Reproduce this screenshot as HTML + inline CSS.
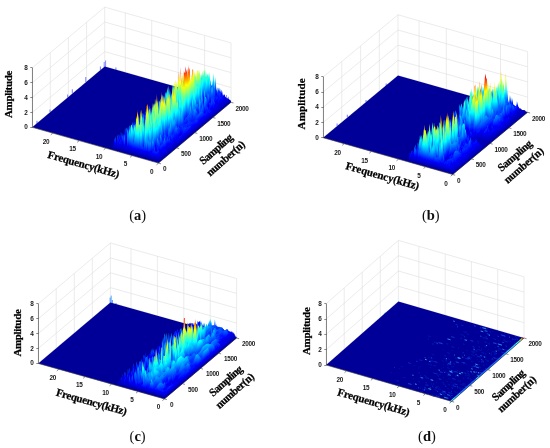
<!DOCTYPE html>
<html><head><meta charset="utf-8"><title>Figure</title>
<style>
html,body{margin:0;padding:0;background:#fff}
svg{display:block}
.tk{font-family:"Liberation Sans",sans-serif;font-size:6.4px;font-weight:bold;fill:#1a1a1a;letter-spacing:-0.3px}
.ti{font-family:"Liberation Serif",serif;font-weight:bold;font-size:11px;fill:#000;stroke:#000;stroke-width:0.25px}
.cap{font-family:"Liberation Serif",serif;font-size:14.5px;fill:#111}
</style></head><body>
<svg width="550" height="448" viewBox="0 0 550 448">
<defs><filter id="bl" x="-5%" y="-5%" width="110%" height="110%"><feGaussianBlur stdDeviation="0.45"/></filter><filter id="bt" x="-5%" y="-5%" width="110%" height="110%"><feGaussianBlur stdDeviation="0.25"/></filter><linearGradient id="ga" gradientUnits="userSpaceOnUse" x1="0" y1="0" x2="-29.25" y2="-34.87"><stop offset="0%" stop-color="#030398"/><stop offset="6%" stop-color="#0000c8"/><stop offset="12.5%" stop-color="#0000ff"/><stop offset="25%" stop-color="#0080ff"/><stop offset="37.5%" stop-color="#00ffff"/><stop offset="50%" stop-color="#80ff80"/><stop offset="62.5%" stop-color="#ffff00"/><stop offset="75%" stop-color="#ff8000"/><stop offset="87.5%" stop-color="#ff0000"/><stop offset="100%" stop-color="#800000"/></linearGradient>
<linearGradient id="gb" gradientUnits="userSpaceOnUse" x1="0" y1="0" x2="-26.85" y2="-32.33"><stop offset="0%" stop-color="#030398"/><stop offset="6%" stop-color="#0000c8"/><stop offset="12.5%" stop-color="#0000ff"/><stop offset="25%" stop-color="#0080ff"/><stop offset="37.5%" stop-color="#00ffff"/><stop offset="50%" stop-color="#80ff80"/><stop offset="62.5%" stop-color="#ffff00"/><stop offset="75%" stop-color="#ff8000"/><stop offset="87.5%" stop-color="#ff0000"/><stop offset="100%" stop-color="#800000"/></linearGradient>
<linearGradient id="gc" gradientUnits="userSpaceOnUse" x1="0" y1="0" x2="-22.73" y2="-26.94"><stop offset="0%" stop-color="#030398"/><stop offset="6%" stop-color="#0000c8"/><stop offset="12.5%" stop-color="#0000ff"/><stop offset="25%" stop-color="#0080ff"/><stop offset="37.5%" stop-color="#00ffff"/><stop offset="50%" stop-color="#80ff80"/><stop offset="62.5%" stop-color="#ffff00"/><stop offset="75%" stop-color="#ff8000"/><stop offset="87.5%" stop-color="#ff0000"/><stop offset="100%" stop-color="#800000"/></linearGradient>
<linearGradient id="gd" gradientUnits="userSpaceOnUse" x1="0" y1="0" x2="-30.34" y2="-34.60"><stop offset="0%" stop-color="#030398"/><stop offset="6%" stop-color="#0000c8"/><stop offset="12.5%" stop-color="#0000ff"/><stop offset="25%" stop-color="#0080ff"/><stop offset="37.5%" stop-color="#00ffff"/><stop offset="50%" stop-color="#80ff80"/><stop offset="62.5%" stop-color="#ffff00"/><stop offset="75%" stop-color="#ff8000"/><stop offset="87.5%" stop-color="#ff0000"/><stop offset="100%" stop-color="#800000"/></linearGradient></defs>
<rect width="550" height="448" fill="#fff"/>
<!-- plot a -->
<g filter="url(#bl)">
<path d="M32.2 127.3L32.2 67.9M50.3 112.1L50.3 52.7M68.4 96.9L68.4 37.5M86.6 81.7L86.6 22.3M104.7 66.5L104.7 7.1M32.2 127.3L104.7 66.5L231 102.3M32.2 112.5L104.7 51.6L231 87.5M32.2 97.6L104.7 36.8L231 72.6M32.2 82.8L104.7 22L231 57.8M32.2 67.9L104.7 7.1L231 42.9M125.3 72.3L125.3 12.9M151.7 79.8L151.7 20.4M178.2 87.3L178.2 27.9M204.6 94.8L204.6 35.4M231 102.3L231 42.9" fill="none" stroke="#dedede" stroke-width="0.6"/>
<path d="M37 125.8v-5" stroke="#6f7dff" stroke-width="1"/><path d="M67.7 97.5v-3" stroke="#6f7dff" stroke-width="1"/><path d="M72.3 93.3v-4" stroke="#6f7dff" stroke-width="1"/><path d="M85.8 82v-5" stroke="#6f7dff" stroke-width="1"/><path d="M100.4 70v-3.5" stroke="#6f7dff" stroke-width="1"/><path d="M104.2 67v-5" stroke="#7f8cff" stroke-width="1"/><path d="M105.6 67v-6.5" stroke="#7f8cff" stroke-width="1"/><path d="M115.9 70v-2.5" stroke="#6f7dff" stroke-width="1"/><path d="M226.5 101v-6" stroke="#8a94ff" stroke-width="1"/><path d="M228.5 101.8v-5" stroke="#8a94ff" stroke-width="1"/><path d="M50 112v-2.5" stroke="#6f7dff" stroke-width="1"/>
<polygon points="158.5,163.1 32.2,127.3 104.7,66.5 231,102.3" fill="#030398"/>
<g fill="url(#ga)"><path transform="translate(111.4 149.7)" d="M0 0l0-0.8l0.8-0.7l0.7-0.7l0.8-0.7l0.8-0.7l0.7-0.7l0.8-0.6l0.7-0.7l0.8-0.7l0.8-0.6l0.7-2.2l0.8 0.1l0.8 0.3l0.7-0.5l0.8-0.7l0.7-0.6l0.8-0.6l0.8-0.6l0.7-0.6l0.8-2.1l0.8-0.1l0.7-0.9l0.8-0.2l0.8-0.7l0.7-0.5l0.8-0.5l0.7-0.5l0.8-0.5l0.8-2.1l0.7-0.1l0.8-1.1l0.8-0.1l0.7 0.6l0.8-0.8l0.7-3.1l0.8 0.2l0.8 0.6l0.7-0.6l0.8-3.1l0.8 0.3l0.7-2.2l0.8 0.4l0.8 1.5l0.7-0.6l0.8-0.6l0.7-0.6l0.8-0.7l0.8-0.8l0.7-0.8l0.8-0.8l0.8-0.7l0.7-0.6l0.8-0.6l0.7-0.6l0.8-0.6l0.8-0.6l0.7-0.5l0.8-0.5l0.8-0.6l0.7-0.6l0.8-0.6l0.8-0.7l0.7-0.6l0.8-0.7l0.7-4.4l0.8 0.5l0.8 2l0.7-0.7l0.8-0.6l0.8-0.6l0.7-0.7l0.8-0.7l0.7-0.6l0.8-0.7l0.8-0.5l0.7-0.6l0.8-0.5l0.8-0.6l0.7-0.7l0.8-0.7l0.8-0.6l0.7-0.7l0.8-0.6l0.7-0.6l0.8-0.6l0.8-0.7l0.7-0.6l0.8-0.6l0.8-0.7l0.7-0.8l0.8-2.7l0.7 0.1l0.8 0.8l0.8-0.4l0.7-0.5l0.8-0.4l0 0.2z"/>
<path transform="translate(112.3 150)" d="M0 0l0-2.8l0.8-0.7l0.7-0.6l0.8-7.2l0.8 1.5l0.7 1.3l0.8 1.9l0.7-0.5l0.8-8.7l0.8 2.3l0.7 4.5l0.8-0.8l0.8-3.1l0.7 0.8l0.8 0.1l0.7-0.4l0.8-0.3l0.8-0.3l0.7-0.5l0.8-0.7l0.8-1l0.7-1.1l0.8-0.9l0.8-0.7l0.7-0.6l0.8-0.7l0.7-6.9l0.8 1.8l0.8 3.2l0.7-0.2l0.8-6.5l0.8 0.5l0.7 1.3l0.8-3l0.7 1.4l0.8 1.7l0.8 0.3l0.7-0.7l0.8-2.6l0.8 0.4l0.7-8.7l0.8 2.2l0.8-1.5l0.7 1.7l0.8-4.7l0.7-1.7l0.8 2.4l0.8 5.9l0.7-10.5l0.8-0.1l0.8 2.5l0.7 4.1l0.8-0.2l0.7-0.2l0.8-8.5l0.8 2l0.7 1.8l0.8-1.4l0.8-5.5l0.7 2.4l0.8-2.6l0.8 2.2l0.7 3.9l0.8-0.9l0.7-0.5l0.8-0.3l0.8-0.2l0.7-0.3l0.8-0.5l0.8-4.6l0.7 1.3l0.8 0.2l0.7-1l0.8-0.5l0.8-2.1l0.7 0.7l0.8-0.4l0.8 0l0.7 0.5l0.8-0.5l0.8-0.5l0.7-7.5l0.8 1.4l0.7 4.2l0.8-0.7l0.8-0.7l0.7-0.7l0.8-0.6l0.8-3.3l0.7 0.5l0.8 0.6l0.7-0.7l0.8-0.6l0.8-0.4l0.7-0.4l0.8 0.1l0 0.6z"/>
<path transform="translate(113.3 150.3)" d="M0 0l0-3.7l0.8-7.7l0.7 1.3l0.8 1.5l0.8 2.6l0.7-0.6l0.8-0.5l0.7-0.4l0.8-3.2l0.8 0.9l0.7-8.6l0.8 2.8l0.8 4.9l0.7-0.7l0.8-5.7l0.7 1.4l0.8 1.1l0.8 1.5l0.7-3.5l0.8 0.6l0.8 0.8l0.7-9.3l0.8 1.5l0.8 1.6l0.7 3.1l0.8-8.8l0.7 2.1l0.8-2.9l0.8 0l0.7 2l0.8 3.3l0.8 0.4l0.7-0.6l0.8-0.8l0.7-0.8l0.8-0.8l0.8-0.7l0.7-0.6l0.8-0.5l0.8-0.6l0.7-4.9l0.8 1.1l0.8 1.5l0.7-3.8l0.8 0.7l0.7 1.3l0.8-0.8l0.8-1.1l0.7-1.3l0.8-1.3l0.8-0.8l0.7-3l0.8 1.1l0.7-6.1l0.8 2l0.8 4.3l0.7-0.5l0.8-8.3l0.8 2.2l0.7 4.7l0.8-0.8l0.8-3.8l0.7 0.9l0.8-1.8l0.7-4.9l0.8 1.5l0.8 4.1l0.7-5.1l0.8-7.6l0.8 1.8l0.7 3l0.8-0.7l0.7 2.1l0.8 1l0.8-0.2l0.7-0.2l0.8-3.7l0.8 0.8l0.7 1.8l0.8-8.2l0.8 1.8l0.7 5.2l0.8-0.5l0.7-9.2l0.8 1.9l0.8 5.1l0.7-0.4l0.8-0.8l0.8-0.8l0.7-0.8l0.8-0.8l0.7-0.7l0.8-0.5l0.8-0.3l0.7-3.7l0.8 2.6l0 1.7z"/>
<path transform="translate(114.3 150.6)" d="M0 0l0-4.8l0.8-9.3l0.7 2.5l0.8 5.3l0.8-9.6l0.7 2.4l0.8 5.7l0.7-0.3l0.8-0.3l0.8-0.5l0.7-9l0.8 2.6l0.8 5.1l0.7-0.4l0.8-11.5l0.7 2.7l0.8 7l0.8-6.2l0.7-5.2l0.8 2.5l0.8-0.3l0.7 1.6l0.8 2.4l0.8-0.6l0.7-0.4l0.8-0.4l0.7-0.4l0.8-0.6l0.8-8.2l0.7 1.2l0.8 1.7l0.8 1.8l0.7-1.4l0.8-4.9l0.7 1.6l0.8 1.5l0.8 0.4l0.7-3.8l0.8-1.7l0.8 1.3l0.7 2.6l0.8-0.6l0.8-1.2l0.7-1.5l0.8-1.4l0.7-1.2l0.8-8l0.8 2.3l0.7 4l0.8-0.6l0.8-0.7l0.7-0.4l0.8-8l0.7 2.1l0.8 4.9l0.8-11.8l0.7 3l0.8 6.8l0.8-0.7l0.7-0.5l0.8-0.5l0.8-0.5l0.7-0.4l0.8-0.6l0.7-0.6l0.8-0.6l0.8-0.7l0.7-0.6l0.8-0.7l0.8-0.6l0.7-0.5l0.8-0.6l0.7-7.6l0.8 2.4l0.8 2.8l0.7-3.9l0.8 0.5l0.8-3.1l0.7 1.3l0.8 1.8l0.8-0.1l0.7-0.3l0.8-0.5l0.7-7.7l0.8 1.7l0.8 1l0.7 0.7l0.8 1.6l0.8-8.3l0.7 1.9l0.8 3.3l0.7-6.5l0.8 1.8l0.8 3.8l0.7-0.4l0.8-2l0 3.3z"/>
<path transform="translate(115.2 150.8)" d="M0 0l0-13.1l0.8 2.5l0.7 5l0.8-0.6l0.8-0.6l0.7-5.1l0.8-4.1l0.7 2.4l0.8 4.8l0.8-0.5l0.7-0.5l0.8-6.1l0.8 1.6l0.7 3.8l0.8-12.6l0.7 0.6l0.8 2.7l0.8 3.8l0.7-4l0.8-5.1l0.8 2.7l0.7 5.4l0.8-1l0.8-0.6l0.7-0.4l0.8-7.4l0.7 1.8l0.8 4.5l0.8-0.8l0.7-1l0.8-1l0.8-1l0.7-7.1l0.8 2.3l0.7-1.1l0.8 1.4l0.8-2.5l0.7-6.7l0.8 2.6l0.8-0.9l0.7-3.7l0.8 2.9l0.8 0.4l0.7 1.6l0.8 1.9l0.7-9.2l0.8 2.6l0.8 4.5l0.7-0.4l0.8-0.5l0.8-0.7l0.7-5.1l0.8 1.8l0.7-0.4l0.8-6.2l0.8 2.1l0.7 4.8l0.8-0.8l0.8-8.7l0.7 2.5l0.8 4.4l0.8-0.3l0.7-9.4l0.8 2.1l0.7 5.9l0.8-0.8l0.8-0.9l0.7-0.8l0.8-12.4l0.8 3.6l0.7 7.2l0.8-0.4l0.7-0.5l0.8-8.5l0.8 2.4l0.7 2.8l0.8-1.2l0.8-0.7l0.7-0.3l0.8-6.5l0.8 1.7l0.7 4.1l0.8-0.4l0.7-0.4l0.8-3.7l0.8-6.1l0.7 2.9l0.8 4.9l0.8-1.2l0.7-1.1l0.8-1l0.7-0.6l0.8-0.2l0.8-1.3l0.7 0.8l0.8 1l0 0.6z"/>
<path transform="translate(116.2 151.1)" d="M0 0l0-2.5l0.8-5.8l0.7 1.2l0.8 1.8l0.8-1l0.7-0.9l0.8-0.9l0.7-8.5l0.8 2.4l0.8-0.9l0.7 1.7l0.8 2.1l0.8-1.9l0.7 0.7l0.8-5.4l0.7 1.6l0.8-1.4l0.8 1.4l0.7-10.1l0.8 3.3l0.8 6.6l0.7-12.7l0.8 3l0.8 8.4l0.7-2l0.8 0.4l0.7-14.3l0.8 3.5l0.8 5.7l0.7 3.2l0.8-8.7l0.8-3.8l0.7 3.4l0.8-3.3l0.7 2.7l0.8 2.2l0.8-5.6l0.7 2l0.8 4.4l0.8-0.9l0.7-0.9l0.8-0.6l0.8-10.9l0.7 2.7l0.8 2.1l0.7 0.2l0.8 1.3l0.8 0.9l0.7-0.8l0.8-1l0.8-0.8l0.7-0.4l0.8-0.2l0.7-0.1l0.8-0.3l0.8-0.8l0.7-10.9l0.8 2.1l0.8 6.1l0.7-0.6l0.8-0.5l0.8-0.4l0.7-0.5l0.8-0.5l0.7-13.7l0.8 3l0.8 7.3l0.7-14.8l0.8 4.3l0.8 6.3l0.7 1.1l0.8-0.5l0.7-0.5l0.8-0.5l0.8-0.4l0.7-0.2l0.8-0.4l0.8-0.4l0.7-0.5l0.8-0.5l0.8-0.5l0.7-8.3l0.8 2.3l0.7 4.5l0.8-0.4l0.8-9.7l0.7 3.2l0.8-0.7l0.8 1.7l0.7 1.6l0.8-0.8l0.7-0.6l0.8 0l0.8 0.2l0.7 0.2l0.8-1.1l0 1.7z"/>
<path transform="translate(117.1 151.4)" d="M0 0l0-1.6l0.8-12.2l0.7 2.8l0.8 6.1l0.8-1.2l0.7-1l0.8-1.2l0.7-7.1l0.8 1.8l0.8 1.7l0.7-0.4l0.8 0.3l0.8-5.1l0.7-0.1l0.8 1.6l0.7 2.6l0.8-1.6l0.8-1.4l0.7-1l0.8-7.7l0.8 2.7l0.7 5.2l0.8 0l0.8-0.5l0.7-0.6l0.8-14.4l0.7-0.1l0.8 3.1l0.8-0.7l0.7 2.7l0.8 5.6l0.8-0.6l0.7-4l0.8 1l0.7 0.2l0.8-5.9l0.8 1.3l0.7 2l0.8-4.4l0.8 1l0.7-11l0.8 3.5l0.8 7.1l0.7-0.2l0.8-0.2l0.7-0.3l0.8-0.6l0.8-0.9l0.7-1l0.8-11.2l0.8 2.8l0.7 6l0.8-10.2l0.7 2.8l0.8 0.8l0.8-6.7l0.7 2.5l0.8 5.1l0.8-14.4l0.7 4.2l0.8-3.3l0.8 4l0.7 8.8l0.8-0.6l0.7-0.8l0.8-10.5l0.8 2.2l0.7 2.4l0.8 0.3l0.8-0.5l0.7-0.5l0.8-1.1l0.7 0.1l0.8-0.4l0.8 0.1l0.7-7.2l0.8-2.6l0.8 2.8l0.7-2.7l0.8 2.5l0.8 3.7l0.7 0.7l0.8-0.3l0.7-0.5l0.8-0.4l0.8-0.5l0.7-0.5l0.8-4.6l0.8-4.6l0.7 2.2l0.8 3.4l0.7-0.5l0.8 0l0.8 0.3l0.7 0.2l0.8-0.6l0 1.2z"/>
<path transform="translate(118.1 151.6)" d="M0 0l0-1.9l0.8-0.8l0.7-1.1l0.8-1.2l0.8-1.1l0.7-0.9l0.8-0.8l0.7-0.9l0.8-0.9l0.8-7.8l0.7 1.7l0.8 3.9l0.8-0.5l0.7-0.5l0.8-0.6l0.7-13l0.8 3.8l0.8-2.6l0.7 3.2l0.8 4.9l0.8-0.1l0.7-0.1l0.8-0.2l0.8-11.1l0.7 2.4l0.8 6.8l0.7-0.7l0.8-0.7l0.8-0.8l0.7-13.5l0.8 4.1l0.8-2.9l0.7 3.4l0.8 0l0.7 1.8l0.8 1.3l0.8-0.8l0.7-0.7l0.8-0.9l0.8-6.5l0.7 2l0.8 2.3l0.8-7.6l0.7 2.6l0.8 5.3l0.7-0.2l0.8-0.7l0.8-11l0.7 2.7l0.8-5.1l0.8 2.8l0.7-5.2l0.8-0.2l0.7 3l0.8 0.4l0.8 1.8l0.7 3.8l0.8-1.1l0.8-1.1l0.7-0.7l0.8-0.7l0.8-8.1l0.7-7l0.8 4.7l0.7-2.6l0.8 4l0.8 3.7l0.7-1.1l0.8-5.2l0.8 2.2l0.7 1.4l0.8-5l0.7 1.8l0.8 1.9l0.8 0.2l0.7 0.3l0.8 0.2l0.8-4.8l0.7 1.2l0.8 1.8l0.8-0.8l0.7-0.7l0.8-0.6l0.7-0.5l0.8-3.5l0.8 1.1l0.7-1l0.8 0.7l0.8-7.4l0.7 0.7l0.8 1.6l0.7 1.7l0.8 0l0.8 0.5l0.7 0.3l0.8-1.8l0 2.5z"/>
<path transform="translate(119.1 151.9)" d="M0 0l0-10.8l0.8 2.1l0.7 4.4l0.8-1.2l0.8-12l0.7 3.6l0.8 6.5l0.7-0.4l0.8-0.5l0.8-6.6l0.7 1.7l0.8 2.2l0.8-5.1l0.7 1.5l0.8 0.4l0.7-0.6l0.8-4.6l0.8 1.2l0.7 2l0.8-0.4l0.8-9.8l0.7-1.2l0.8 2.8l0.8 6.4l0.7-0.7l0.8-10.6l0.7 1.4l0.8 2.2l0.8-4.9l0.7 3l0.8 3.8l0.8-0.8l0.7-0.8l0.8-0.9l0.7-0.9l0.8-0.8l0.8-0.7l0.7-0.7l0.8-0.7l0.8-0.9l0.7-0.7l0.8-0.6l0.8 0l0.7 0.5l0.8 0.4l0.7 0l0.8-0.8l0.8-1.1l0.7-11.7l0.8 2.8l0.8 5.4l0.7-0.4l0.8 0l0.7-11.6l0.8-4.2l0.8 3.6l0.7 3.2l0.8-10.7l0.8 3.3l0.7 10.9l0.8-0.8l0.8-1.1l0.7-16.2l0.8 5.8l0.7 8l0.8-0.6l0.8-0.6l0.7-0.6l0.8-0.6l0.8-0.3l0.7-0.4l0.8-0.3l0.7-0.5l0.8-0.4l0.8 0.2l0.7-5.2l0.8 1.6l0.8 3.8l0.7-7.2l0.8 1.6l0.8 3l0.7-8.3l0.8 2l0.7-1l0.8 0.9l0.8 0.8l0.7 2.4l0.8-10.6l0.8 2.3l0.7 4.6l0.8-9.2l0.7 2.4l0.8-4.1l0.8 3.7l0.7 6.3l0.8 0.3l0 0.6z"/>
<path transform="translate(120 152.2)" d="M0 0l0-3.4l0.8-9.5l0.7 2.7l0.8 4.2l0.8-0.8l0.7-0.4l0.8-0.3l0.7-6.6l0.8 1.7l0.8 4.1l0.7-0.8l0.8-1.1l0.8-1.4l0.7-1.1l0.8-0.7l0.7-5.6l0.8 1.5l0.8 2.6l0.7-12.8l0.8 3.1l0.8 8l0.7-13.9l0.8 3.6l0.8 9.1l0.7-0.7l0.8-0.9l0.7-0.9l0.8-0.9l0.8-0.8l0.7-14.3l0.8 4.2l0.8 8.1l0.7-0.8l0.8-1l0.7-1l0.8-1l0.8-0.9l0.7-9.9l0.8 2.5l0.8 5.5l0.7-0.7l0.8-0.7l0.8-0.2l0.7 0.1l0.8 0.2l0.7-0.2l0.8-15.8l0.8 4.1l0.7-1.8l0.8 2.8l0.8 5.6l0.7-14.6l0.8 3.7l0.7 9.6l0.8-11.5l0.8 2.9l0.7 6l0.8-3.9l0.8-3.1l0.7 2.2l0.8-1l0.8-13.5l0.7 5.2l0.8 1.1l0.7-7.2l0.8 5.8l0.8 5.5l0.7 1.4l0.8-2.9l0.8 1.5l0.7 0.4l0.8-0.3l0.7-0.4l0.8-6.3l0.8 1.8l0.7 4l0.8-7.6l0.8 2l0.7 4.5l0.8-0.8l0.8-0.9l0.7-3.7l0.8 0.7l0.7 1.2l0.8-0.5l0.8-0.6l0.7-8.6l0.8 1.7l0.8 4.1l0.7-2.7l0.8 0.3l0.7-0.6l0.8 0l0.8 0.4l0.7 0.3l0.8 0.2l0 0.6z"/>
<path transform="translate(121 152.5)" d="M0 0l0-4.2l0.8-0.7l0.7-0.8l0.8-7.4l0.8-5.5l0.7 4l0.8 4l0.7 3.2l0.8-0.1l0.8-4.4l0.7-10.9l0.8 2.8l0.8 8.6l0.7-7.5l0.8 2l0.7 3l0.8-11.3l0.8 3.6l0.7-3.5l0.8-0.7l0.8 3l0.7 1.8l0.8 1.2l0.8 2.7l0.7-13.4l0.8 2l0.7 2.5l0.8 2.7l0.8-9.9l0.7 2.9l0.8-4.8l0.8 3l0.7 7l0.8-6.7l0.7-2.4l0.8-2.4l0.8 2.4l0.7 5.4l0.8-11.5l0.8 2.9l0.7 7.8l0.8-0.7l0.8-0.5l0.7-10.9l0.8 3.1l0.7-8.4l0.8 4.2l0.8 5.2l0.7 1.2l0.8 1.2l0.8-0.7l0.7-16.1l0.8 3.5l0.7 8.9l0.8-1l0.8-0.7l0.7-1l0.8-0.9l0.8-17.5l0.7 6.4l0.8 9.4l0.8-13.2l0.7 0.8l0.8 4.3l0.7 7.5l0.8-13.6l0.8 4.4l0.7 6.8l0.8-0.5l0.8-0.3l0.7-0.1l0.8-9.9l0.7 2.6l0.8-2.9l0.8 2.4l0.7 1.9l0.8 1.2l0.8 2.1l0.7-0.6l0.8-0.8l0.8-0.7l0.7-0.7l0.8-7.1l0.7 1.5l0.8 3.7l0.8-0.7l0.7-7.3l0.8 1.5l0.8 3.1l0.7-1.1l0.8-1l0.7-5.2l0.8-1.4l0.8 2.6l0.7 4l0.8 0.2l0 0.6z"/>
<path transform="translate(122 152.7)" d="M0 0l0-4l0.8-0.7l0.7-0.9l0.8-9.4l0.8 2.7l0.7 4.8l0.8-0.3l0.7-0.2l0.8-0.3l0.8-0.4l0.7-15l0.8 3.7l0.8-6.3l0.7 3.6l0.8 2.9l0.7 5.3l0.8-0.4l0.8-0.5l0.7-3.3l0.8 1.3l0.8 0.9l0.7-0.1l0.8-0.2l0.8-6.4l0.7 1.2l0.8 2.5l0.7-1.1l0.8-14.6l0.8 3.9l0.7 8.8l0.8-0.2l0.8-0.4l0.7-0.6l0.8-1l0.7-1.1l0.8-8.1l0.8-7.4l0.7 3.4l0.8 9.1l0.8-8.4l0.7 2.2l0.8-1.6l0.8-6.7l0.7 3.7l0.8 3.3l0.7 4.3l0.8-9.2l0.8 2.4l0.7-5.5l0.8 2.3l0.8 5.5l0.7-1l0.8-9.6l0.7 2.3l0.8 3.9l0.8-2.7l0.7 1.1l0.8-0.9l0.8-0.9l0.7-9.2l0.8 3.7l0.8 4.8l0.7 0l0.8-0.2l0.7-16.6l0.8 5.6l0.8 9.3l0.7-0.6l0.8-0.5l0.8-0.4l0.7-0.3l0.8-0.4l0.7-0.5l0.8-0.5l0.8-9.6l0.7 2.6l0.8 6l0.8-0.5l0.7-0.6l0.8-0.7l0.8-0.7l0.7-0.7l0.8-9.1l0.7 1.9l0.8 0.9l0.8 0.8l0.7 2l0.8-9.3l0.8 2.2l0.7-5l0.8 2.8l0.7 4.5l0.8 0l0.8 0.4l0.7 0.3l0.8 0.4l0 0.7z"/>
<path transform="translate(122.9 153)" d="M0 0l0-3.2l0.8-0.9l0.7-7.9l0.8 1.8l0.8 2.7l0.7-0.7l0.8-0.8l0.7-0.9l0.8-0.9l0.8-0.7l0.7-16.2l0.8 5.6l0.8 8.5l0.7-0.8l0.8-0.6l0.7-0.5l0.8-0.4l0.8-0.5l0.7-0.6l0.8-0.4l0.8 0.1l0.7 0.2l0.8 0l0.8-0.6l0.7-1.2l0.8-1.6l0.7-1.6l0.8-1.1l0.8-0.5l0.7-0.4l0.8-0.3l0.8-8.5l0.7 2.4l0.8 2.3l0.7 2.4l0.8-14l0.8 3.6l0.7-2.9l0.8-1.8l0.8 3.4l0.7-6l0.8 3.9l0.8 8.2l0.7-0.2l0.8-0.1l0.7-0.4l0.8-0.9l0.8-6.6l0.7 1.6l0.8-0.2l0.8-0.9l0.7-0.6l0.8-0.6l0.7-8.7l0.8 2.7l0.8-11.1l0.7 4.1l0.8-7.8l0.8 4.6l0.7 7.2l0.8-18.1l0.8 6.9l0.7 7.5l0.8 3.3l0.7 3.2l0.8-10.8l0.8 4.3l0.7 6.4l0.8-12l0.8 3.2l0.7 6.8l0.8-1l0.7-0.8l0.8-0.5l0.8-0.3l0.7-7.7l0.8 2.4l0.8 4.6l0.7-0.6l0.8-0.6l0.8-0.5l0.7-0.6l0.8-0.7l0.7-4.6l0.8 0.7l0.8 1.4l0.7-6.4l0.8-1.6l0.8 1.7l0.7 1.8l0.8-8.5l0.7 3.2l0.8 2.6l0.8 1.6l0.7 0.7l0.8 0.6l0 0.9z"/>
<path transform="translate(123.9 153.3)" d="M0 0l0-19.3l0.8 4.1l0.7 10l0.8-1.3l0.8-1.1l0.7-0.8l0.8-1l0.7-15.2l0.8 4.5l0.8 7.6l0.7-0.7l0.8-0.6l0.8-0.6l0.7-2.9l0.8 1.6l0.7-0.5l0.8-0.4l0.8-14.4l0.7 4.2l0.8 6.1l0.8 2.8l0.7 0.2l0.8 0.1l0.8-0.6l0.7-9.4l0.8 2.5l0.7 2.2l0.8-1l0.8-4.2l0.7 2l0.8 1l0.8-0.4l0.7-0.4l0.8-0.1l0.7 0.2l0.8 0.1l0.8-0.3l0.7-0.8l0.8-1l0.8-1.3l0.7-1.2l0.8-0.9l0.8-0.5l0.7-0.2l0.8-6.3l0.7 1.8l0.8 0.6l0.8 0.6l0.7-2l0.8-10.5l0.8 2.5l0.7 4.9l0.8-0.4l0.7-1.4l0.8 0.8l0.8-0.5l0.7-0.8l0.8-0.8l0.8-0.9l0.7-0.4l0.8-0.4l0.8-0.4l0.7-8.1l0.8 3.2l0.7-6.4l0.8-10.4l0.8 6.6l0.7 4.8l0.8-10.6l0.8 5.6l0.7 12.3l0.8-1.1l0.7-1l0.8-0.5l0.8-0.2l0.7-0.1l0.8-0.1l0.8-0.5l0.7-0.6l0.8-0.6l0.8-0.5l0.7-10.1l0.8 2.5l0.7 5.5l0.8-1l0.8-0.9l0.7-0.8l0.8-0.8l0.8-0.9l0.7-3.4l0.8 1.1l0.7-10.5l0.8 3.7l0.8 6.4l0.7 0.2l0.8 0.8l0 1.1z"/>
<path transform="translate(124.8 153.6)" d="M0 0l0-7.3l0.8 1.1l0.7 0l0.8-0.9l0.8-0.9l0.7-0.6l0.8-0.6l0.7-0.5l0.8-0.5l0.8-0.6l0.7-0.8l0.8-1l0.8-9.6l0.7 3l0.8 4l0.7-0.5l0.8-6.4l0.8 2l0.7 3.2l0.8-0.8l0.8-13.1l0.7 4l0.8 6.9l0.8-0.7l0.7-16l0.8 5.9l0.7 8.4l0.8-0.5l0.8-11.5l0.7 3.3l0.8 5.7l0.8-0.8l0.7-1.1l0.8 0.5l0.7 0.1l0.8 0l0.8-9.7l0.7 2.7l0.8-7.2l0.8-0.9l0.7 3.6l0.8 6.3l0.8-0.8l0.7-0.8l0.8-0.7l0.7-0.7l0.8-14.7l0.8 4.3l0.7 7.6l0.8-1l0.8-11.9l0.7 3.1l0.8 7.7l0.7-0.1l0.8-4.4l0.8-6.5l0.7-16l0.8 6l0.8 4.2l0.7 4.3l0.8 6.7l0.8-14.5l0.7 4.9l0.8 10.5l0.7-0.5l0.8-0.5l0.8-24.2l0.7 6.6l0.8 5.1l0.8-8.5l0.7 6.1l0.8-7.8l0.7 4.3l0.8 5l0.8 7.7l0.7 0l0.8 0l0.8-13.5l0.7 3.4l0.8-2.2l0.8 2.8l0.7 6.3l0.8-0.7l0.7-7l0.8 1.7l0.8 1.8l0.7-0.9l0.8-0.7l0.8-10.2l0.7 3l0.8-2.6l0.7 2.4l0.8 3.9l0.8-6.9l0.7 0.9l0.8 4.1l0 4.9z"/>
<path transform="translate(125.8 153.8)" d="M0 0l0-5.4l0.8-0.6l0.7-0.7l0.8-15.4l0.8 4.6l0.7 8.9l0.8-0.3l0.7-0.1l0.8-13l0.8 4l0.7 7.5l0.8-1.2l0.8-9.1l0.7 2.9l0.8 3l0.7-0.5l0.8-0.3l0.8-0.4l0.7-11.4l0.8 2.8l0.8 5.5l0.7-13.5l0.8 4.4l0.8 5.4l0.7-0.1l0.8 0.3l0.7 0.3l0.8-0.1l0.8-9.6l0.7 3l0.8 3.2l0.8-13.9l0.7 4.5l0.8 1.7l0.7 2.6l0.8 3.6l0.8-0.3l0.7-0.7l0.8-1l0.8-1l0.7-7l0.8 2.4l0.8 1.6l0.7-1.1l0.8-1.1l0.7-1l0.8-0.7l0.8-0.4l0.7-0.4l0.8-3l0.8-8.3l0.7-5.5l0.8 4.2l0.7-7.3l0.8-0.1l0.8 4.7l0.7 11.8l0.8-1.8l0.8-1.7l0.7-1.2l0.8 0.8l0.8-24.8l0.7 7.7l0.8-7.8l0.7 7.6l0.8 17.5l0.8-1.1l0.7-1l0.8-0.8l0.8-0.8l0.7-7.2l0.8-8.9l0.7 4.9l0.8-6.3l0.8 4.7l0.7 10.1l0.8-6.6l0.8 1.9l0.7-4.3l0.8-1.8l0.8 2.6l0.7-7l0.8 3.3l0.7 7.1l0.8-8.7l0.8 1.8l0.7 3.2l0.8-15.4l0.8 4.3l0.7 3.3l0.8-2.3l0.7 2.9l0.8 3.6l0.8 0.1l0.7 0.3l0.8-2.4l0 5z"/>
<path transform="translate(126.8 154.1)" d="M0 0l0-5.8l0.8-20.2l0.7 6.1l0.8 12.3l0.8-0.6l0.7-13.7l0.8-6.3l0.7 5.6l0.8 13.3l0.8-10.5l0.7 3.4l0.8 4.6l0.8-5.9l0.7 2.1l0.8-4.3l0.7-8.9l0.8 3.2l0.8 1.3l0.7 2l0.8 4.1l0.8-1.7l0.7-21.1l0.8 6.2l0.8 10.7l0.7 0l0.8 0.3l0.7-19.2l0.8 6l0.8-3.6l0.7 5.3l0.8 7.6l0.8-3.6l0.7 2.4l0.8-8.1l0.7-4.4l0.8 4.3l0.8 7.9l0.7-0.7l0.8-0.7l0.8-0.8l0.7-17.5l0.8 5.2l0.8 9.5l0.7-1.1l0.8-1l0.7-2.8l0.8-4.4l0.8 2.7l0.7 2l0.8-10.3l0.8 3.4l0.7 5.8l0.8-0.4l0.7-0.2l0.8-0.3l0.8-0.5l0.7-0.8l0.8-0.9l0.8-0.9l0.7-3.9l0.8 1.9l0.8 1.4l0.7-23.4l0.8 7.1l0.7 15l0.8-0.7l0.8-0.6l0.7-9.3l0.8 3l0.8 3.9l0.7-1.4l0.8-1.3l0.7-7.4l0.8 2.8l0.8-12.5l0.7 5.1l0.8 9.1l0.8 0.8l0.7-0.3l0.8-14.2l0.8 4.4l0.7 8.5l0.8-0.6l0.7-3.7l0.8-11.9l0.8 3.2l0.7 8.7l0.8-16.9l0.8 4.6l0.7-5.4l0.8 5.2l0.7 10.2l0.8-0.5l0.8-0.2l0.7 0.1l0.8-0.5l0 2.8z"/>
<path transform="translate(127.7 154.4)" d="M0 0l0-6.6l0.8-0.6l0.7-19.4l0.8 6.1l0.8 11.7l0.7-13.2l0.8 4.3l0.7 8.1l0.8-20.8l0.8 6.4l0.7 13.1l0.8-1.2l0.8-1.3l0.7-1.1l0.8-0.9l0.7-0.5l0.8-0.4l0.8-14.7l0.7 1.1l0.8 3.8l0.8-0.3l0.7 2.8l0.8-0.4l0.8-8.2l0.7 3.6l0.8 3.9l0.7-14.4l0.8 4.9l0.8 9.7l0.7 0l0.8 0.1l0.8-15.2l0.7 0.7l0.8 3.8l0.7 7.1l0.8-1.7l0.8-1.2l0.7-8.3l0.8 3.5l0.8 3.1l0.7-0.6l0.8-9.7l0.8 3.5l0.7-9.3l0.8 4.5l0.7 6.2l0.8-0.7l0.8-0.3l0.7-8l0.8 2.8l0.8 4.1l0.7-0.7l0.8-1l0.7-0.5l0.8-0.5l0.8-0.1l0.7-12.6l0.8 4.7l0.8 8l0.7-10.9l0.8 4.2l0.8 4.9l0.7-20.5l0.8 6l0.7 11.6l0.8-4.8l0.8 2.2l0.7-8.9l0.8 3.6l0.8 6.1l0.7-1.8l0.8-11.7l0.7 3.1l0.8 5l0.8-0.7l0.7-0.8l0.8-0.6l0.8-0.3l0.7 0l0.8-11.9l0.8 4.2l0.7 7.4l0.8-10.2l0.7 3.5l0.8 5l0.8-0.7l0.7-7.2l0.8 2.7l0.8-7.9l0.7 3.6l0.8 7.2l0.7-0.6l0.8-2.9l0.8 0.5l0.7-3.5l0.8 4.5l0 2.6z"/>
<path transform="translate(128.7 154.6)" d="M0 0l0-6.6l0.8-0.7l0.7-0.9l0.8-1l0.8-0.9l0.7-17.9l0.8 5.7l0.7 11.5l0.8-18.9l0.8 6.2l0.7 11.7l0.8-11.3l0.8 4l0.7 4.4l0.8-0.8l0.7-0.8l0.8-0.7l0.8-0.8l0.7-0.8l0.8-1.1l0.8-1.5l0.7-1.5l0.8-1.3l0.8-0.8l0.7-0.2l0.8 0.1l0.7 0.1l0.8-0.1l0.8-14.6l0.7 4.4l0.8 9.2l0.8-0.4l0.7-10.5l0.8 3.2l0.7 5l0.8-4.1l0.8-6.8l0.7 3.8l0.8 3.6l0.8-18l0.7 6l0.8 9.4l0.8-0.8l0.7-11.6l0.8 4.1l0.7 5.1l0.8-0.7l0.8-0.5l0.7-0.5l0.8-0.5l0.8-7.2l0.7 2.3l0.8 2.8l0.7-0.8l0.8-11.6l0.8 4.2l0.7 6.6l0.8-8.6l0.8 4l0.7 4.6l0.8-5.3l0.8 2.4l0.7-0.1l0.8-1l0.7-0.7l0.8-8.5l0.8-9.1l0.7 5.4l0.8 10.7l0.8-0.8l0.7-1l0.8-0.9l0.7-0.7l0.8-0.5l0.8-14.2l0.7 4.7l0.8 7.8l0.8-0.3l0.7-0.2l0.8-0.2l0.8-13.6l0.7 4.2l0.8 8.5l0.7-0.7l0.8-0.9l0.8-0.8l0.7-0.7l0.8-0.6l0.8-0.5l0.7-0.5l0.8-0.6l0.7-0.6l0.8-0.4l0.8 0l0.7-4.6l0.8 4.6l0 2.7z"/>
<path transform="translate(129.6 154.9)" d="M0 0l0-24.8l0.8 5.3l0.7-9.8l0.8-1l0.8 5.7l0.7 11.3l0.8 0l0.7 0.4l0.8-18.4l0.8 6.5l0.7 11.5l0.8-0.2l0.8-0.1l0.7-0.3l0.8-0.7l0.7-1.4l0.8-8.3l0.8 2.6l0.7 0.6l0.8-0.7l0.8-0.5l0.7-12.5l0.8 4.7l0.8-3l0.7 4l0.8 4.2l0.7-0.4l0.8-13.4l0.8 4.6l0.7 6.3l0.8-1.4l0.8-1.1l0.7-18.4l0.8-2l0.7-0.8l0.8 7l0.8 15.8l0.7-0.9l0.8-1.5l0.8-1.8l0.7-1.5l0.8-1l0.8-0.5l0.7-0.4l0.8-11.1l0.7 4.6l0.8-3.5l0.8 3.8l0.7 2.9l0.8-0.9l0.8-0.8l0.7-0.7l0.8-0.7l0.7-0.7l0.8-0.6l0.8-0.5l0.7 0l0.8 0.2l0.8-11.2l0.7-10.6l0.8 7.5l0.8-7.5l0.7 6.1l0.8-7l0.7 5l0.8 1.3l0.8-2.4l0.7 4.3l0.8 4.8l0.8 0.3l0.7 0.8l0.8-15.7l0.7 6.3l0.8 10.3l0.8-0.3l0.7-0.2l0.8-12.9l0.8 3.8l0.7-4.1l0.8-6.6l0.8 5.2l0.7-4.9l0.8 4.6l0.7 10.8l0.8-11.9l0.8 3l0.7 5.8l0.8-1l0.8-1.3l0.7-1.4l0.8-1.3l0.7-0.7l0.8 0.5l0.8 1.1l0.7-8.5l0.8 6.5l0 5z"/>
<path transform="translate(130.6 155.2)" d="M0 0l0-6.4l0.8-6.8l0.7-6.5l0.8-8.5l0.8 5.6l0.7-8.5l0.8 6.1l0.7 10.7l0.8 0.5l0.8-0.2l0.7-0.5l0.8-0.2l0.8-17.1l0.7 5.5l0.8 10.7l0.7-1.5l0.8-2l0.8-1.8l0.7-12l0.8 4.4l0.8 5.3l0.7-0.5l0.8-0.5l0.8-10.8l0.7 4.5l0.8 4.7l0.7-0.5l0.8-0.5l0.8-0.8l0.7-1.3l0.8-7.7l0.8 3.4l0.7-23.2l0.8 8l0.7 13.9l0.8 5.1l0.8 0.3l0.7-1l0.8-1.8l0.8-2.1l0.7-1.8l0.8-1l0.8-0.5l0.7-0.1l0.8-0.2l0.7-0.4l0.8-0.7l0.8-4.4l0.7-2.9l0.8 2.9l0.8 0.9l0.7-18.9l0.8 3.1l0.7 5.2l0.8 7.5l0.8-0.8l0.7-0.3l0.8 0l0.8-0.2l0.7-0.2l0.8-22.9l0.8 7.6l0.7 11l0.8-0.9l0.7-18.9l0.8 6.3l0.8 11.1l0.7-0.5l0.8-0.3l0.8 0.5l0.7 1.1l0.8-23.1l0.7 8.6l0.8 6.4l0.8 8l0.7-18.5l0.8 5.3l0.8 13.1l0.7-0.5l0.8-0.6l0.8-22.5l0.7 5.9l0.8 5.7l0.7-11.6l0.8 5.3l0.8-4.1l0.7 4.6l0.8-6l0.8 4.8l0.7 2.1l0.8 2.7l0.7 0.9l0.8 0.5l0.8 1.4l0.7-9.2l0.8 8.1l0 4.6z"/>
<path transform="translate(131.6 155.5)" d="M0 0l0-27l0.8 6.4l0.7 8.1l0.8-0.3l0.8-0.5l0.7-0.6l0.8 0.1l0.7 0.5l0.8-13.1l0.8-4.7l0.7 4.4l0.8 11.7l0.8-1.2l0.7-1l0.8-0.8l0.7-0.5l0.8-0.6l0.8-0.5l0.7-0.6l0.8-23.3l0.8 7l0.7 11.8l0.8-20.7l0.8 7.1l0.7 11l0.8-0.2l0.7-12.8l0.8-8.7l0.8 7.5l0.7-2.2l0.8-9.2l0.8 9.1l0.7-7.9l0.8 8.1l0.7 12.6l0.8 1.2l0.8-0.3l0.7-1l0.8-2.1l0.8-2.4l0.7-2.1l0.8-1.1l0.8-2.7l0.7-9l0.8 3.9l0.7-6.1l0.8 4.9l0.8 6.8l0.7 0l0.8-0.3l0.8-21.1l0.7 7l0.8 11.8l0.7-0.8l0.8-13.9l0.8-0.9l0.7 3.7l0.8-3.5l0.8 3l0.7 4l0.8-1l0.8-1.2l0.7-1.1l0.8-13.4l0.7 1.1l0.8-5.4l0.8 8.2l0.7 13.8l0.8 0.3l0.8-2.8l0.7-9.7l0.8 4.7l0.7 6.9l0.8-0.6l0.8-0.6l0.7-5.3l0.8 1.8l0.8 1.7l0.7-0.6l0.8-15l0.8-13.4l0.7 7.3l0.8 18.9l0.7-0.3l0.8-21.4l0.8 6.3l0.7 14l0.8-19.1l0.8-5l0.7 6.6l0.8 13.6l0.7-12.6l0.8-2.7l0.8 6.8l0.7 0.5l0.8 6.3l0 3.6z"/>
<path transform="translate(132.5 155.7)" d="M0 0l0-13.2l0.8-0.2l0.7 0.3l0.8 0.5l0.8 0.2l0.7-0.5l0.8-19.3l0.7 6.5l0.8 6.4l0.8 7.1l0.7-1.4l0.8-0.9l0.8-1.5l0.7-1.3l0.8-10.5l0.7 4.1l0.8-1.2l0.8 3l0.7 3.1l0.8-1.2l0.8-2.1l0.7-2.3l0.8-21.4l0.8-1.7l0.7 6.8l0.8 6l0.7 6.9l0.8-20.5l0.8-3.9l0.7 8l0.8 16.4l0.8 0.1l0.7-0.3l0.8-3.8l0.7 2l0.8 0.6l0.8-17.2l0.7 5.8l0.8 7.8l0.8-23.4l0.7 7.7l0.8 10.4l0.8-0.5l0.7-0.4l0.8-2.2l0.7-15.7l0.8 5.6l0.8 11.1l0.7 0.2l0.8-0.1l0.8-11.8l0.7 4.5l0.8 4.9l0.7-0.9l0.8-0.9l0.8-16.7l0.7 4.7l0.8 6.6l0.8-2.2l0.7-0.7l0.8-30.5l0.8 10.9l0.7 16.7l0.8-18.9l0.7 8.4l0.8-16.2l0.8 10.2l0.7-9.5l0.8 9.6l0.8 21.9l0.7-0.7l0.8-29.8l0.7 8.9l0.8 6.5l0.8 11.5l0.7-1l0.8-1l0.8-0.6l0.7-0.6l0.8-0.7l0.8-12.3l0.7-11.3l0.8 6.9l0.7 14.9l0.8 0.3l0.8-0.4l0.7 0.1l0.8-0.6l0.8-0.7l0.7-12.4l0.8-9.5l0.7 6.9l0.8 12.2l0.8-6.8l0.7-0.7l0.8 6.5l0 3.6z"/>
<path transform="translate(133.5 156)" d="M0 0l0-10l0.8-8l0.7-1.2l0.8 1.5l0.8-18l0.7 7.5l0.8 14.7l0.7 0l0.8 0l0.8-27.7l0.7-5.3l0.8 7.3l0.8 7.2l0.7 4.8l0.8 11.9l0.7-0.5l0.8-0.5l0.8-0.6l0.7-0.6l0.8-1.1l0.8-1.9l0.7-2.1l0.8-1.8l0.8-0.9l0.7-1.1l0.8-10.6l0.7-3.5l0.8-8.5l0.8-0.5l0.7 6l0.8 14.1l0.8-0.1l0.7-0.2l0.8 0.1l0.7 0.4l0.8-21.6l0.8 6l0.7 5.6l0.8 7.4l0.8-1.9l0.7-19.4l0.8 6.4l0.8 9.9l0.7-0.6l0.8-0.6l0.7-0.6l0.8-0.4l0.8-12.8l0.7 4.7l0.8 8.6l0.8-0.6l0.7-25.7l0.8 8l0.7 13.7l0.8-20.1l0.8-13.3l0.7 9.6l0.8-8.3l0.8 10l0.7 16.5l0.8-0.4l0.8-0.4l0.7-0.5l0.8-19.4l0.7 6l0.8 12l0.8-0.2l0.7-25.8l0.8 8.3l0.8 16.6l0.7 0.2l0.8 0.2l0.7-27.6l0.8 7.5l0.8 17.9l0.7-20.3l0.8 6.4l0.8-13.7l0.7 8.4l0.8 13.2l0.8-0.9l0.7-0.8l0.8-0.5l0.7-0.3l0.8-0.2l0.8-0.3l0.7-23l0.8 7.2l0.8 14.9l0.7-14.9l0.8 5.8l0.7 0.1l0.8 4.4l0.8-6.8l0.7 6.3l0.8 2l0 6.5z"/>
<path transform="translate(134.5 156.3)" d="M0 0l0-13.7l0.8-13.2l0.7-5.9l0.8-1.8l0.8 6.1l0.7 12.7l0.8 1.6l0.7-0.2l0.8-21.3l0.8 5.6l0.7 7.6l0.8 8l0.8 0.9l0.7 0.4l0.8-0.5l0.7-0.7l0.8-29.3l0.8 8.6l0.7-8.5l0.8 8.1l0.8 15.9l0.7-2l0.8-1.6l0.8-30.3l0.7 8.8l0.8 17.2l0.7-1.6l0.8-0.9l0.8-26.8l0.7 8.4l0.8-7.1l0.8 7.5l0.7 8l0.8 3.9l0.7 6.4l0.8-20l0.8 7.1l0.7 12.7l0.8-29.3l0.8 9.6l0.7 15l0.8-0.8l0.8-8l0.7-4.8l0.8 4.1l0.7-6l0.8 4.3l0.8 7.7l0.7 0.4l0.8-24.2l0.8 6.4l0.7-7.4l0.8-12l0.7 9l0.8-0.1l0.8-9l0.7 8.7l0.8 20l0.8-33.5l0.7 11.4l0.8-4l0.8 8.5l0.7 17.2l0.8-19.9l0.7 5.7l0.8 11.3l0.8-2.1l0.7-1.8l0.8-1.1l0.8 0.1l0.7 0.9l0.8-25.8l0.7-6.9l0.8 10.2l0.8 21.2l0.7-2.4l0.8-2.1l0.8-1.2l0.7-18.5l0.8 7.7l0.8-9.3l0.7 7.4l0.8 8.4l0.7-0.7l0.8-0.8l0.8-0.8l0.7-0.7l0.8 0l0.8-13.9l0.7 6.2l0.8 9.3l0.7-15.4l0.8 6.8l0.8 9.7l0.7-5l0.8 6l0 3.4z"/>
<path transform="translate(135.4 156.6)" d="M0 0l0-15.9l0.8-21.2l0.7-3.3l0.8-4.6l0.8 7.1l0.7 17.3l0.8-14.6l0.7 7.1l0.8 11.4l0.8-17.2l0.7 4.9l0.8 12.2l0.8 0.8l0.7 0.3l0.8-13.8l0.7 4.8l0.8 6.9l0.8-0.8l0.7-0.8l0.8-0.8l0.8-1l0.7-9.2l0.8 3.1l0.8 3.3l0.7-1l0.8-1.1l0.7-1l0.8-0.7l0.8-34.9l0.7 10.5l0.8 23l0.8-9.3l0.7 4l0.8 4.3l0.7-0.1l0.8-0.1l0.8-0.4l0.7-0.7l0.8-0.9l0.8-0.9l0.7-13l0.8 4.8l0.8 5.9l0.7-1l0.8-0.9l0.7-0.8l0.8-0.4l0.8 0.1l0.7-1.1l0.8 1.2l0.8-0.7l0.7-1l0.8-22.3l0.7 5.1l0.8 13.4l0.8-1l0.7-1.1l0.8-39.1l0.8 10.3l0.7 26.3l0.8 0.2l0.8 0.7l0.7 0.7l0.8 0.2l0.7-23.9l0.8-9l0.8 9l0.7-6.9l0.8 1.9l0.8 8.3l0.7 14.4l0.8 0.7l0.7 0.2l0.8-15.6l0.8 5.3l0.7 4.8l0.8-2.3l0.8-1.4l0.7-0.5l0.8-0.5l0.8-7.9l0.7 4.6l0.8-13.3l0.7 5.2l0.8-8.2l0.8 4.8l0.7 1.5l0.8 3.8l0.8 2.3l0.7 2.5l0.8-1.1l0.7-18.5l0.8 7.9l0.8 13.4l0.7 0.6l0.8 1.8l0 2.1z"/>
<path transform="translate(136.4 156.8)" d="M0 0l0-14.2l0.8-13.1l0.7-16.5l0.8 12.5l0.8-1l0.7 1.4l0.8 6.8l0.7 4.7l0.8-1l0.8-0.8l0.7-0.3l0.8-1l0.8-5.2l0.7 5.3l0.8 1.8l0.7-18.6l0.8 7l0.8 9.2l0.7-20.4l0.8 7.6l0.8 12l0.7 0.3l0.8 0.1l0.8-0.5l0.7-0.3l0.8-0.1l0.7-33.9l0.8 8.8l0.8 7.5l0.7 15.7l0.8-21l0.8 7l0.7-14.5l0.8 8.5l0.7 14.6l0.8-1.7l0.8-16.3l0.7-9.9l0.8 9.8l0.8 12.9l0.7 3.1l0.8-23.7l0.8 7.3l0.7 1.8l0.8 4.7l0.7 4.5l0.8-0.5l0.8-0.1l0.7-0.2l0.8-17.2l0.8 4.1l0.7 11.6l0.8-0.6l0.7-0.5l0.8-21.5l0.8 6.2l0.7 11.8l0.8-2.2l0.8-41.5l0.7 13.8l0.8 25.7l0.8 1.6l0.7 1.5l0.8 0.7l0.7-20.1l0.8 5.5l0.8 11.2l0.7-1.3l0.8-0.8l0.8-0.2l0.7-24.2l0.8 8.3l0.7 16.5l0.8-0.9l0.8-3.9l0.7-1.3l0.8-2.5l0.8-24.4l0.7 5.4l0.8 7.8l0.8 9.8l0.7 0l0.8-8.1l0.7-2.2l0.8-2.8l0.8 0.8l0.7-5.7l0.8-0.2l0.8 4.8l0.7 7.2l0.8 3.6l0.7-23.6l0.8 8.3l0.8-3.9l0.7 9.3l0.8 10.9l0 2.3z"/>
<path transform="translate(137.3 157.1)" d="M0 0l0-47.6l0.8 11.8l0.7 12.9l0.8 0.5l0.8 6l0.7-0.6l0.8-0.9l0.7-1l0.8-15.7l0.8 7.2l0.7 4.7l0.8-19.1l0.8-0.7l0.7 4.5l0.8 13.2l0.7-13.3l0.8 6.4l0.8 1.1l0.7 3l0.8-16l0.8 7.1l0.7-3l0.8 4.7l0.8-15.3l0.7 4.2l0.8 5.1l0.7 14.8l0.8-2.4l0.8-7.2l0.7 2.4l0.8 2.4l0.8-18.7l0.7 7.9l0.8-11.5l0.7 7.8l0.8 9.4l0.8-1.2l0.7-0.2l0.8-7.4l0.8-7.2l0.7 6.6l0.8 6.5l0.8 1.8l0.7-1.2l0.8-1l0.7-0.9l0.8-0.4l0.8-0.3l0.7-0.3l0.8-0.4l0.8-19.8l0.7 4.6l0.8 14l0.7-0.2l0.8-0.3l0.8-0.7l0.7-2.5l0.8-12.4l0.8 4.9l0.7-8.2l0.8-4l0.8 6.8l0.7 6.7l0.8 6.9l0.7-0.6l0.8-1.4l0.8-1.5l0.7-1.4l0.8-0.8l0.8 0l0.7 0.3l0.8 0.3l0.7-2.9l0.8-2.9l0.8-27l0.7-1.4l0.8 9.4l0.8 10.3l0.7 4.2l0.8-12.8l0.8-6.1l0.7 7.3l0.8 3.1l0.7-2l0.8-2.7l0.8-12.1l0.7 5.3l0.8-0.7l0.8-6.3l0.7 7.8l0.8 12.6l0.7 4.2l0.8-0.2l0.8-16.7l0.7 8l0.8 9.8l0 1.8z"/>
<path transform="translate(138.3 157.4)" d="M0 0l0-31l0.8 7.4l0.7 12.2l0.8 0.1l0.8-0.1l0.7-7.6l0.8-18.4l0.7 7.9l0.8 16l0.8-8.1l0.7-15.3l0.8-14.5l0.8-2.1l0.7 4.9l0.8 18.1l0.7 9.2l0.8-1.1l0.8-17.2l0.7 6.8l0.8-10.8l0.8-0.9l0.7 7.2l0.8 5.1l0.8-15.3l0.7 6.9l0.8 12.3l0.7-1.6l0.8-9.6l0.8-16.6l0.7 1.5l0.8 14.5l0.8 5.6l0.7-0.8l0.8-13.5l0.7 6.3l0.8 4.4l0.8-0.8l0.7-0.4l0.8 0.1l0.8-18.9l0.7 7.6l0.8 11.1l0.8 0l0.7 0.2l0.8-23.3l0.7 8.2l0.8 14.7l0.8-0.6l0.7-0.7l0.8-0.8l0.8-0.6l0.7-0.3l0.8-0.1l0.7-0.1l0.8-16.9l0.8 5.2l0.7 10.3l0.8-12.3l0.8-26.5l0.7 11.2l0.8 25.6l0.8-2.3l0.7-8l0.8-1.9l0.7-8.2l0.8 5.8l0.8 9.2l0.7-7.3l0.8 1.7l0.8-18.8l0.7 0.4l0.8 2.8l0.7 7l0.8 3.4l0.8-8.2l0.7-11.8l0.8 7.6l0.8-1l0.7 7.7l0.8 1.3l0.8 4.2l0.7-21.5l0.8 7.8l0.7-1.5l0.8-1.5l0.8-1.3l0.7-7.3l0.8 11.2l0.8 3l0.7 0.7l0.8 7l0.7 1.1l0.8 0.8l0.8 0.3l0.7-12.3l0.8 9.9l0 5.4z"/>
<path transform="translate(139.3 157.6)" d="M0 0l0-10.6l0.8-0.2l0.7-25.2l0.8 9.1l0.8 16.8l0.7-0.4l0.8-0.4l0.7-21l0.8 6.1l0.8-13l0.7 7.4l0.8-10.7l0.8 1.8l0.7 1.3l0.8 12.8l0.7-10.3l0.8 6.2l0.8 7.1l0.7 0.6l0.8-16.9l0.8 6.3l0.7 9.6l0.8-0.4l0.8-0.6l0.7-21.3l0.8 7.3l0.7 6.2l0.8-16l0.8-5.7l0.7-12l0.8 20.3l0.8 11.4l0.7-1l0.8-11.7l0.7 3.8l0.8 4.7l0.8 0.9l0.7-26.7l0.8 9l0.8-2.3l0.7 7.3l0.8 6.6l0.8-5.9l0.7-11.2l0.8 4.9l0.7 6.5l0.8 10.4l0.8-0.6l0.7-0.7l0.8-0.8l0.8-11.6l0.7 4.9l0.8 5.7l0.7-0.1l0.8-0.2l0.8-0.5l0.7-0.6l0.8-1.4l0.8-0.5l0.7 0.2l0.8-7l0.8-6.1l0.7-15.6l0.8 9.2l0.7-2.4l0.8-15.6l0.8 3.1l0.7 7.2l0.8 5.7l0.8 1.3l0.7-4l0.8 6.3l0.7 4.3l0.8-5.2l0.8-7.8l0.7-10.8l0.8-4.9l0.8 8.1l0.7 5l0.8 1.3l0.8 10.4l0.7 1.8l0.8-3.9l0.7-8.1l0.8-6.7l0.8-3.4l0.7 2.4l0.8-0.4l0.8 2.9l0.7 4l0.8 9.2l0.7-18.6l0.8 7.1l0.8 12.7l0.7 0.4l0.8 1.1l0 1.5z"/>
<path transform="translate(140.2 157.9)" d="M0 0l0-28.9l0.8-6.1l0.7 8.8l0.8 9l0.8 7.1l0.7-0.3l0.8-0.3l0.7-0.1l0.8-0.1l0.8-0.4l0.7-3.9l0.8-28.1l0.8 7.9l0.7 9.4l0.8 3.7l0.7 2.6l0.8-0.4l0.8-0.4l0.7-0.3l0.8-0.5l0.8-28.8l0.7 8.8l0.8 17.6l0.8-0.6l0.7-0.3l0.8-0.3l0.7-1.5l0.8-19.2l0.8-14.9l0.7-1.2l0.8 7.7l0.8 6.8l0.7 13.7l0.8-8.6l0.7-7.2l0.8-2.7l0.8 6.8l0.7 12.9l0.8-0.2l0.8-0.5l0.7-4.1l0.8-18.9l0.8-14.7l0.7 10.2l0.8 2.1l0.7 15l0.8 4.1l0.8-4.2l0.7 2.7l0.8 1.5l0.8-11.7l0.7-14.2l0.8 7.7l0.7-1.7l0.8-21.4l0.8 7.7l0.7 5.4l0.8 5.6l0.8-14.6l0.7 8.8l0.8 17.2l0.8-14.5l0.7-7.5l0.8-20.7l0.7 14.8l0.8 16.1l0.8-11.2l0.7-2.9l0.8-9.2l0.8 12.3l0.7-2.2l0.8 7.3l0.7 10.1l0.8-8.7l0.8-11.6l0.7-8l0.8-1.6l0.8 4.1l0.7 5.7l0.8 8.8l0.8 7l0.7 2.4l0.8-4.1l0.7-10.1l0.8 3.8l0.8-6.6l0.7-3.7l0.8 2.4l0.8-4.4l0.7-2l0.8 6.1l0.7 13.9l0.8 0.4l0.8 0.8l0.7 0.7l0.8 0.9l0 1.1z"/>
<path transform="translate(141.2 158.2)" d="M0 0l0-13l0.8 0.1l0.7 1l0.8 1.1l0.8-12.7l0.7 5l0.8-21.3l0.7 8.5l0.8-4.8l0.8-5l0.7 7.8l0.8-0.5l0.8 5.8l0.7 9.7l0.8-0.6l0.7-0.3l0.8-0.2l0.8-14.7l0.7 4.4l0.8-24.3l0.8 9.2l0.7 22.5l0.8-20.4l0.8-3l0.7 8.4l0.8 13.7l0.7-27.4l0.8 8.5l0.8 3.1l0.7 2.4l0.8 4.3l0.8 1.3l0.7-9.9l0.8-15.5l0.7-3.6l0.8 3.7l0.8 3.5l0.7 13.6l0.8 7.4l0.8 1.7l0.7-5.8l0.8-13.6l0.8-10.4l0.7-11l0.8 8.8l0.7 16.3l0.8 7l0.8 0.2l0.7 0.4l0.8 0.2l0.8-0.4l0.7-1.2l0.8-21.5l0.7 6.3l0.8 1.6l0.8-9.8l0.7-23.7l0.8 1.8l0.8-0.4l0.7 4.2l0.8 10.3l0.8 2.4l0.7-17.7l0.8 0.8l0.7 7.2l0.8 12.2l0.8-7.6l0.7-14.9l0.8 0l0.8 15.6l0.7 8.6l0.8 7.6l0.7-1.6l0.8-2.7l0.8-4.7l0.7-15.8l0.8-0.9l0.8-0.5l0.7 5.8l0.8 7.9l0.8-9.3l0.7 0.7l0.8 6.2l0.7 7.7l0.8-4.7l0.8-5.7l0.7 2.7l0.8-1.4l0.8-3.1l0.7-10l0.8 6.5l0.7 3.5l0.8 4.1l0.8-1.5l0.7 5l0.8-1l0 9z"/>
<path transform="translate(142.1 158.5)" d="M0 0l0-11.4l0.8-0.2l0.7 0.3l0.8 0.4l0.8-18.4l0.7-0.5l0.8 1.8l0.7-9.3l0.8 7.6l0.8 17.1l0.7-0.6l0.8-0.8l0.8-0.9l0.7-0.8l0.8-2.4l0.7-4.9l0.8 2.3l0.8-28.9l0.7 7.7l0.8 21.5l0.8-36.3l0.7 10.3l0.8 23.6l0.8-0.6l0.7-0.4l0.8-0.5l0.7-9.3l0.8 3.6l0.8 3.1l0.7-1.7l0.8-7.2l0.8-20.6l0.7 8.5l0.8-5.2l0.7-12.5l0.8 4.8l0.8 6.9l0.7 8.1l0.8 13.3l0.8-21.7l0.7 7l0.8 7.2l0.8-10.9l0.7-3.5l0.8 9.3l0.7 6l0.8 0.1l0.8 0.1l0.7 0.2l0.8 0l0.8-0.4l0.7-10l0.8-17.6l0.7-6.4l0.8 1l0.8 15.5l0.7-19.2l0.8-16.4l0.8 6.3l0.7-3.8l0.8 8.7l0.8 5l0.7-12l0.8 13.8l0.7 16.9l0.8-27.3l0.8 13.2l0.7-5.8l0.8-4.6l0.8 6.6l0.7 8l0.8 7.3l0.7-2.6l0.8 1.9l0.8-6.9l0.7-8.6l0.8 2l0.8 9.1l0.7-13.3l0.8 6.7l0.8 13l0.7 1.4l0.8-1l0.7-6.3l0.8-21.2l0.8 8.1l0.7 11.1l0.8-12.8l0.8 5.7l0.7 10l0.8-0.2l0.7-0.5l0.8-0.2l0.8 0.3l0.7 0.5l0.8 1.3l0 1.6z"/>
<path transform="translate(143.1 158.7)" d="M0 0l0-9.7l0.8-0.5l0.7-5.4l0.8 2.4l0.8-2.2l0.7 2.2l0.8 1.3l0.7-0.6l0.8-0.5l0.8-0.5l0.7-28.8l0.8 7.9l0.8 21.2l0.7-3.5l0.8-28.8l0.7 6.2l0.8 6.3l0.8 14l0.7-1.2l0.8-0.6l0.8-0.8l0.7-29.2l0.8 8.8l0.8 18.2l0.7-0.8l0.8-21l0.7-7.3l0.8-9.8l0.8 2l0.7 10.5l0.8 18.1l0.8-1.6l0.7-8.7l0.8-8.1l0.7-1.8l0.8-12.9l0.8 10.4l0.7 17.4l0.8 3.1l0.8-1.6l0.7-1.5l0.8-0.9l0.8-0.3l0.7-23.7l0.8 7.2l0.7 16.2l0.8-0.5l0.8 0l0.7 0.1l0.8-0.1l0.8-0.5l0.7-15.8l0.8-4.9l0.7-16l0.8-3.2l0.8 9.8l0.7 1.6l0.8-14l0.8 0.4l0.7 3.5l0.8-13l0.8 3.4l0.7 12.7l0.8-6.3l0.7 11.6l0.8-11l0.8 2.2l0.7 10l0.8 4.9l0.8-8.6l0.7-0.3l0.8 6.5l0.7 10.2l0.8-0.3l0.8-15.7l0.7 5.8l0.8 2.8l0.8 1.6l0.7 0.6l0.8 2.3l0.8 2.3l0.7-19.8l0.8 5.8l0.7-9.1l0.8-0.5l0.8 6.1l0.7 9.3l0.8-18l0.8 6.4l0.7 14.4l0.8-0.9l0.7-0.6l0.8-0.7l0.8-0.3l0.7 0.1l0.8 1.7l0 2.1z"/>
<path transform="translate(144.1 159)" d="M0 0l0-9.5l0.8-7.1l0.7-11.5l0.8 6.4l0.8 10.4l0.7-0.3l0.8-0.6l0.7-22.2l0.8 5.9l0.8 14.6l0.7-23.7l0.8 5.2l0.8 19.5l0.7-7.2l0.8-14.5l0.7 5.8l0.8 11.7l0.8-15.7l0.7 4.9l0.8 6.7l0.8-0.5l0.7-34.7l0.8 10.5l0.8 22.9l0.7-0.9l0.8-1.1l0.7-1.2l0.8-27.2l0.8-1.3l0.7 8.6l0.8 14.5l0.8-1.6l0.7-23.6l0.8 8.5l0.7 0l0.8 8.7l0.8-15.6l0.7 6.6l0.8-14.1l0.8-6.9l0.7 10l0.8-7.4l0.8 10.2l0.7 16.2l0.8 1.9l0.7-0.4l0.8-21.6l0.8 7.8l0.7-6.7l0.8 5.9l0.8-10.5l0.7 6.3l0.8-2.7l0.7-15.3l0.8 5.5l0.8 13.6l0.7 6l0.8-30.2l0.8 3.6l0.7 12.3l0.8-4.7l0.8 9.1l0.7 11.6l0.8-0.7l0.7-0.4l0.8-21.7l0.8 3.5l0.7 5.8l0.8-5.2l0.8-5.1l0.7 7.4l0.8 11.3l0.7-1l0.8-0.3l0.8 0.5l0.7 0l0.8-1l0.8 1.3l0.7-1.6l0.8-13.5l0.8 4.5l0.7 8l0.8-17.5l0.7 4.3l0.8 11.9l0.8-0.7l0.7-0.6l0.8-0.8l0.8-0.2l0.7-18l0.8 5.3l0.7-12.4l0.8 7.6l0.8 14.1l0.7-8.9l0.8 7.9l0 4.5z"/>
<path transform="translate(145 159.3)" d="M0 0l0-9.6l0.8-0.7l0.7-0.6l0.8-11.1l0.8 4.7l0.7 5l0.8-15.2l0.7-2.4l0.8 5l0.8 9.8l0.7 0.2l0.8-24.6l0.8-3.4l0.7 7.1l0.8 21.2l0.7-0.4l0.8-2.2l0.8-19.9l0.7-0.9l0.8-2.5l0.8 1.4l0.7 5.9l0.8 13.5l0.8-3.7l0.7 1.5l0.8-30l0.7 8.3l0.8 19l0.8-22.4l0.7 6.8l0.8 10.4l0.8-1.9l0.7-23.4l0.8 8.2l0.7-0.6l0.8 5.7l0.8-4.3l0.7 4.7l0.8 6.1l0.8 0l0.7-0.2l0.8-0.7l0.8-27.8l0.7 9.5l0.8 16.8l0.7-0.5l0.8-7.1l0.8-6.9l0.7-1.5l0.8 4.5l0.8 2.3l0.7 0.6l0.8-1.7l0.7-4.5l0.8 0.4l0.8 2.7l0.7 6.5l0.8-2.2l0.8-30.8l0.7 11.8l0.8 14.8l0.8 2.7l0.7 0.8l0.8-0.9l0.7-0.4l0.8-0.1l0.8-30l0.7 7.7l0.8 21.4l0.8-25.5l0.7 1.6l0.8 7.1l0.7 10.5l0.8-0.5l0.8 0.4l0.7 0.8l0.8 0.6l0.8-0.2l0.7-1.4l0.8-2l0.8-2.1l0.7-1.6l0.8-7.2l0.7 2.9l0.8-16.9l0.8 5.3l0.7 17l0.8-0.6l0.8-0.8l0.7-18.9l0.8 5.7l0.7 11.2l0.8-20.4l0.8 8.6l0.7 10.6l0.8 1.3l0 1.8z"/>
<path transform="translate(146 159.6)" d="M0 0l0-20.5l0.8 4.6l0.7 6.1l0.8-0.7l0.8-0.5l0.7-6.3l0.8-7.4l0.7 4.6l0.8 6.7l0.8-0.5l0.7-18l0.8 4.2l0.8-8.2l0.7 5.6l0.8-7.6l0.7 6l0.8 5.5l0.8 5.8l0.7 1l0.8-0.5l0.8-17.8l0.7 5.5l0.8 4.5l0.8 8.1l0.7-21.6l0.8 5l0.7 12.6l0.8-4.2l0.8 2.1l0.7-23.4l0.8 7.3l0.8-12.4l0.7 8.4l0.8 14.5l0.7-0.6l0.8-17.1l0.8 6l0.7 9.4l0.8-0.4l0.8-0.3l0.7-21.6l0.8-1.8l0.8 1.2l0.7 7.1l0.8 6.8l0.7 1.9l0.8 1.5l0.8-1.5l0.7-22l0.8 6.5l0.8-6.7l0.7 5.8l0.8 13.3l0.7 1l0.8-3.8l0.8-26.3l0.7 8.9l0.8 20.7l0.8-0.4l0.7-0.3l0.8-0.8l0.8-14l0.7-12.1l0.8 6.5l0.7 16.5l0.8 0l0.8 0.1l0.7 0l0.8-0.4l0.8-25.8l0.7 7.7l0.8 13.7l0.7-1.3l0.8-4.7l0.8 2.6l0.7 2.6l0.8-3.5l0.8 1.5l0.7 0.8l0.8-2l0.8-2.1l0.7-1.5l0.8-0.5l0.7 0.3l0.8 0.6l0.8 0.5l0.7-0.2l0.8-0.6l0.8-1l0.7-8l0.8-2.6l0.7 4l0.8 4.2l0.8-0.2l0.7 0.1l0.8 1.3l0 1.7z"/>
<path transform="translate(147 159.8)" d="M0 0l0-6.4l0.8-0.7l0.7-12.3l0.8 3.7l0.8 6.4l0.7-0.5l0.8-0.2l0.7-0.1l0.8-0.2l0.8-17.3l0.7 4.2l0.8-8.3l0.8 4.9l0.7 13l0.8-25.8l0.7 7.5l0.8 16.8l0.8-0.4l0.7-14.4l0.8-2.7l0.8 4.9l0.7 9.2l0.8-0.7l0.8-0.8l0.7-1.6l0.8-2l0.7-5.9l0.8 2.5l0.8-0.5l0.7 0.2l0.8 0.4l0.8 0.1l0.7-25l0.8 7l0.7 16.2l0.8-0.6l0.8-0.6l0.7-23.3l0.8 6.6l0.8-9.4l0.7 7.1l0.8 13l0.8-2.9l0.7-11l0.8 5.1l0.7 4.3l0.8-13.9l0.8 5.7l0.7 8.3l0.8 0.1l0.8-0.5l0.7-0.7l0.8-0.6l0.7-0.6l0.8-22.5l0.8 6.5l0.7 13l0.8-1.7l0.8-1.6l0.7-0.6l0.8-0.6l0.8-0.7l0.7-0.6l0.8-0.4l0.7-0.2l0.8 0.2l0.8 0.3l0.7 0.1l0.8-2.2l0.8 1.9l0.7 0l0.8-21.2l0.7 6.7l0.8 5.4l0.8 8.1l0.7-0.3l0.8-5.4l0.8-3.4l0.7 2.4l0.8 2.9l0.8-1.6l0.7-1.3l0.8-0.6l0.7-5.6l0.8-7.4l0.8 4.5l0.7 7.4l0.8-10.1l0.8 3.5l0.7 4.5l0.8-1.6l0.7-6.5l0.8 3.7l0.8 3.2l0.7-6.4l0.8 6.5l0 3.6z"/>
<path transform="translate(147.9 160.1)" d="M0 0l0-5.5l0.8-15.5l0.7 3.9l0.8 9.5l0.8-0.6l0.7-0.6l0.8-0.3l0.7-15.9l0.8 4.5l0.8 5.7l0.7 1.6l0.8 1.4l0.8-1.2l0.7-1l0.8-2.2l0.7 1.2l0.8 0l0.8-7.5l0.7 2.8l0.8 3.4l0.8-8.9l0.7 2.4l0.8-6.6l0.8 2.9l0.7 4.7l0.8-2l0.7-2l0.8-6.6l0.8 3.1l0.7-0.3l0.8-4.7l0.8-4l0.7 3.5l0.8-5.6l0.7 4.1l0.8 8l0.8-0.6l0.7-13l0.8 3.8l0.8 2l0.7 1.8l0.8-1l0.8-1.1l0.7-1.4l0.8-10.3l0.7-11.3l0.8 7.2l0.8 12.1l0.7 0.7l0.8 0.3l0.8-0.5l0.7-1l0.8-1l0.7-1.1l0.8-3.7l0.8 1.4l0.7-5.6l0.8 1.6l0.8-9.7l0.7 4.8l0.8 1.6l0.8-15.7l0.7 7l0.8 1.9l0.7 4.2l0.8 1.5l0.8 0.2l0.7 0.1l0.8-0.1l0.8 0.3l0.7 0.6l0.8-11.2l0.7 4l0.8 7.5l0.8-19.3l0.7 5.5l0.8 12.1l0.8-0.5l0.7-0.9l0.8-1.8l0.8-0.9l0.7-9.7l0.8 3.5l0.7-5.7l0.8-3.9l0.8 5l0.7 7.2l0.8-10.5l0.8 3.8l0.7 4.6l0.8-0.6l0.7-0.5l0.8-5l0.8 3.3l0.7 2.3l0.8 1.5l0 1.7z"/>
<path transform="translate(148.9 160.4)" d="M0 0l0-5.9l0.8-11.7l0.7-1.6l0.8 3.5l0.8 8.3l0.7-0.6l0.8-1.2l0.7-1.3l0.8-1.3l0.8-1l0.7-0.5l0.8-0.6l0.8-0.6l0.7-0.7l0.8-0.6l0.7-0.5l0.8-7.8l0.8 2.8l0.7 3.8l0.8-0.9l0.8-1l0.7-1l0.8-1l0.8-0.7l0.7-0.8l0.8-0.7l0.7-9.2l0.8 3.3l0.8-5.9l0.7 3.7l0.8 5.7l0.8-18.1l0.7 5.4l0.8 11l0.7-13.3l0.8 2l0.8 3.5l0.7 4.4l0.8-0.9l0.8-0.9l0.7-19.3l0.8 6.1l0.8 10.4l0.7-1.4l0.8-10.4l0.7 5l0.8 2.4l0.8-0.5l0.7-0.6l0.8-0.7l0.8-0.9l0.7-0.9l0.8-2.5l0.7 0.8l0.8-0.9l0.8-0.9l0.7-0.7l0.8-14.6l0.8 5.9l0.7 7.3l0.8-0.4l0.8-10.6l0.7 4.9l0.8-0.5l0.7-0.9l0.8 3.3l0.8 0.4l0.7-9.4l0.8 4.5l0.8-6l0.7 4.3l0.8 3.5l0.7 3.9l0.8-0.5l0.8-1l0.7-1l0.8-0.9l0.8-0.6l0.7-11.2l0.8 3.7l0.8 7.3l0.7-1.9l0.8-7.6l0.7-7.9l0.8 4.8l0.8 8l0.7-0.9l0.8 0.8l0.8-3.6l0.7 1.6l0.8-9.4l0.7 0l0.8 3.6l0.8-3.9l0.7 4.8l0.8 5.5l0 1.8z"/>
<path transform="translate(149.8 160.6)" d="M0 0l0-6.3l0.8-0.4l0.7-0.1l0.8-15.7l0.8 4.2l0.7-1l0.8 3.2l0.7 4.7l0.8-2l0.8-1.3l0.7-0.4l0.8-0.3l0.8-0.3l0.7-2l0.8 1l0.7-0.7l0.8-0.5l0.8-0.6l0.7-0.7l0.8-4.7l0.8 2.2l0.7-5.4l0.8 2.7l0.8 0.6l0.7-0.3l0.8 0.1l0.7-0.1l0.8-15.5l0.8 5l0.7 8.7l0.8-13.2l0.8 1.5l0.7-5l0.8 5.1l0.7 7.1l0.8-1.3l0.8-0.9l0.7-0.6l0.8-13.6l0.8 4.8l0.7 7.6l0.8-15.8l0.8 5.9l0.7 7l0.8-1.3l0.7-0.9l0.8-0.8l0.8-2.7l0.7 0.2l0.8-1.4l0.8-0.9l0.7-0.7l0.8-3.6l0.7-6.2l0.8 4.1l0.8 3.7l0.7 0.1l0.8 0.5l0.8 0.3l0.7 0l0.8-0.4l0.8-0.4l0.7-0.3l0.8-0.4l0.7-0.6l0.8-9.9l0.8 3.6l0.7-1.8l0.8 3l0.8 0.3l0.7-3.9l0.8 2.5l0.7 3l0.8-0.6l0.8-1.1l0.7-1.3l0.8-12.5l0.8 4.2l0.7 6.5l0.8 0.7l0.8 0.7l0.7-9.4l0.8 2.8l0.7 0.2l0.8-7.7l0.8 3.3l0.7 1.8l0.8 1.8l0.8-3.6l0.7 2l0.8 1.6l0.7-0.7l0.8-0.7l0.8-0.3l0.7 0.1l0.8 1.6l0 2z"/>
<path transform="translate(150.8 160.9)" d="M0 0l0-7.9l0.8-0.2l0.7 0.3l0.8 0.5l0.8 0.1l0.7-5.8l0.8 1.7l0.7 0.1l0.8-10l0.8-2.1l0.7 3.5l0.8 2.7l0.8-9.6l0.7 1.1l0.8 3.7l0.7 4.7l0.8-0.2l0.8-0.2l0.7-8.5l0.8 0.4l0.8 2.9l0.7 0.1l0.8-1.5l0.8-0.9l0.7-9.5l0.8 3.4l0.7-5.4l0.8 4.1l0.8 5.8l0.7-1.3l0.8-1.5l0.8-1.3l0.7-0.9l0.8-4l0.7 3.3l0.8 0.3l0.8-0.2l0.7-0.7l0.8-0.9l0.8-0.9l0.7-0.8l0.8-8.8l0.8 4l0.7 3l0.8-0.6l0.7-0.6l0.8-1.4l0.8-0.5l0.7-1.6l0.8-1.4l0.8-0.8l0.7-0.5l0.8-0.3l0.7-0.3l0.8-4.3l0.8 2.8l0.7 0.7l0.8 0.2l0.8-0.1l0.7-0.2l0.8-0.3l0.8-0.2l0.7-0.2l0.8-0.2l0.7-16.1l0.8 5l0.8 8.2l0.7-1l0.8-0.5l0.8-4.2l0.7 2.6l0.8 1.9l0.7-0.1l0.8-12.4l0.8 4l0.7 5.1l0.8-1.2l0.8-0.8l0.7-2.3l0.8 1.8l0.8 1.1l0.7 0.1l0.8-4.5l0.7 0.5l0.8 1.1l0.8-2l0.7-1.8l0.8-1.3l0.8-5.2l0.7 2.7l0.8 3.5l0.7-7.2l0.8 2.5l0.8-3.8l0.7 4l0.8 4.9l0 1.8z"/>
<path transform="translate(151.8 161.2)" d="M0 0l0-9.5l0.8 0l0.7 0.8l0.8 0.9l0.8 0.5l0.7-0.6l0.8-3.4l0.7 0.6l0.8-1.5l0.8-10l0.7 3.2l0.8 4.5l0.8-0.7l0.7-9.2l0.8 3.4l0.7 4.3l0.8 0.2l0.8-6.3l0.7 2.8l0.8-2l0.8 1.8l0.7-2.6l0.8-7l0.8 2.4l0.7 1.3l0.8 0l0.7-0.1l0.8-0.5l0.8-1.3l0.7-1.9l0.8-2.2l0.8-2l0.7-1.2l0.8 0.5l0.7 1.7l0.8-2.1l0.8 2.2l0.7 1.5l0.8-5.2l0.8 2l0.7-1.3l0.8-0.7l0.8-0.1l0.7 0l0.8 0.1l0.7-0.2l0.8-0.8l0.8-1.3l0.7-1.7l0.8-1.5l0.8-0.8l0.7-3.9l0.8 2.4l0.7 0.4l0.8-0.4l0.8-4.5l0.7-1.8l0.8 2.2l0.8 2.6l0.7-4.3l0.8 2.4l0.8 1.4l0.7-14.6l0.8 4.9l0.7 9l0.8-0.7l0.8-0.8l0.7-0.7l0.8-0.5l0.8-0.3l0.7-14l0.8 0.1l0.7 4.9l0.8 7.4l0.8-1.3l0.7-1.4l0.8-1.4l0.8-0.8l0.7-0.3l0.8 0.1l0.8 0.2l0.7-0.2l0.8-7.9l0.7 2l0.8 1.9l0.8 1.6l0.7-0.7l0.8-0.6l0.8-6.7l0.7-1.3l0.8 0.1l0.7 1.9l0.8 3.6l0.8-0.2l0.7 0.1l0.8 0.9l0 1.4z"/>
<path transform="translate(152.7 161.5)" d="M0 0l0-9.8l0.8-0.1l0.7-5l0.8 2.1l0.8 4.8l0.7-0.4l0.8-1.4l0.7-1.7l0.8-9l0.8 3.5l0.7 2.1l0.8-0.5l0.8-0.5l0.7-0.6l0.8-0.6l0.7-0.4l0.8-6.1l0.8 2.8l0.7 2.4l0.8-0.9l0.8-1.2l0.7-1.3l0.8-1.1l0.8-0.8l0.7-0.7l0.8-0.8l0.7-0.9l0.8-0.9l0.8-1.1l0.7-1.4l0.8-1.7l0.8-1.5l0.7-1l0.8 0.2l0.7 1l0.8-1.5l0.8 1.8l0.7-1.7l0.8 0.7l0.8-1.4l0.7-1.3l0.8-0.8l0.8-0.3l0.7-0.2l0.8-0.2l0.7-0.4l0.8-0.7l0.8-4.9l0.7 2.6l0.8-0.8l0.8-0.8l0.7-0.6l0.8-0.7l0.7-0.5l0.8-11.3l0.8 4.2l0.7-2.3l0.8 3.5l0.8-1.1l0.7 3.2l0.8 1.6l0.8 0.1l0.7 0l0.8-7.3l0.7 2.8l0.8 2.8l0.8-1.2l0.7-6.1l0.8-7.3l0.8 4.6l0.7 6.8l0.8-0.2l0.7-0.4l0.8-0.7l0.8-6l0.7-0.3l0.8 2l0.8-7.2l0.7 2.8l0.8-4.4l0.8 3l0.7 5.2l0.8-0.6l0.7-7.8l0.8 2.9l0.8-2.4l0.7 2.4l0.8-3.1l0.8-0.3l0.7-1.2l0.8 2.2l0.7 1.7l0.8-0.3l0.8 0.1l0.7 0.2l0.8 1.2l0 1.6z"/>
<path transform="translate(153.7 161.7)" d="M0 0l0-10.4l0.8-0.1l0.7 0.6l0.8 0.8l0.8 0.3l0.7-6.4l0.8 2.1l0.7-0.2l0.8-2l0.8-1.4l0.7-0.5l0.8-0.2l0.8-1.5l0.7-2l0.8 2.5l0.7-0.7l0.8-2.7l0.8-0.3l0.7 0l0.8 0.1l0.8 0.9l0.7 1l0.8 0.5l0.8-0.4l0.7-2.1l0.8-1.6l0.7-2.1l0.8-1.5l0.8-0.9l0.7-5.4l0.8-0.1l0.8 3.5l0.7-0.7l0.8-0.5l0.7 0l0.8 0l0.8-0.3l0.7-4.9l0.8 2.1l0.8-0.2l0.7-1.1l0.8-0.8l0.8-0.8l0.7-0.8l0.8-0.7l0.7-0.7l0.8-0.6l0.8-0.1l0.7-0.1l0.8-0.3l0.8-0.6l0.7-0.9l0.8-1.2l0.7-2.8l0.8-4l0.8 3l0.7 1.4l0.8 0.4l0.8 0.1l0.7-0.1l0.8-11.5l0.8 4.2l0.7 7.3l0.8-0.2l0.7-13.1l0.8 4l0.8 4.6l0.7-1.8l0.8-0.8l0.8-0.2l0.7-3.4l0.8 2.6l0.7 0.5l0.8-0.7l0.8-1.4l0.7-1.7l0.8-1.6l0.8-1l0.7-0.1l0.8 0.6l0.8 0.8l0.7 0.3l0.8-0.6l0.7-1.5l0.8-1.6l0.8-1.4l0.7-0.7l0.8-0.4l0.8-0.5l0.7-0.4l0.8-0.4l0.7-0.3l0.8-1.6l0.8 0.5l0.7 2.4l0.8 0.7l0 3z"/>
<path transform="translate(154.7 162)" d="M0 0l0-10.6l0.8-0.1l0.7 0.6l0.8 0.7l0.8 0.4l0.7-0.8l0.8-1.6l0.7-2.1l0.8-2.1l0.8-1.4l0.7-0.6l0.8-0.2l0.8-5.2l0.7-1.3l0.8 3.3l0.7 1.6l0.8-1.2l0.8-4.6l0.7 2.8l0.8 0.7l0.8 1.2l0.7 1.2l0.8-8.5l0.8 3.5l0.7-4.1l0.8 3.4l0.7 0.7l0.8-1.4l0.8-0.8l0.7-0.5l0.8-4.3l0.8 2l0.7-1l0.8 0.9l0.7-0.6l0.8-0.6l0.8-5.5l0.7 2.6l0.8 0.7l0.8-0.9l0.7-0.9l0.8-1l0.8-1l0.7-1l0.8-1.1l0.7-0.9l0.8-0.6l0.8-0.1l0.7 0l0.8-0.2l0.8-0.6l0.7-1.1l0.8-1.3l0.7-1.3l0.8-1.1l0.8-1.7l0.7 1l0.8 0.2l0.8 0l0.7-0.1l0.8-4.7l0.8-3.8l0.7 3.6l0.8-5.3l0.7 3.7l0.8 4.2l0.8-2.1l0.7-6.8l0.8 3.3l0.8 0.7l0.7 0.2l0.8 0.1l0.7-0.2l0.8-3.4l0.8-4.4l0.7 3l0.8-0.7l0.8-3.6l0.7 2.3l0.8 0.6l0.8 0.8l0.7 0.3l0.8-0.7l0.7-1.5l0.8-1.8l0.8-1.4l0.7-0.6l0.8-0.2l0.8-0.3l0.7-2.4l0.8 1.2l0.7 0.8l0.8 0.2l0.8 0.6l0.7 0.6l0.8 1.6l0 1.8z"/>
<path transform="translate(155.6 162.3)" d="M0 0l0-10.5l0.8-0.1l0.7 0.8l0.8-2l0.8 1.9l0.7 1l0.8-1.1l0.7-1.2l0.8-1.1l0.8-1l0.7-0.7l0.8-0.7l0.8-5.4l0.7 2.2l0.8 1.5l0.7-0.8l0.8-0.9l0.8-0.7l0.7-6.3l0.8 2.7l0.8 3.5l0.7 0.5l0.8 0.1l0.8-0.5l0.7-0.9l0.8-6.1l0.7 2.1l0.8 0.9l0.8-0.7l0.7-0.5l0.8-0.4l0.8-0.5l0.7-0.8l0.8-1.6l0.7-2.1l0.8-2l0.8-1.4l0.7-1.9l0.8 1.4l0.8-1.9l0.7-2.7l0.8 2.4l0.8 0.3l0.7-3.8l0.8 1l0.7-1.3l0.8-0.5l0.8-0.2l0.7-0.2l0.8-0.3l0.8-0.7l0.7-1.1l0.8-1.5l0.7-1.6l0.8-1.2l0.8-0.8l0.7-0.8l0.8-0.9l0.8-0.8l0.7-0.3l0.8 0.2l0.8 0.7l0.7 0.7l0.8 0.3l0.7-0.6l0.8-1.1l0.8-1.2l0.7-1.1l0.8-3.3l0.8 2.6l0.7 0.6l0.8-4.2l0.7 2.2l0.8 1.8l0.8-1.1l0.7-1.3l0.8-3.3l0.8-2.7l0.7 2.9l0.8 0.1l0.8-0.1l0.7-0.3l0.8-3.4l0.7 1.6l0.8-0.9l0.8-0.8l0.7-2.7l0.8 0.8l0.8-0.6l0.7 1.3l0.8-0.2l0.7-0.2l0.8-0.2l0.8 0l0.7 0.2l0.8 1.2l0 1.5z"/>
<path transform="translate(156.6 162.6)" d="M0 0l0-9.6l0.8-0.1l0.7-3.5l0.8 2.7l0.8 2.8l0.7-2.6l0.8 1.2l0.7-0.9l0.8-4.2l0.8 1.6l0.7 0.1l0.8-0.7l0.8-0.8l0.7-0.7l0.8-0.6l0.7-1.8l0.8 0.3l0.8-0.8l0.7-0.6l0.8-0.3l0.8 0l0.7-5.9l0.8 1.9l0.8 3.4l0.7-0.7l0.8-5.6l0.7 1.5l0.8-2.9l0.8 1.8l0.7 1.5l0.8-1.6l0.8 0.7l0.7-0.8l0.8-2.1l0.7-3l0.8-2.8l0.8-1.9l0.7-0.3l0.8 0.5l0.8 0.7l0.7-0.8l0.8 0.7l0.8-1.1l0.7-1.9l0.8-0.8l0.7-1.1l0.8-0.7l0.8-0.3l0.7-0.3l0.8-0.5l0.8-0.6l0.7-1.1l0.8-1.5l0.7-1.4l0.8-1.1l0.8-0.8l0.7-1.1l0.8-1.1l0.8-1.2l0.7-0.4l0.8 0.3l0.8 0.8l0.7 0.7l0.8 0.3l0.7-0.6l0.8-0.8l0.8-0.9l0.7-0.9l0.8-0.6l0.8 0.1l0.7 0.7l0.8 0.6l0.7 0.2l0.8-0.6l0.8-6l0.7 2.1l0.8 0.7l0.8-0.8l0.7-2.3l0.8 0l0.8 0.8l0.7-0.5l0.8-0.6l0.7-0.7l0.8-0.8l0.8-1.2l0.7 0.2l0.8-0.3l0.8-0.4l0.7-0.3l0.8-0.3l0.7-0.3l0.8-0.4l0.8-0.2l0.7 0l0.8 1l0 1.4z"/>
<path transform="translate(157.5 162.8)" d="M0 0l0-6l0.8-0.5l0.7-3.9l0.8 1.7l0.8 1.5l0.7-0.8l0.8-1.2l0.7-1.5l0.8-1.4l0.8-1.1l0.7-0.4l0.8 0.1l0.8 0.4l0.7-1.7l0.8 1l0.7-0.4l0.8-0.7l0.8-0.7l0.7-6.2l0.8 1.8l0.8 2.7l0.7-0.4l0.8-0.5l0.8-0.7l0.7-4.6l0.8 1.4l0.7-1.6l0.8-1.3l0.8-0.8l0.7-0.5l0.8-0.4l0.8-0.4l0.7-0.8l0.8-1.5l0.7-1.9l0.8-1.8l0.8-1.2l0.7-0.6l0.8-0.4l0.8-0.3l0.7-0.5l0.8-0.5l0.8-0.2l0.7 0.2l0.8 0.2l0.7-0.2l0.8-0.8l0.8-1.4l0.7-1.6l0.8-1.5l0.8-1l0.7-0.2l0.8 0.1l0.7 0.2l0.8-0.2l0.8-0.7l0.7-1.2l0.8-1.3l0.8-1.3l0.7-0.5l0.8-0.3l0.8-0.6l0.7 0l0.8-0.5l0.7-0.6l0.8-0.8l0.8-0.9l0.7-0.8l0.8-0.6l0.8 0.1l0.7 0.6l0.8 0.7l0.7 0.2l0.8-0.6l0.8-0.9l0.7-1.1l0.8-1l0.8-0.7l0.7-0.3l0.8 0l0.8 0.1l0.7-0.2l0.8-1.3l0.7-0.2l0.8-0.9l0.8-0.8l0.7-0.5l0.8-0.7l0.8-1l0.7-0.9l0.8-0.6l0.7-0.4l0.8-1.8l0.8 1.4l0.7 0.6l0.8 1.1l0 1.4z"/>
<path transform="translate(158.5 163.1)" d="M0 0l0-3.8l0.8-0.7l0.7-0.7l0.8-0.7l0.8-2.9l0.7-1.6l0.8-0.3l0.7 0.1l0.8-1.6l0.8-1.2l0.7-0.3l0.8 0.6l0.8 0.9l0.7 0.4l0.8-0.4l0.7-0.6l0.8-4.4l0.8 0.9l0.7 1.6l0.8-0.7l0.8-0.7l0.7-0.8l0.8-0.7l0.8-0.8l0.7-1.6l0.8-2.2l0.7-2.2l0.8-1.7l0.8-0.7l0.7-0.5l0.8-0.4l0.8-0.5l0.7-0.8l0.8-1l0.7-1l0.8-0.9l0.8-0.7l0.7-0.8l0.8-1l0.8-1.2l0.7-1l0.8-0.7l0.8 0.5l0.7 1.1l0.8 1l0.7 0.3l0.8-0.9l0.8-1.9l0.7-2.4l0.8-2.1l0.8-1.1l0.7 0.3l0.8 0.9l0.7 1l0.8 0.3l0.8-0.7l0.7-1.2l0.8-2.7l0.8 0l0.7-0.6l0.8-0.7l0.8-0.9l0.7-0.9l0.8-0.8l0.7-0.7l0.8-0.7l0.8-0.9l0.7-0.8l0.8-0.6l0.8 0l0.7 0.6l0.8 0.6l0.7 0.2l0.8-0.6l0.8-0.9l0.7-1l0.8-0.9l0.8-0.7l0.7-0.2l0.8 0.2l0.8 0.2l0.7-3l0.8 1l0.7-1.5l0.8 0.9l0.8-0.8l0.7-0.6l0.8-0.9l0.8-1.2l0.7-1.2l0.8-0.9l0.7-0.3l0.8-0.1l0.8 0.2l0.7 0.3l0.8 1l0 1.3z"/></g>
<path d="M32.5 127.3L32.5 67.9M32.5 127.5h-2.2M32.5 112.5h-2.2M32.5 97.5h-2.2M32.5 82.5h-2.2M32.5 67.5h-2.2M158.5 163.1l-2 1.7M132.1 155.6l-2 1.7M105.7 148.1l-2 1.7M79.2 140.6l-2 1.7M52.8 133.1l-2 1.7M158.5 163.1l2.5 0.7M176.6 147.9l2.5 0.7M194.8 132.7l2.5 0.7M212.9 117.5l2.5 0.7M231 102.3l2.5 0.7M32.2 127.3L158.5 163.1L231 102.3" fill="none" stroke="#3a3a3a" stroke-width="0.6"/>
</g>
<g filter="url(#bt)">
<g class="tk"><text x="27.6" y="129.3" text-anchor="end">0</text><text x="27.6" y="114.5" text-anchor="end">2</text><text x="27.6" y="99.6" text-anchor="end">4</text><text x="27.6" y="84.8" text-anchor="end">6</text><text x="27.6" y="69.9" text-anchor="end">8</text><text x="151.7" y="173.5" text-anchor="middle">0</text><text x="125.3" y="166" text-anchor="middle">5</text><text x="98.9" y="158.5" text-anchor="middle">10</text><text x="72.4" y="151" text-anchor="middle">15</text><text x="46" y="143.5" text-anchor="middle">20</text><text x="162.9" y="171.3">0</text><text x="181" y="156.1">500</text><text x="199.2" y="140.9">1000</text><text x="217.3" y="125.7">1500</text><text x="235.4" y="110.5">2000</text></g>
<text class="ti" transform="translate(9 94.3) rotate(-90)" y="2.5" text-anchor="middle" textLength="47.4" lengthAdjust="spacing">Amplitude</text>
<text class="ti" transform="translate(83.4 165.5) rotate(15.8)" y="2.5" text-anchor="middle" textLength="74" lengthAdjust="spacing">Frequency(kHz)</text>
<text class="ti" transform="translate(216.8 149.8) rotate(-41.5)" y="2.5" text-anchor="middle" textLength="40.5" lengthAdjust="spacing">Sampling</text>
<text class="ti" transform="translate(226.4 159.1) rotate(-41.5)" y="2.5" text-anchor="middle" textLength="47.5" lengthAdjust="spacing">number(n)</text>
<text class="cap" x="137.6" y="219.5" text-anchor="middle">(<tspan font-weight="bold">a</tspan>)</text>
</g>
<!-- plot b -->
<g filter="url(#bl)">
<path d="M323.1 137.7L323.1 77M341.8 122.1L341.8 61.4M360.6 106.6L360.6 45.9M379.3 91L379.3 30.3M398 75.5L398 14.8M323.1 137.7L398 75.5L527.6 112.3M323.1 122.5L398 60.3L527.6 97.1M323.1 107.3L398 45.1L527.6 81.9M323.1 92.2L398 30L527.6 66.8M323.1 77L398 14.8L527.6 51.6M419.1 81.5L419.1 20.8M446.3 89.2L446.3 28.5M473.4 96.9L473.4 36.2M500.5 104.6L500.5 43.9M527.6 112.3L527.6 51.6" fill="none" stroke="#dedede" stroke-width="0.6"/>
<path d="M347.3 117.2v-2.5" stroke="#6f7dff" stroke-width="1"/><path d="M337.1 126v-2.5" stroke="#6f7dff" stroke-width="1"/><path d="M386.2 86v-2.5" stroke="#6f7dff" stroke-width="1"/><path d="M366 102v-2" stroke="#6f7dff" stroke-width="1"/>
<polygon points="452.7,174.5 323.1,137.7 398,75.5 527.6,112.3" fill="#030398"/>
<g fill="url(#gb)"><path transform="translate(408 161.8)" d="M0 0l0-1.2l0.8-0.8l0.7-0.8l0.8-0.9l0.8-5.7l0.8-1.5l0.7 1.3l0.8 2.6l0.8-0.6l0.7-1.1l0.8-0.2l0.8-0.3l0.8-0.4l0.7-0.1l0.8-0.3l0.8-0.8l0.8-1l0.7-1l0.8-3.8l0.8 0.4l0.7 1.5l0.8-0.4l0.8-1.7l0.8 0.1l0.7-2.5l0.8-2.4l0.8 0.8l0.7 1.6l0.8-0.8l0.8-0.7l0.8-0.7l0.7-2.2l0.8 0.5l0.8-0.3l0.8-0.6l0.7-0.6l0.8-0.6l0.8-0.4l0.7-2.8l0.8 0.6l0.8-1l0.8 0.5l0.7 0.6l0.8-0.6l0.8-0.6l0.7-0.5l0.8-1l0.8-0.4l0.8-0.8l0.7-1l0.8-0.9l0.8-0.8l0.8-0.8l0.7-0.7l0.8-0.6l0.8-0.6l0.7-0.6l0.8-0.6l0.8-0.5l0.8-0.5l0.7-0.6l0.8-4.7l0.8 0.8l0.7-2.8l0.8 0.7l0.8 2.9l0.8-0.8l0.7-0.8l0.8-0.9l0.8-0.8l0.8-0.7l0.7-0.8l0.8-0.8l0.8-0.8l0.7-0.7l0.8-0.5l0.8-0.5l0.8-0.4l0.7-0.5l0.8-0.6l0.8-0.7l0.7-0.7l0.8-3.7l0.8 0.6l0.8 1.2l0.7-0.3l0.8-3.3l0.8-1.1l0.8 0.7l0.7 1.5l0.8-1.1l0.8-2.4l0.7-1.5l0.8 0.3l0.8 1.4l0.8-0.2l0.7-0.3l0.8-0.4l0 0.3z"/>
<path transform="translate(409 162.1)" d="M0 0l0-4.9l0.8-4.5l0.7 0.6l0.8 1.2l0.8-2.7l0.8-1.5l0.7 1.5l0.8 1l0.8-8.6l0.7 2l0.8 4.3l0.8 0.1l0.8 0.3l0.7 0.2l0.8-15.7l0.8 4l0.8 9.3l0.7-4.4l0.8 1.4l0.8 0.3l0.7-0.3l0.8-0.3l0.8-0.3l0.8-0.5l0.7-0.8l0.8-0.9l0.8-12.8l0.7 3l0.8 7l0.8-0.8l0.8-8.2l0.7 3.2l0.8 1.3l0.8 0.8l0.8-5.8l0.7 2l0.8 2l0.8-0.2l0.7 0l0.8-4.1l0.8 0.7l0.8 1.4l0.7-1.7l0.8 0.6l0.8 0.7l0.7 0l0.8-0.6l0.8-0.8l0.8-1.2l0.7-1.2l0.8-1.2l0.8-4l0.8 0.2l0.7-1.2l0.8 0.3l0.8 0.2l0.7-0.6l0.8-0.4l0.8-0.3l0.8-9.2l0.7 2l0.8 5.7l0.8-0.5l0.7-0.5l0.8-0.6l0.8-0.6l0.8-0.9l0.7-1.1l0.8-4.3l0.8-0.1l0.8 1.1l0.7-0.3l0.8-1l0.8-1l0.7-0.8l0.8-0.4l0.8-0.3l0.8-0.1l0.7-0.3l0.8-10.5l0.8 2.2l0.7 6l0.8-0.4l0.8-4.2l0.8 1.4l0.7-9.7l0.8 3.5l0.8 7.3l0.8-10.2l0.7 2.8l0.8-1l0.8 2l0.7-5.2l0.8 2.5l0.8 4.4l0.8 0.4l0.7 0.1l0.8-0.1l0 0.6z"/>
<path transform="translate(410 162.4)" d="M0 0l0-7.6l0.8 1.1l0.7-4.9l0.8 1.7l0.8 2.5l0.8-1l0.7-0.9l0.8-0.9l0.8-1l0.7-0.8l0.8-7.8l0.8 1.2l0.8 5.9l0.7 0l0.8-0.4l0.8-0.5l0.8-0.5l0.7-0.4l0.8-0.5l0.8-0.6l0.7-0.7l0.8-0.9l0.8-11.6l0.8 2.4l0.7 6.8l0.8-0.7l0.8-3l0.7 0.8l0.8 0.1l0.8-0.7l0.8-0.8l0.7-0.7l0.8-8.6l0.8 2l0.8 2.4l0.7 0.7l0.8-0.8l0.8-0.2l0.7 0.4l0.8 0.4l0.8 0.3l0.8 0l0.7-0.5l0.8-0.6l0.8-0.8l0.7-0.7l0.8-0.7l0.8-0.9l0.8-1l0.7-0.9l0.8-0.8l0.8-1l0.8-1.2l0.7-1.5l0.8-1.5l0.8-6.3l0.7 1.7l0.8 1l0.8 1.3l0.8-0.3l0.7-0.5l0.8-0.5l0.8-0.5l0.7-0.5l0.8-6.4l0.8 1.7l0.8 2.8l0.7-1l0.8-0.9l0.8-0.8l0.8-0.8l0.7-1.3l0.8-11.6l0.8 4.5l0.7-4.5l0.8 4l0.8 3.5l0.8 0l0.7-0.2l0.8-0.4l0.8-4.5l0.7 1.3l0.8 1.6l0.8-0.5l0.8-0.5l0.7-0.7l0.8-0.8l0.8-3.4l0.8 1.5l0.7 0l0.8-0.4l0.8-11.8l0.7 2l0.8 2.7l0.8 2.9l0.8 3.7l0.7 0.2l0.8-2.4l0 2.8z"/>
<path transform="translate(410.9 162.6)" d="M0 0l0-4l0.8-0.8l0.7-0.9l0.8-0.8l0.8-1l0.8-0.9l0.7-0.9l0.8-0.9l0.8-5.9l0.7 2.1l0.8 1.5l0.8-0.2l0.8-0.1l0.7-0.1l0.8-0.5l0.8-0.5l0.8-0.3l0.7-0.4l0.8-5.7l0.8 0.2l0.7 1.3l0.8 1.3l0.8-8.1l0.8 2l0.7 3.7l0.8-3.7l0.8 1.2l0.7 0.7l0.8-0.6l0.8-0.6l0.8-0.6l0.7-0.6l0.8-0.6l0.8-10.7l0.8 3.1l0.7 4.5l0.8-2.4l0.8 1l0.7 0.4l0.8 0.5l0.8-2.7l0.8 1.5l0.7 1.1l0.8-0.7l0.8-4.7l0.7 0.7l0.8 1.8l0.8-0.9l0.8-4.6l0.7 0l0.8 2l0.8-0.9l0.8-1.3l0.7-3l0.8-0.1l0.8-1.2l0.7-0.7l0.8-7.2l0.8-3.1l0.8 2.6l0.7 6.4l0.8-0.5l0.8-0.5l0.7-14.4l0.8 3.7l0.8 9.1l0.8-0.8l0.7-0.9l0.8-0.9l0.8-0.8l0.8-14.9l0.7 4.3l0.8 7.4l0.8-2.1l0.7 0.1l0.8-0.4l0.8-0.2l0.8-0.1l0.7-0.3l0.8-0.5l0.8-0.5l0.7-0.5l0.8-0.5l0.8-0.5l0.8-0.7l0.7-0.8l0.8-3.3l0.8-9.9l0.8 3.4l0.7 6.8l0.8-0.2l0.8 0l0.7-0.2l0.8-5.8l0.8 2.8l0.8 3l0.7 0.1l0.8 0l0 0.6z"/>
<path transform="translate(411.9 162.9)" d="M0 0l0-3l0.8-4.7l0.7 0.8l0.8-6.4l0.8 1.7l0.8-0.8l0.7 1.5l0.8 0.9l0.8-0.6l0.7-2.6l0.8 1.3l0.8-8.6l0.8 1.4l0.7 2.4l0.8 3.6l0.8-1l0.8-1.4l0.7-1.3l0.8-1.1l0.8-0.7l0.7-0.2l0.8-6.5l0.8 2.2l0.8 3.8l0.7-5.8l0.8 1.6l0.8 1.4l0.7-0.9l0.8-9.2l0.8 3l0.8 5.3l0.7-0.2l0.8-8.3l0.8 2.4l0.8 3.9l0.7-1.2l0.8-1.1l0.8-9l0.7 4.4l0.8 4.4l0.8 0.2l0.8-3l0.7 1l0.8 1l0.8-0.4l0.7-0.5l0.8-0.6l0.8-0.8l0.8-1.4l0.7-1.4l0.8-1.6l0.8-1.3l0.8-7.3l0.7 2l0.8 2.5l0.8-5.5l0.7 1.9l0.8 1.8l0.8-6.3l0.8 1.9l0.7 2.8l0.8-0.6l0.8-12.7l0.7 3.5l0.8 6.9l0.8-7.9l0.8-1.2l0.7 2.3l0.8-0.1l0.8 1.7l0.8 0.3l0.7-14.8l0.8 4.5l0.8 9.4l0.7-11.9l0.8 0.2l0.8-8.5l0.8 5.4l0.7 11.7l0.8-0.7l0.8-12.9l0.7 4.1l0.8 7.4l0.8-12l0.8 3.5l0.7 6.5l0.8-0.9l0.8-0.9l0.8-0.7l0.7-0.3l0.8-0.1l0.8 0.1l0.7-9.8l0.8 3.8l0.8 3.8l0.8 0.7l0.7 0.1l0.8 0.3l0 1.2z"/>
<path transform="translate(412.9 163.2)" d="M0 0l0-2.4l0.8-1l0.7-10.4l0.8 2.5l0.8 3.4l0.8-1.1l0.7-0.6l0.8-2.6l0.8 1.2l0.7-3.6l0.8 1.3l0.8-9.1l0.8 1.8l0.7 2.4l0.8 4.7l0.8-0.9l0.8-1.9l0.7-2l0.8-1.6l0.8-0.7l0.7-9.4l0.8 3.7l0.8 7l0.8-0.1l0.7-0.8l0.8-1.3l0.8-12.7l0.7 3.3l0.8 6.4l0.8-9.4l0.8 3.7l0.7 2.3l0.8 1.7l0.8 1.2l0.8-1l0.7-1.2l0.8-4.1l0.8-4l0.7 2.8l0.8 3.7l0.8-3.4l0.8 1.7l0.7 1.2l0.8-0.3l0.8-0.2l0.7-0.3l0.8-0.5l0.8-0.9l0.8-4.1l0.7-0.2l0.8-4l0.8-1.4l0.8 0.8l0.7 0.1l0.8-5.8l0.8 1.9l0.7 3l0.8-8l0.8 2.4l0.8 2.8l0.7-0.1l0.8-0.6l0.8-12.7l0.7-2.5l0.8 3.7l0.8 5.7l0.8 1.5l0.7-11.7l0.8 3.2l0.8 5.6l0.8-0.4l0.7-1.9l0.8 1.6l0.8 0.8l0.7-0.3l0.8-0.8l0.8-22.3l0.8 6.1l0.7 13.5l0.8-0.7l0.8-0.5l0.7-0.5l0.8-0.4l0.8-0.5l0.8-0.7l0.7-0.8l0.8-13.5l0.8 4.2l0.8-4.2l0.7 3.8l0.8 7.1l0.8 0.2l0.7-0.1l0.8-0.7l0.8-1l0.8-0.5l0.7 0.1l0.8 0.5l0 1.6z"/>
<path transform="translate(413.8 163.5)" d="M0 0l0-2.5l0.8-14.7l0.7 3.2l0.8 7.5l0.8-1.5l0.8-1.1l0.7-0.4l0.8-0.2l0.8-0.1l0.7-0.4l0.8-0.6l0.8-0.6l0.8-0.4l0.7-15.7l0.8 4l0.8 9.2l0.8-15.8l0.7 4.4l0.8 5.5l0.8-0.8l0.7-0.1l0.8 0.1l0.8 0.1l0.8-0.2l0.7-0.5l0.8-0.4l0.8-4.5l0.7-0.1l0.8 1.5l0.8 1.3l0.8 0.1l0.7-0.3l0.8-0.4l0.8-0.6l0.8-0.7l0.7-0.8l0.8-0.7l0.8-0.5l0.7-0.4l0.8-0.6l0.8-0.4l0.8-8.3l0.7 2.8l0.8 4.4l0.8-0.4l0.7-1.3l0.8-4.7l0.8 1l0.8-1.9l0.7 0l0.8 0l0.8-1.5l0.8-1.2l0.7-0.8l0.8-0.7l0.8-0.5l0.7-0.6l0.8-0.6l0.8-0.6l0.8-0.6l0.7-0.4l0.8-9.2l0.8 3l0.7 5.5l0.8-0.3l0.8-0.6l0.8-0.8l0.7-17.5l0.8 4.2l0.8-6.6l0.8 5.2l0.7 11.2l0.8-0.3l0.8-0.4l0.7-0.5l0.8-0.8l0.8-1l0.8-1l0.7-0.9l0.8-0.7l0.8-0.6l0.7-0.7l0.8-15.2l0.8-4.6l0.8 5.8l0.7 11.8l0.8-0.4l0.8-0.5l0.8-0.6l0.7-0.5l0.8-0.2l0.8 0l0.7-0.2l0.8-0.7l0.8-5.7l0.8 2.3l0.7 0.4l0.8 2l0 1.9z"/>
<path transform="translate(414.8 163.7)" d="M0 0l0-2.6l0.8-13.2l0.7 2.1l0.8 7.1l0.8-1.5l0.8-1l0.7-7.2l0.8-12.3l0.8 5.3l0.7-5.5l0.8 5.1l0.8 13.1l0.8-0.7l0.7-6.7l0.8 1.7l0.8 2.1l0.8-2.1l0.7-11.3l0.8 3.1l0.8 3.2l0.7-0.5l0.8-0.5l0.8-12l0.8-7.2l0.7 6.6l0.8 12.4l0.8-12.1l0.7 4.2l0.8 8.9l0.8-0.7l0.8-0.7l0.7-0.8l0.8-17.7l0.8 1.7l0.8 4.6l0.7 9.5l0.8-0.4l0.8-0.4l0.7-0.8l0.8-1.2l0.8-6.9l0.8 2.9l0.7 1.9l0.8-0.4l0.8-0.5l0.7-0.4l0.8-0.5l0.8-1l0.8-1.6l0.7-1.9l0.8-1.2l0.8-5.8l0.8-0.7l0.7 1.8l0.8-0.4l0.8-0.8l0.7-0.5l0.8-0.9l0.8 0l0.8-12.7l0.7 3.4l0.8 8.7l0.8 0.6l0.7-13.3l0.8 3.8l0.8-6.8l0.8 4.2l0.7 6.2l0.8-11.6l0.8 3l0.8 3.3l0.7-11.6l0.8 5l0.8 11.7l0.7-0.8l0.8-0.8l0.8-2.3l0.8 0.2l0.7-0.9l0.8-0.6l0.8-0.7l0.7-0.9l0.8-18.4l0.8 5.5l0.8 11.2l0.7 0l0.8 0l0.8-0.2l0.8-12.1l0.7 3.7l0.8 6.7l0.8-0.3l0.7-0.4l0.8-0.6l0.8-0.6l0.8-4.3l0.7 3.1l0.8 1.4l0 1.3z"/>
<path transform="translate(415.8 164)" d="M0 0l0-3.7l0.8-0.9l0.7-1.1l0.8-1.1l0.8-13.1l0.8 3l0.7 7.5l0.8-0.2l0.8-0.2l0.7-0.4l0.8-0.6l0.8-17.6l0.8 5l0.7 10.8l0.8-0.7l0.8-1.4l0.8-2l0.7-2.2l0.8-1.7l0.8-0.9l0.7-0.3l0.8-0.1l0.8-0.1l0.8-0.3l0.7-11.1l0.8 4.6l0.8 6.4l0.7 0l0.8-7.1l0.8 2.4l0.8 3.7l0.7-14.7l0.8 1.1l0.8 3.8l0.8 7.6l0.7-0.6l0.8-0.6l0.8-0.5l0.7-0.6l0.8-8.8l0.8 3.3l0.8 3.6l0.7-0.5l0.8-0.5l0.8-0.9l0.7-0.2l0.8-0.9l0.8-4.3l0.8-0.1l0.7 0.7l0.8-1.5l0.8-1.4l0.8-9.4l0.7 2.6l0.8 2.4l0.8-0.9l0.7-0.5l0.8-0.2l0.8-0.1l0.8-7.3l0.7 2.5l0.8 4.6l0.8 0.5l0.7 0.6l0.8 0.2l0.8-0.5l0.8-1l0.7-9.2l0.8 2.2l0.8 3.5l0.8-0.7l0.7-8.9l0.8 2.8l0.8-3.9l0.7 2.7l0.8 3.2l0.8-1l0.8-0.9l0.7-0.7l0.8-16.9l0.8 5.1l0.7 10.1l0.8-0.6l0.8-0.4l0.8-8.2l0.7 3.2l0.8 1.7l0.8-14.1l0.8 5.4l0.7 10.6l0.8-0.9l0.8-0.8l0.7-12.2l0.8 4.4l0.8 3.8l0.8 2.8l0.7 0.3l0.8-1.5l0 2.8z"/>
<path transform="translate(416.8 164.3)" d="M0 0l0-5.8l0.8-0.7l0.7-0.4l0.8-19l0.8 5.5l0.8 11.8l0.7-0.9l0.8-5l0.8-13.2l0.7-2.1l0.8 6.7l0.8 10.2l0.8-0.2l0.7-0.4l0.8-0.6l0.8-11.7l0.8 2.1l0.7-6.2l0.8 2.5l0.8-1.3l0.7-9.9l0.8 5.6l0.8 5.8l0.8 3.3l0.7 3l0.8-1.4l0.8-1.2l0.7-1l0.8-0.4l0.8 0.1l0.8 0.2l0.7-2l0.8 0.9l0.8-13.1l0.8 3.8l0.7 7.5l0.8-1.2l0.8-5.4l0.7 2.5l0.8-5.7l0.8 0.5l0.8-0.3l0.7 2.7l0.8 3.9l0.8-0.7l0.7-0.7l0.8-0.7l0.8-0.9l0.8-1.5l0.7-1.3l0.8-1.3l0.8-1.2l0.8-1.6l0.7-1.9l0.8-2l0.8-6.8l0.7 3.1l0.8 2.1l0.8 0.5l0.8-11l0.7 3.6l0.8 7.7l0.8 0.4l0.7 0.3l0.8 0.1l0.8-0.6l0.8-20l0.7 4.1l0.8 9.7l0.8-1.8l0.8-19.4l0.7 0.6l0.8 6l0.8 10.7l0.7-0.6l0.8-0.8l0.8-15.1l0.8 5l0.7 8.2l0.8-7.8l0.8 3l0.7 3.6l0.8-0.3l0.8-20l0.8 6.5l0.7-0.7l0.8 5.3l0.8 9.1l0.8-18.1l0.7 4l0.8 4.1l0.8 5.6l0.7-11.8l0.8 3.9l0.8 7l0.8 1.2l0.7-4.2l0.8 3.1l0 2.6z"/>
<path transform="translate(417.7 164.6)" d="M0 0l0-15.9l0.8 3.1l0.7 3.3l0.8-7.8l0.8-8.1l0.8 4.1l0.7 4.3l0.8 6.9l0.8-0.9l0.7-0.8l0.8-0.6l0.8-0.3l0.8-0.2l0.7-0.4l0.8-20.4l0.8 5.5l0.8 11.4l0.7-1.7l0.8-1.5l0.8-0.8l0.7-0.1l0.8-16l0.8 0.1l0.8 5.9l0.7 9.7l0.8-5.9l0.8-9.5l0.7 5.2l0.8 3.6l0.8 1.6l0.8-8.5l0.7 2.4l0.8-2.6l0.8 2.4l0.8 5.5l0.7-18.3l0.8 5.5l0.8 9.6l0.7 0.1l0.8 0.3l0.8-3.2l0.8 2.1l0.7 1.1l0.8-0.8l0.8-1.3l0.7-0.3l0.8-0.6l0.8-0.9l0.8-1.3l0.7-9.7l0.8 1.2l0.8 5.1l0.8-1.4l0.7-1.6l0.8-1.8l0.8-1.2l0.7-0.6l0.8-4.2l0.8 2.2l0.8 2.6l0.7-0.2l0.8-0.3l0.8-1.2l0.7 0.9l0.8-2.2l0.8 0.9l0.8-12.4l0.7-1.1l0.8 3.5l0.8-7.1l0.8 4.1l0.7 4.9l0.8-16.4l0.8 4.9l0.7 9.7l0.8-0.8l0.8-14.3l0.8 5.2l0.7 6.5l0.8-0.4l0.8-0.3l0.7-0.2l0.8-0.2l0.8-0.4l0.8-17.1l0.7 5.3l0.8-5.4l0.8 5.1l0.8 12.6l0.7-1.2l0.8-1.6l0.8-1.4l0.7-0.9l0.8-10.9l0.8 5.5l0.8 7.4l0.7 0.7l0.8 0.2l0 0.8z"/>
<path transform="translate(418.7 164.8)" d="M0 0l0-4.3l0.8-0.7l0.7-0.5l0.8-0.4l0.8-9.6l0.8 3l0.7 4.4l0.8-4l0.8 0.9l0.7 0l0.8-0.6l0.8-0.3l0.8-22.4l0.7 4.6l0.8-11.2l0.8 7.9l0.8 6.3l0.7-4l0.8 0.8l0.8 5.1l0.7 5.3l0.8-1.1l0.8-1l0.8-0.7l0.7-0.5l0.8-0.1l0.8-0.1l0.7-0.2l0.8-0.4l0.8-0.7l0.8-0.7l0.7-0.8l0.8-0.7l0.8-12.1l0.8 3.3l0.7-4.2l0.8 4.3l0.8 4.4l0.7 0.5l0.8-3.8l0.8 3l0.8-0.7l0.7-2.3l0.8 1.3l0.8-1.8l0.7 0.2l0.8 0.8l0.8-0.1l0.8-7.7l0.7 0.4l0.8 3.7l0.8-7l0.8 2l0.7 2l0.8-12.2l0.8 3.8l0.7 5.6l0.8-0.5l0.8-0.3l0.8-18.3l0.7 4.7l0.8 12.2l0.8-0.6l0.7-0.7l0.8-0.7l0.8-0.6l0.8-0.5l0.7-6.5l0.8 2.7l0.8 2.5l0.8-9.4l0.7-1.7l0.8 2.3l0.8 5.5l0.7-0.8l0.8-1.4l0.8-1.9l0.8-22.1l0.7 8.1l0.8 10l0.8 0.4l0.7 0.9l0.8 0.7l0.8 0.1l0.8-0.7l0.7-11.2l0.8 2.3l0.8 5.3l0.8-0.6l0.7-0.6l0.8-0.6l0.8-0.3l0.7-0.1l0.8 0l0.8 0.3l0.8 0.8l0.7-3.7l0.8 3.4l0 2.7z"/>
<path transform="translate(419.7 165.1)" d="M0 0l0-14.1l0.8-1l0.7 3l0.8 1.9l0.8 0.5l0.8 2.5l0.7-14.7l0.8 3.9l0.8 3.9l0.7 2.8l0.8-0.6l0.8-0.2l0.8-0.3l0.7-0.3l0.8-0.7l0.8-0.9l0.8-0.9l0.7-1l0.8-0.9l0.8-0.9l0.7-1.4l0.8-9.7l0.8 3.1l0.8 2.5l0.7-0.3l0.8 0.3l0.8-19.3l0.7 5.6l0.8 14l0.8-0.9l0.8-1.3l0.7-8.3l0.8 2.9l0.8 2.7l0.8-0.9l0.7-1l0.8-9.1l0.8 3l0.7-0.7l0.8 3.7l0.8-5.1l0.8 4.1l0.7 5.1l0.8-1.1l0.8-1.3l0.7-1.2l0.8-5.2l0.8 1l0.8 1.4l0.7-5.1l0.8 0.3l0.8 1.7l0.8-0.9l0.7-1l0.8-1.1l0.8-0.8l0.7-0.7l0.8-19l0.8-3.1l0.8 5.6l0.7 14.2l0.8-0.7l0.8-0.8l0.7-0.9l0.8-0.8l0.8-23.4l0.8 2.7l0.7 0.2l0.8 6.5l0.8 13.5l0.8-0.9l0.7-18l0.8 4.5l0.8 3.7l0.7 5.5l0.8-14l0.8-1.3l0.8-6.1l0.7 5.8l0.8-3.7l0.8 4.8l0.7 9l0.8 1.2l0.8-13.9l0.8 4.5l0.7 6.9l0.8-2.1l0.8-1.7l0.8-0.7l0.7-1.9l0.8 1.4l0.8 0.2l0.7 0.1l0.8-6.5l0.8-3.9l0.8 6.3l0.7 5.4l0.8 0.6l0 1.6z"/>
<path transform="translate(420.6 165.4)" d="M0 0l0-3.7l0.8-14.5l0.7-3.1l0.8-5.9l0.8 8.5l0.8 6.7l0.7 2.8l0.8-5.5l0.8 1.6l0.7-0.2l0.8-0.5l0.8-12.6l0.8-9.6l0.7 5.1l0.8 16.2l0.8-0.8l0.8-0.7l0.7-17.6l0.8 6l0.8 9.3l0.7-0.9l0.8-5.4l0.8 2l0.8-6.6l0.7-8.4l0.8 4l0.8 11.5l0.7-6.2l0.8 2.2l0.8 2.4l0.8-1.5l0.7-1.4l0.8-1.1l0.8-0.5l0.8-0.2l0.7-0.1l0.8-0.2l0.8-11.9l0.7 4.7l0.8 7.1l0.8-2.8l0.8-5.1l0.7 2.6l0.8 3.9l0.8-1l0.7-4.3l0.8 1.7l0.8 0.4l0.8-1.2l0.7-1l0.8-5l0.8 0.3l0.8 1.8l0.7-11.1l0.8 1.5l0.8-5l0.7-3.8l0.8 4.3l0.8 8l0.8-2.3l0.7 0.5l0.8-0.5l0.8 0l0.7 0l0.8-0.1l0.8-0.6l0.8-0.7l0.7-14.7l0.8-0.5l0.8 4.7l0.8-3.9l0.7 4.2l0.8-7l0.8 4.9l0.7 5l0.8-0.9l0.8-13.3l0.8 4.5l0.7-5l0.8 3.3l0.8 6.7l0.7 0.4l0.8 0.3l0.8-10.2l0.8-8.3l0.7 6.8l0.8 9l0.8-0.8l0.8-0.5l0.7-9.4l0.8 4.2l0.8 4.1l0.7-10l0.8 3.2l0.8 6.8l0.8 0.5l0.7-3.2l0.8 2.9l0 2.5z"/>
<path transform="translate(421.6 165.7)" d="M0 0l0-5.3l0.8-13.2l0.7-9.5l0.8-8.6l0.8 10.7l0.8 10.5l0.7 4.8l0.8-23.3l0.8 6.8l0.7 10.6l0.8 0.2l0.8 0.1l0.8 0.3l0.7 0.2l0.8-5l0.8 2.2l0.8-17.4l0.7 5.4l0.8 12.1l0.8-0.6l0.7-0.4l0.8-0.4l0.8-7.8l0.8 2.9l0.7-9.5l0.8 4.3l0.8 8.3l0.7-0.3l0.8-0.5l0.8-1.3l0.8-17.9l0.7 4.4l0.8 8.9l0.8-15.8l0.8 5l0.7-11.6l0.8 6.9l0.8 16.6l0.7-11.3l0.8 0.9l0.8 3.9l0.8 4.5l0.7-5.5l0.8 1.5l0.8 2.2l0.7-7.7l0.8 2.1l0.8 3.5l0.8-1.1l0.7-0.9l0.8-14.8l0.8 0.1l0.8 3.3l0.7-6.1l0.8 3.7l0.8-3.6l0.7 3.4l0.8 5.2l0.8-13.8l0.8 2.9l0.7-12l0.8 5l0.8 4.6l0.7-12.5l0.8 2.9l0.8 7.2l0.8-3.5l0.7 6.1l0.8 5.5l0.8-1.4l0.8-0.8l0.7-0.9l0.8-0.8l0.8-0.8l0.7-0.8l0.8-0.4l0.8-0.3l0.8-10.2l0.7-5.4l0.8 5.6l0.8 7.9l0.7-0.4l0.8-0.4l0.8-0.6l0.8-0.5l0.7-8.2l0.8 4l0.8-7.9l0.8 4.8l0.7 5.9l0.8-5.9l0.8-2l0.7 2.9l0.8 3.7l0.8 0.1l0.8 0.4l0.7 0.4l0.8 0.2l0 1.1z"/>
<path transform="translate(422.6 165.9)" d="M0 0l0-7.3l0.8-12.7l0.7-15.8l0.8 0.1l0.8 0.1l0.8 7.1l0.7 8.7l0.8-16.7l0.8 7.7l0.7 11.5l0.8-12.5l0.8 0.3l0.8 6.1l0.7 5.3l0.8-0.4l0.8-12.9l0.8 4.3l0.7 8.3l0.8-0.2l0.8-0.6l0.7-3l0.8 1.7l0.8-0.6l0.8-0.7l0.7-0.3l0.8 0.1l0.8 0.2l0.7 0.1l0.8-9.5l0.8 2.5l0.8 2.8l0.7-2.1l0.8-1.5l0.8-7.9l0.8 3.2l0.7 5.6l0.8-18.2l0.8 7l0.7 12l0.8-16.9l0.8 6.8l0.8 5.9l0.7 3.3l0.8-0.7l0.8-0.8l0.7-0.8l0.8-0.6l0.8-0.9l0.8-1.3l0.7-16.8l0.8 2.5l0.8 1.4l0.8 3.2l0.7 3.8l0.8-1.2l0.8-12.8l0.7 3.4l0.8-5.8l0.8 2.5l0.8 6.5l0.7-1.3l0.8-18l0.8 5.4l0.7 13.7l0.8 0.7l0.8-0.4l0.8-1.2l0.7-16.8l0.8 6.8l0.8 5.6l0.8-0.6l0.7-7.2l0.8-3.5l0.8 2.5l0.7 6l0.8-0.6l0.8-0.6l0.8-0.7l0.7-0.9l0.8-0.8l0.8-0.6l0.7-0.3l0.8-15.5l0.8 5.8l0.8-3.8l0.7 4.8l0.8 5.4l0.8-0.6l0.8-0.4l0.7-0.2l0.8-0.2l0.8 0.1l0.7 0.2l0.8-6.4l0.8-0.5l0.8 4.3l0.7 1.4l0.8 1.9l0 1.8z"/>
<path transform="translate(423.6 166.2)" d="M0 0l0-22.5l0.8-19.1l0.7 6.7l0.8 6.3l0.8 2.6l0.8 10.9l0.7 3.8l0.8-2.3l0.8-2.4l0.7-1.7l0.8-0.9l0.8-0.5l0.8-0.5l0.7-0.4l0.8-0.6l0.8-7.7l0.8-1.5l0.7 4.2l0.8 6l0.8-0.6l0.7-1l0.8-1.2l0.8-21.4l0.8 7.7l0.7 11.6l0.8-9l0.8 3.9l0.7 3l0.8 3.7l0.8-2l0.8-2.9l0.7-2.9l0.8-1.8l0.8-0.3l0.8 0.6l0.7-12l0.8 5.5l0.8 8.8l0.7-1.4l0.8-4.7l0.8 3.7l0.8-5l0.7 2.7l0.8 5l0.8-1l0.7-0.9l0.8-2.5l0.8 0l0.8-14.4l0.7 1.1l0.8 5.1l0.8 2.7l0.8-1.3l0.7-1.1l0.8-1l0.8-0.8l0.7-0.9l0.8-1.3l0.8-1.4l0.8-1.5l0.7-1.2l0.8-11.6l0.8 0.2l0.7 4.8l0.8-0.8l0.8 4.3l0.8 3.7l0.7-1.4l0.8-1.4l0.8-1.1l0.8-7.1l0.7 3l0.8 2.8l0.8-0.3l0.7-4.6l0.8 2.2l0.8 0l0.8-1.2l0.7-1.2l0.8-0.8l0.8-10.2l0.7 5.2l0.8 4.8l0.8-6.6l0.8 3l0.7 0.7l0.8-12.2l0.8 4.1l0.8 4.5l0.7 0.2l0.8 0.6l0.8 0.7l0.7-10.4l0.8 3.6l0.8 1.9l0.8-3.4l0.7 5.6l0.8 5.3l0 0.9z"/>
<path transform="translate(424.5 166.5)" d="M0 0l0-10.8l0.8-10.9l0.7 2.3l0.8 2.9l0.8 1.1l0.8 5.5l0.7-17.8l0.8 5.5l0.8-8.7l0.7-1.3l0.8 4.9l0.8 9.8l0.8-1l0.7-1l0.8-0.9l0.8-0.3l0.8 0.3l0.7-11.6l0.8 5l0.8 6.5l0.7-1l0.8-7l0.8 3.3l0.8 0.7l0.7-0.5l0.8 0l0.8-6.1l0.7 3.3l0.8 2.3l0.8-13l0.8 3.8l0.7 2.1l0.8-7.2l0.8 3.8l0.8 2.1l0.7 1l0.8 0.8l0.8 0.7l0.7 1l0.8-10.1l0.8 5.4l0.8 6.7l0.7-7.8l0.8 1.6l0.8 3.1l0.7-0.2l0.8-8.3l0.8 0.6l0.8 3l0.7-0.6l0.8-1.8l0.8-1.6l0.8-1.6l0.7-1.6l0.8-6.5l0.8 2l0.7 1.2l0.8-15.7l0.8 4l0.8 7.6l0.7-1.1l0.8-0.2l0.8-21.3l0.7 7.9l0.8 15.7l0.8-0.4l0.8-8.1l0.7 4.4l0.8 1.3l0.8-0.7l0.8-0.7l0.7-0.7l0.8-0.7l0.8-0.7l0.7-0.6l0.8-1.6l0.8 0.2l0.8-0.8l0.7-0.8l0.8-0.6l0.8-0.5l0.7-0.3l0.8-0.3l0.8-14.1l0.8 5.1l0.7-1.6l0.8 3.7l0.8 2.9l0.8-0.4l0.7 0l0.8 0.4l0.8 0.5l0.7 0.4l0.8 0.1l0.8 0.3l0.8-7.6l0.7 4.6l0.8 4.2l0 0.9z"/>
<path transform="translate(425.5 166.8)" d="M0 0l0-18.4l0.8 3.5l0.7 3.6l0.8-14.9l0.8 4.8l0.8 9.6l0.7-11.1l0.8 4l0.8-4.2l0.7 4l0.8-6l0.8-19.4l0.8 9.3l0.7 15.9l0.8-1.4l0.8-1.2l0.8 1.1l0.7 0.5l0.8-13l0.8 6l0.7-5.6l0.8 4.6l0.8 1.3l0.8-13.7l0.7 5.6l0.8 8.2l0.8-2.3l0.7-13.2l0.8 5.9l0.8 3.3l0.8-1l0.7-1l0.8-0.7l0.8-0.3l0.8 0.2l0.7 0.4l0.8 0.5l0.8 1l0.7 1.7l0.8 2l0.8 1.4l0.8 0.6l0.7-0.4l0.8-0.8l0.8-1.2l0.7-1.1l0.8-0.9l0.8-1.1l0.8-1.5l0.7-1.2l0.8-1.1l0.8-1.3l0.8-2l0.7-2.4l0.8-2.6l0.8-1.7l0.7-0.9l0.8-1.3l0.8-1.4l0.8-1.3l0.7-1l0.8-0.4l0.8 0l0.7 0.1l0.8-27.2l0.8 11.1l0.8 15.9l0.7 1l0.8 1.1l0.8 0.4l0.8-0.8l0.7-1.8l0.8-2.1l0.8-17.6l0.7 5.2l0.8 9.4l0.8 0.4l0.8-17.7l0.7 6.5l0.8-5.6l0.8 6.1l0.7 7.4l0.8-4l0.8 1.1l0.8 0l0.7-4.8l0.8 4.1l0.8 2.6l0.8-0.2l0.7-0.3l0.8-0.1l0.8-10.6l0.7 3l0.8-1.7l0.8-2.3l0.8 5.4l0.7 2.5l0.8 2.8l0 2.5z"/>
<path transform="translate(426.5 167.1)" d="M0 0l0-34.7l0.8 7.3l0.7 15.5l0.8 0.5l0.8 0.3l0.8-0.2l0.7-0.2l0.8-0.2l0.8-0.3l0.7-25.7l0.8-2.4l0.8-0.7l0.8 4.2l0.7 10.6l0.8 4.7l0.8-4.4l0.8-14.3l0.7 7.8l0.8 11.8l0.8-0.8l0.7-0.8l0.8-0.8l0.8-0.6l0.8-7.3l0.7 3.3l0.8-0.4l0.8-2.8l0.7-2.4l0.8-1.1l0.8-0.6l0.8-0.5l0.7-0.4l0.8-0.3l0.8-0.3l0.8 0l0.7 0.1l0.8-2.3l0.8 3.6l0.7 1.8l0.8 2.1l0.8 1.5l0.8 0.7l0.7-0.3l0.8-0.9l0.8-1l0.7-1.2l0.8-6.1l0.8 0.6l0.8 2l0.7-1.1l0.8-2.2l0.8 0.1l0.8-17.6l0.7 5.3l0.8 4.8l0.8-1.8l0.7-1l0.8-12l0.8 3.3l0.8 4.6l0.7-0.9l0.8-0.4l0.8-0.1l0.7-22.6l0.8 5.6l0.8-8.3l0.8 10.2l0.7 16.2l0.8-7l0.8-10.6l0.8 6.2l0.7 10.4l0.8-2.3l0.8-1.9l0.7-4.6l0.8 3.1l0.8-14.8l0.8 6l0.7 8.7l0.8-20.8l0.8 7.6l0.7 10.9l0.8-19.5l0.8 7.1l0.8 9.4l0.7 0.9l0.8-15.4l0.8 6.8l0.8 10.1l0.7-13.4l0.8 4.9l0.8 8.1l0.7-0.1l0.8-0.1l0.8-0.1l0.8 0.3l0.7 0.3l0.8-1.9l0 3z"/>
<path transform="translate(427.4 167.3)" d="M0 0l0-11.4l0.8-1.1l0.7-1.2l0.8-1l0.8-8.6l0.8 5.2l0.7 2.6l0.8 1.1l0.8 1l0.7 0.3l0.8-5.8l0.8-17.4l0.8-1.9l0.7 0.5l0.8 13.8l0.8 1.4l0.8 0.7l0.7 0.8l0.8-10.9l0.8 4l0.7-4.4l0.8 4.2l0.8 2.1l0.8-1.2l0.7-0.9l0.8-0.8l0.8-0.9l0.7-1.9l0.8 0.3l0.8-0.3l0.8 0.3l0.7 0.3l0.8 0l0.8-0.4l0.8-0.8l0.7-0.6l0.8-0.5l0.8 0.4l0.7 0.9l0.8 0.9l0.8 0.7l0.8 0.4l0.7-0.2l0.8-0.6l0.8-5.5l0.7 1.6l0.8 1.5l0.8-6.4l0.8-8.3l0.7 1.1l0.8 8.1l0.8-1.4l0.8-1.8l0.7-1.9l0.8-8.5l0.8-3l0.7 4.1l0.8 2.3l0.8-1.7l0.8-10.2l0.7 3.3l0.8-23.1l0.8-2.1l0.7 9.9l0.8 15.7l0.8 3.3l0.8 2.2l0.7-35.2l0.8 10.2l0.8 6.1l0.8 6.1l0.7 7.8l0.8-0.5l0.8-0.5l0.7-0.6l0.8-6.5l0.8 3.8l0.8-10l0.7 5.1l0.8 4l0.8-0.1l0.7 0.1l0.8 0l0.8-0.2l0.8-0.5l0.7-0.3l0.8-0.2l0.8-1.6l0.8 0.9l0.7-3.2l0.8 2l0.8 0.5l0.7 0l0.8 0l0.8 0.1l0.8-9l0.7 5.5l0.8 4.6l0 1.1z"/>
<path transform="translate(428.4 167.6)" d="M0 0l0-19l0.8 3.8l0.7 0.4l0.8-2.2l0.8-1.9l0.8-1l0.7 1.1l0.8 2l0.8 1.9l0.7-12.5l0.8 4.5l0.8-10l0.8-9.7l0.7 3.3l0.8 15.2l0.8-8.9l0.8-19.7l0.7 7l0.8 25.3l0.8-0.3l0.7-1.4l0.8-1.8l0.8-2l0.8-1.4l0.7-0.7l0.8-0.2l0.8-7.4l0.7 4.8l0.8 1.6l0.8-6.2l0.8 2.9l0.7 4.2l0.8 0.2l0.8-0.6l0.8-7.4l0.7 3l0.8 1.3l0.8 0.1l0.7-19l0.8 7.9l0.8 11.6l0.8 0.2l0.7-0.2l0.8-11.3l0.8 3.8l0.7 5.9l0.8-0.7l0.8-1.2l0.8-1.7l0.7-1.6l0.8-1.4l0.8-13.9l0.8 3.6l0.7-10.2l0.8 4.9l0.8-4.4l0.7-6.1l0.8 8.1l0.8 7.8l0.8-1.4l0.7-0.7l0.8-24.3l0.8 7.9l0.7 9.4l0.8 11.3l0.8-0.4l0.8-1.7l0.7-2.5l0.8-2.5l0.8-1.8l0.8-0.6l0.7-3.2l0.8 3.2l0.8 0.3l0.7-17.9l0.8 6.5l0.8 8.6l0.8-15.4l0.7 0.9l0.8 5.9l0.8 5.4l0.7 1.2l0.8-1.8l0.8 2.2l0.8-11.1l0.7 4.1l0.8 5l0.8-12.9l0.8 4.6l0.7-11.5l0.8 6.3l0.8 10.7l0.7 0.6l0.8 0l0.8 0.3l0.8 0.7l0.7 0.5l0.8 0.3l0 1.2z"/>
<path transform="translate(429.4 167.9)" d="M0 0l0-13.6l0.8-1.2l0.7-3l0.8-0.1l0.8-1.4l0.8-1l0.7 1l0.8 2.1l0.8 2.1l0.7-15.8l0.8 4.4l0.8-15.8l0.8 6.7l0.7 8.4l0.8 3.6l0.8 0.2l0.8 0.4l0.7 0.3l0.8 0.3l0.8-4.7l0.7-9.3l0.8-0.8l0.8 9.3l0.8 2.2l0.7-0.5l0.8-17l0.8 8.1l0.7 9.7l0.8-0.6l0.8-1l0.8-1.2l0.7-1.1l0.8-10.3l0.8 3.6l0.8-14l0.7 6.6l0.8 10.7l0.8 0.1l0.7 0.5l0.8 0.2l0.8 0.3l0.8 0.3l0.7-0.2l0.8-3.2l0.8-2.9l0.7 2.5l0.8 1.9l0.8-1.1l0.8-1.8l0.7-1.6l0.8-1.6l0.8-1.5l0.8-1.5l0.7-1.6l0.8-10l0.8-10.8l0.7-4.3l0.8 5l0.8 9.4l0.8-10.1l0.7-6l0.8 2l0.8 6.8l0.7 13.8l0.8 0.5l0.8-23.4l0.8 6l0.7 14.2l0.8-1.7l0.8-1.3l0.8-20l0.7 6.5l0.8 11.4l0.8-0.6l0.7-0.6l0.8-0.6l0.8-27.2l0.8 8.7l0.7-1.5l0.8 7.2l0.8 9.9l0.7-0.5l0.8-0.6l0.8-0.6l0.8-13.9l0.7 5.3l0.8-2.1l0.8-8.7l0.8 6.2l0.7 7l0.8 2.7l0.8-0.2l0.7-17.1l0.8 0.5l0.8 6.5l0.8 11.8l0.7 0.1l0.8 0.9l0 1.1z"/>
<path transform="translate(430.4 168.2)" d="M0 0l0-26.3l0.8 5.2l0.7 4.9l0.8-0.8l0.8-0.8l0.8-0.9l0.7-9.4l0.8 5.2l0.8 8.9l0.7-24.1l0.8 6.7l0.8 15.1l0.8-7.9l0.7 3.2l0.8-0.4l0.8-0.7l0.8-1l0.7-1l0.8-0.8l0.8-9.9l0.7-12.5l0.8-5.8l0.8 16.6l0.8 9.3l0.7 1.6l0.8 0.8l0.8 1.1l0.7 0.8l0.8-0.4l0.8-2.2l0.8-2.1l0.7-2.5l0.8-1.6l0.8-0.6l0.8-0.5l0.7-0.4l0.8-0.5l0.8 0.2l0.7 0.4l0.8 0.3l0.8 0.3l0.8 0.4l0.7-0.1l0.8-0.2l0.8-0.1l0.7-0.2l0.8-2.5l0.8 0.6l0.8-1.2l0.7-1.6l0.8-16.2l0.8 3.3l0.8 8.6l0.7-3.5l0.8-10.2l0.8-14.3l0.7-3.2l0.8 3.4l0.8 14.7l0.8 6l0.7-13.3l0.8 4.5l0.8-20.3l0.7 8.8l0.8 20.7l0.8-0.5l0.8-3.3l0.7-3.6l0.8-20.5l0.8 7.8l0.8 6.6l0.7 7l0.8-0.9l0.8-1.4l0.7-0.9l0.8-0.1l0.8 0.7l0.8-17.4l0.7 5.5l0.8 12.3l0.8-16.4l0.7 4.5l0.8 6.3l0.8-1.4l0.8-15.5l0.7 5.8l0.8 9.6l0.8 0.1l0.8-0.3l0.7-0.7l0.8-0.8l0.8-0.5l0.7-0.3l0.8-15.5l0.8 7.6l0.8 10.2l0.7 0.8l0.8 0.3l0 1.1z"/>
<path transform="translate(431.3 168.4)" d="M0 0l0-19.7l0.8 3.5l0.7-2.9l0.8 2.6l0.8 1.4l0.8-1l0.7 0.2l0.8 0.9l0.8 0.9l0.7 0.2l0.8-1l0.8-1.7l0.8-1.9l0.7-1.6l0.8-1.2l0.8-0.4l0.8-1.1l0.7-1l0.8-4.7l0.8-9.6l0.7-9.6l0.8-8.5l0.8 15.6l0.8 12.7l0.7 2.2l0.8 0.4l0.8 0.6l0.7-0.4l0.8-9.3l0.8-2.3l0.8-0.9l0.7 1.1l0.8 4.8l0.8 2.1l0.8-0.9l0.7-1l0.8-1.1l0.8-16.6l0.7 6.2l0.8 9.7l0.8 0l0.8 0.2l0.7-0.2l0.8-0.1l0.8 0l0.7-0.1l0.8-0.2l0.8-1l0.8-1.8l0.7-1.7l0.8-13.5l0.8 3.1l0.8 6.5l0.7-3l0.8-8l0.8-2.7l0.7-11.8l0.8 7.4l0.8 4.9l0.8-19.1l0.7 6.1l0.8 15.3l0.8 5l0.7 0.2l0.8-0.1l0.8-1.9l0.8-10.7l0.7-10.2l0.8-1.9l0.8-5.1l0.8-0.3l0.7-12.3l0.8 7.4l0.8 16.1l0.7 7.7l0.8-0.3l0.8 0.3l0.8-13.3l0.7 3.2l0.8 2.8l0.8 6.5l0.7-0.9l0.8-0.9l0.8-14.1l0.8 5.1l0.7 7.1l0.8-9.3l0.8-13.7l0.8 6.6l0.7 12.5l0.8 1.3l0.8 0l0.7 0l0.8-0.1l0.8 0.6l0.8 1.1l0.7 0.8l0.8-1.7l0 3.3z"/>
<path transform="translate(432.3 168.7)" d="M0 0l0-24l0.8 4.9l0.7-7.3l0.8 5.4l0.8 8.1l0.8-12.6l0.7 5.1l0.8 5.4l0.8-0.3l0.7-11.5l0.8 3.6l0.8 5.2l0.8-1.3l0.7-1.2l0.8-28.8l0.8 9.5l0.8 14.4l0.7-12.2l0.8 6.2l0.8-8.4l0.7-4l0.8 2.3l0.8 11.9l0.8 4.7l0.7-0.6l0.8-0.6l0.8-16l0.7-16.2l0.8 6.7l0.8 6.9l0.8-0.1l0.7 6.7l0.8 10l0.8 1.8l0.8-1.4l0.7-13.4l0.8-3.3l0.8 5l0.7 6.8l0.8-0.8l0.8-0.5l0.8-0.1l0.7-0.3l0.8-0.1l0.8 0l0.7 0l0.8-0.1l0.8-1l0.8-7.6l0.7 0.6l0.8 0.8l0.8-1.3l0.8-0.6l0.7 0.2l0.8 0.3l0.8-5l0.7-12.4l0.8 4.3l0.8 12l0.8-6.6l0.7-7.4l0.8 0.3l0.8-9.1l0.7-3.8l0.8 7.3l0.8 9.7l0.8-8.5l0.7-14.3l0.8-14l0.8-4.5l0.8 8.5l0.7 19.9l0.8 7.6l0.8 0.4l0.7-15.6l0.8 7.2l0.8 5.4l0.8-0.6l0.7-0.6l0.8-0.1l0.8 0.7l0.7 1.1l0.8-4l0.8 2.3l0.8 1.9l0.7-23.6l0.8 6.8l0.8 2.4l0.8-5.8l0.7-16.6l0.8 10.2l0.8 21.6l0.7 0.6l0.8-0.2l0.8 0.2l0.8 0.8l0.7 0.6l0.8 0.5l0 1.3z"/>
<path transform="translate(433.3 169)" d="M0 0l0-8.1l0.8-0.9l0.7-1l0.8-1l0.8-1.1l0.8-1l0.7-0.8l0.8-0.7l0.8-7.2l0.7 2.6l0.8 2.3l0.8-6.1l0.8 2.4l0.7 0.1l0.8-0.8l0.8-0.7l0.8-14.7l0.7 5.9l0.8-20l0.8 9.1l0.7-11.6l0.8 9.6l0.8 19.7l0.8-0.2l0.7-9.9l0.8 5.5l0.8 1.6l0.7-6.1l0.8-19.5l0.8 1l0.8-5l0.7 13.6l0.8 12.1l0.8 4.3l0.8-10.9l0.7 3.4l0.8 2.9l0.8-19l0.7 7.2l0.8-2.8l0.8 0.6l0.8 6.3l0.7 4.9l0.8-0.3l0.8-0.2l0.7-0.1l0.8-0.1l0.8-1l0.8-1.9l0.7-1.8l0.8-2.4l0.8-0.5l0.8-0.6l0.7 0l0.8 0.1l0.8 0l0.7-1l0.8-0.1l0.8-2.8l0.8-12.3l0.7-19.7l0.8 7.4l0.8 3.6l0.7 9.6l0.8 11.1l0.8-20.1l0.8-21.5l0.7 7.7l0.8-8.7l0.8-1.7l0.8 6.9l0.7 13.9l0.8 8.2l0.8 3.1l0.7-1.3l0.8-0.8l0.8-0.7l0.8-0.6l0.7-19.1l0.8 5.6l0.8 13.5l0.7 0.9l0.8 0.8l0.8 0.2l0.8-1.2l0.7-7.3l0.8-18.8l0.8 2.9l0.8-0.5l0.7 0.9l0.8 6.8l0.8-9.5l0.7 8.3l0.8 13.2l0.8 0.2l0.8 0.9l0.7-6.8l0.8 2.6l0 6.8z"/>
<path transform="translate(434.2 169.3)" d="M0 0l0-9.6l0.8-6l0.7 2.9l0.8 3.2l0.8-15l0.8 4.7l0.7 8.5l0.8-1.6l0.8-1.5l0.7-11.5l0.8-6.9l0.8 4.9l0.8-7.8l0.7 5.7l0.8 9.3l0.8-0.3l0.8-0.2l0.7-0.2l0.8-0.2l0.8-0.4l0.7-16.2l0.8-5.6l0.8 7.4l0.8 10.3l0.7-25.5l0.8 9.9l0.8 14.6l0.7-2.6l0.8-14.5l0.8-6.9l0.8 7.3l0.7 7.7l0.8 6.5l0.8-0.5l0.8-0.8l0.7-1l0.8-1.1l0.8-6.3l0.7 4l0.8 2.4l0.8 0.4l0.8 0.4l0.7-0.3l0.8-0.9l0.8-0.9l0.7-0.8l0.8-0.4l0.8-0.8l0.8-1.1l0.7-0.4l0.8-0.2l0.8-0.6l0.8-1l0.7-1.1l0.8-20.5l0.8 4.9l0.7 0.7l0.8 3.7l0.8 0.2l0.8-16l0.7-9.2l0.8-8.5l0.8 13.3l0.7 7.4l0.8 15.9l0.8-0.5l0.8-8.3l0.7-12l0.8-2.9l0.8-4.1l0.8 6.7l0.7 7.6l0.8-1.4l0.8-23.1l0.7 9.5l0.8 5.6l0.8 5.3l0.8 2l0.7-23.3l0.8 10l0.8 15.3l0.7-0.9l0.8-0.9l0.8-0.5l0.8-16l0.7 5.7l0.8-5.9l0.8-7.9l0.8 0l0.7 11.7l0.8 5.4l0.8 4.4l0.7 0l0.8-0.1l0.8-16.8l0.8 9.9l0.7 9.7l0.8 0.7l0 1.6z"/>
<path transform="translate(435.2 169.5)" d="M0 0l0-11.3l0.8-1.5l0.7 2l0.8 1.2l0.8 0.6l0.8-0.5l0.7-1.4l0.8-17.7l0.8 5.1l0.7 7.3l0.8-0.8l0.8-1.1l0.8-1.2l0.7-0.9l0.8-0.5l0.8-0.1l0.8-16.6l0.7-2.8l0.8 5.6l0.8 13.7l0.7 0.2l0.8 0.3l0.8-29.1l0.8 8.9l0.7 18.4l0.8-14.7l0.8 5.1l0.7 1.8l0.8-1.6l0.8-0.8l0.8-0.2l0.7 0l0.8-0.1l0.8-0.4l0.8-0.5l0.7-0.6l0.8-0.5l0.8-10.8l0.7 0.5l0.8 6l0.8 3.4l0.8 3l0.7 0.7l0.8-1l0.8-1.3l0.7-1l0.8-0.6l0.8-0.7l0.8-0.8l0.7 0.1l0.8-10.9l0.8 2.3l0.8 6.3l0.7-0.3l0.8-1.5l0.8-23l0.7 6.3l0.8 12.9l0.8-2.1l0.8-25.6l0.7 1l0.8 2.1l0.8 6.5l0.7 7.4l0.8 6.2l0.8-0.5l0.8-1.6l0.7-2.9l0.8-5l0.8-11.6l0.8-11l0.7 8.6l0.8 13.1l0.8-0.7l0.7-5.9l0.8-4.3l0.8-0.8l0.8 1l0.7 5.8l0.8-15.6l0.8 8.7l0.7 8.3l0.8-1.4l0.8-0.8l0.8-0.1l0.7-2.7l0.8-6.2l0.8-7.4l0.8-0.7l0.7 5.6l0.8 8.3l0.8 2l0.7 0.1l0.8 0l0.8 0.6l0.8 1.2l0.7 1l0.8 0.7l0 1.6z"/>
<path transform="translate(436.2 169.8)" d="M0 0l0-11.2l0.8-0.9l0.7-0.7l0.8-0.7l0.8-10.6l0.8 4.8l0.7 3.5l0.8-15.2l0.8 5.7l0.7 6.6l0.8-0.4l0.8-22.7l0.8 7.1l0.7 0.6l0.8 5.6l0.8 5.4l0.8-1.8l0.7-17.6l0.8 7.9l0.8 12.5l0.7 0.2l0.8 0.3l0.8-16.4l0.8 5.3l0.7 9.3l0.8-6.4l0.8 2.8l0.7-1.8l0.8-1.5l0.8-1.1l0.8-0.9l0.7-0.6l0.8-4l0.8 3l0.8-0.4l0.7-5l0.8 4.1l0.8 0.2l0.7 0.7l0.8 0.9l0.8 0.8l0.8 0.6l0.7-0.2l0.8-1l0.8-5.7l0.7 1.6l0.8 1.5l0.8-0.8l0.8-2.6l0.7 0.2l0.8-16.8l0.8-20.2l0.8 7.2l0.7-5.4l0.8 6.6l0.8 25.7l0.7-3.5l0.8-21.8l0.8 5.1l0.8-5.1l0.7 4.9l0.8 7.2l0.8-22.9l0.7 8.9l0.8 19.2l0.8-0.6l0.8-1.8l0.7-22.3l0.8 8.2l0.8-0.2l0.8 5l0.7 1.2l0.8 0.1l0.8-1.5l0.7-6l0.8-12.2l0.8-4.4l0.8 7.4l0.7 12.3l0.8 2.4l0.8-1.1l0.7-1.5l0.8-13.1l0.8 6l0.8 5l0.7 0.1l0.8-4.1l0.8-14.5l0.8 5.4l0.7 6l0.8-23l0.8 11.2l0.7 20.3l0.8-0.1l0.8 0.3l0.8 0.8l0.7 0.7l0.8 0.4l0 1.3z"/>
<path transform="translate(437.2 170.1)" d="M0 0l0-9.8l0.8-1.4l0.7-1.8l0.8-1.9l0.8-1.7l0.8-20l0.7 7.8l0.8 10.6l0.8-0.2l0.7-0.5l0.8-4.6l0.8 3.5l0.8 2.8l0.7 0.9l0.8-0.1l0.8-1.5l0.8-2.2l0.7-2.2l0.8-1.7l0.8-0.5l0.7 0.1l0.8 0.2l0.8-9.1l0.8 4.1l0.7-16.4l0.8 6.8l0.8 12.1l0.7-0.7l0.8-0.8l0.8-1l0.8-1l0.7-0.8l0.8-0.7l0.8-0.5l0.8-0.5l0.7-0.4l0.8-0.5l0.8 0l0.7 0.5l0.8 0.5l0.8-3l0.8 3.3l0.7 0.4l0.8-0.9l0.8-5l0.7 1.5l0.8 1l0.8-1l0.8-1.8l0.7-1.6l0.8-1.5l0.8-14.8l0.8 4.3l0.7-2.5l0.8-7.4l0.8 5.9l0.7 13.3l0.8-16.9l0.8 4l0.8 9.4l0.7-21.2l0.8 5.5l0.8 13l0.7-0.9l0.8-6.5l0.8 3.4l0.8-0.5l0.7-2.8l0.8-20.2l0.8 5l0.8 6.2l0.7 3.7l0.8 0.8l0.8-1.1l0.7-5.6l0.8-5.7l0.8-5.9l0.8 1.5l0.7 9l0.8 5l0.8-5.2l0.7-1l0.8 0l0.8-4l0.8 3.6l0.7 3l0.8 0.5l0.8-4.4l0.8 2.5l0.7-10.6l0.8 5l0.8 9.1l0.7 0.5l0.8-0.2l0.8 0l0.8 0.4l0.7 0.4l0.8 0.3l0 1.1z"/>
<path transform="translate(438.1 170.4)" d="M0 0l0-8.6l0.8-1.1l0.7-8l0.8 2.8l0.8-12.3l0.8-1.5l0.7 5.3l0.8 9.4l0.8 0.1l0.7-0.2l0.8-0.5l0.8-0.4l0.8-0.4l0.7-0.6l0.8-0.8l0.8-1.7l0.8-11.7l0.7 3.2l0.8 1.2l0.8-1.1l0.7-0.3l0.8 0.2l0.8 0.1l0.8-0.1l0.7-0.2l0.8 0.4l0.8 0.6l0.7 0.3l0.8-0.1l0.8-0.8l0.8-1l0.7-14.5l0.8 5.5l0.8 1.6l0.8 3.2l0.7-9.3l0.8 1.4l0.8 4.5l0.7 4.7l0.8-4.3l0.8 2.9l0.8 0.7l0.7-3.9l0.8 1.8l0.8-3.7l0.7 2.1l0.8 1.2l0.8-2.8l0.8-0.4l0.7-2.2l0.8-2.1l0.8-1.7l0.8-1.2l0.7-0.5l0.8-0.1l0.8-0.1l0.7-7.6l0.8 3.5l0.8 0.9l0.8-1.3l0.7-1l0.8-0.6l0.8-0.2l0.7-0.2l0.8-0.3l0.8-0.7l0.8-19l0.7 5.6l0.8 4.7l0.8 1.7l0.8-0.5l0.7 0.5l0.8 0.9l0.8 0.6l0.7-4.8l0.8-9.4l0.8-0.5l0.8 4.5l0.7 5.1l0.8-0.1l0.8 0.1l0.7-3.4l0.8-7.1l0.8-15.3l0.8 5.8l0.7 16l0.8 4l0.8-0.7l0.8-0.3l0.7-1.7l0.8 1.2l0.8-4.7l0.7 2.3l0.8-8.5l0.8 4.4l0.8 6.6l0.7 0.5l0.8-0.1l0 1.9z"/>
<path transform="translate(439.1 170.6)" d="M0 0l0-7.6l0.8-0.8l0.7-4.9l0.8 1.9l0.8 1.2l0.8-0.6l0.7 0.2l0.8 0.5l0.8 0.4l0.7-0.1l0.8-0.8l0.8-1.5l0.8-1.8l0.7-1.9l0.8-6l0.8-2.4l0.8 2.6l0.7-2.7l0.8-2.4l0.8-1.5l0.7-0.5l0.8 0l0.8 0.2l0.8 0l0.7-6.3l0.8 4.1l0.8 5.7l0.7 1.1l0.8 0.2l0.8-0.9l0.8-1.3l0.7-1.3l0.8-1l0.8-0.4l0.8 0.2l0.7 0.3l0.8-1.7l0.8 1.6l0.7-5.8l0.8 2.9l0.8-2l0.8 1.7l0.7-0.4l0.8-0.2l0.8-0.1l0.7-0.2l0.8-0.4l0.8-1.3l0.8-2l0.7-2.6l0.8-2.8l0.8-2.2l0.8-1.8l0.7-1.5l0.8-1.2l0.8-0.8l0.7-0.8l0.8-6.7l0.8 4l0.8-1.4l0.7-1.1l0.8-0.2l0.8 0.7l0.7 0.9l0.8 0.5l0.8-0.5l0.8-9.3l0.7 3.9l0.8 3.2l0.8-0.8l0.8-0.4l0.7 0.6l0.8 1l0.8-6.5l0.7 3.4l0.8-6.3l0.8 3.5l0.8-0.2l0.7-1.5l0.8 0l0.8-1.6l0.7-5.1l0.8-2.7l0.8-8.4l0.8 2.5l0.7 7.8l0.8 8l0.8 1.8l0.8-12.9l0.7 3.7l0.8 2.9l0.8 2.5l0.7-0.8l0.8-0.5l0.8 0l0.8-3l0.7 3.1l0.8 1.8l0 1.6z"/>
<path transform="translate(440.1 170.9)" d="M0 0l0-6.5l0.8-0.8l0.7-0.8l0.8-0.9l0.8-8l0.8 2.7l0.7 4.1l0.8 0.4l0.8 0.4l0.7 0l0.8-0.8l0.8-1.4l0.8-1.6l0.7-1.7l0.8-1.3l0.8-1.6l0.8-2.3l0.7-2.4l0.8-5l0.8 0.4l0.7-0.5l0.8-0.7l0.8 1.2l0.8-0.2l0.7 0.3l0.8 1.1l0.8-5l0.7 2.7l0.8 2.8l0.8 0.9l0.8-1.2l0.7-1.1l0.8-0.9l0.8-0.5l0.8-0.1l0.7 0l0.8-0.1l0.8-0.1l0.7-0.6l0.8-0.9l0.8-0.7l0.8-0.3l0.7-0.4l0.8-0.3l0.8-0.3l0.7-2.1l0.8 0.4l0.8-4.6l0.8-1.5l0.7 0.2l0.8-0.6l0.8-1.9l0.8-1.7l0.7-3.9l0.8 0.7l0.8-1l0.7-2l0.8 0.1l0.8-1.2l0.8-1.1l0.7-1l0.8-0.4l0.8-0.3l0.7 1.1l0.8 0.2l0.8-0.5l0.8-0.9l0.7-6.7l0.8-1.6l0.8 3.8l0.8 2.6l0.7 0.1l0.8 0.3l0.8 0.1l0.7-0.3l0.8-1.3l0.8-5.2l0.8 1.5l0.7-1.2l0.8-0.1l0.8 0.6l0.7 0.1l0.8-7.9l0.8-2.1l0.8-0.4l0.7 4.3l0.8-0.4l0.8-0.6l0.8 3l0.7 0.8l0.8 0.7l0.8-0.8l0.7-0.6l0.8-8l0.8 3.6l0.8 4.8l0.7 0.7l0.8 0.6l0 1.4z"/>
<path transform="translate(441 171.2)" d="M0 0l0-4.5l0.8-6.5l0.7 1.6l0.8-5.6l0.8 2.2l0.8 2.1l0.7 0.1l0.8 0.5l0.8 0.4l0.7 0l0.8-0.7l0.8-0.9l0.8-2.8l0.7 0.8l0.8-0.7l0.8-1.3l0.8-2l0.7-2l0.8-1.7l0.8-5.5l0.7 3.1l0.8-0.3l0.8-2.8l0.8 1.4l0.7-0.2l0.8 0.2l0.8 0.5l0.7-1l0.8 1l0.8-4.3l0.8 1.7l0.7-3.9l0.8 1.9l0.8 0.8l0.8-3l0.7-3l0.8 2.8l0.8 0.4l0.7 0l0.8 0.2l0.8 0.2l0.8 0.2l0.7-0.4l0.8-0.6l0.8-0.7l0.7-0.6l0.8-0.6l0.8-0.9l0.8-1.4l0.7-5.6l0.8 0.7l0.8 1.4l0.8-1.6l0.7-1.8l0.8-2l0.8-1.5l0.7-0.9l0.8-0.7l0.8-0.6l0.8-0.7l0.7-0.8l0.8-0.8l0.8-0.6l0.7-3.6l0.8 2.5l0.8-3.5l0.8 2.4l0.7-0.3l0.8-0.7l0.8 0.1l0.8-5.1l0.7 3l0.8-0.6l0.8-1l0.7-0.7l0.8-0.5l0.8-0.5l0.8-0.4l0.7-0.4l0.8-0.5l0.8-0.6l0.7-0.7l0.8-7.4l0.8 3.7l0.8 2.2l0.7-0.4l0.8-0.4l0.8-0.5l0.8-5.1l0.7 2.2l0.8 1.7l0.8-4.5l0.7 3.1l0.8 1.4l0.8 0.5l0.8 1.2l0.7 0.8l0.8 0l0 1.7z"/>
<path transform="translate(442 171.5)" d="M0 0l0-4.4l0.8-1l0.7-4.9l0.8 1.2l0.8-0.8l0.8-0.9l0.7-0.1l0.8 0.4l0.8 0.4l0.7 0l0.8-0.7l0.8-3.6l0.8 1.2l0.7 0l0.8-2.4l0.8 0.6l0.8-1.4l0.7-1.5l0.8-1.1l0.8-4.5l0.7 2l0.8 0.4l0.8-7.1l0.8 3.5l0.7 1.5l0.8-1.1l0.8 0.4l0.7-0.3l0.8-0.5l0.8-0.7l0.8-0.8l0.7-0.8l0.8-0.7l0.8-0.6l0.8-0.9l0.7-1.1l0.8-1.1l0.8-0.5l0.7 0.1l0.8 0.4l0.8 0.5l0.8 0.3l0.7-0.4l0.8-0.7l0.8-0.7l0.7-0.6l0.8-0.5l0.8-0.8l0.8-1.2l0.7-2.7l0.8 0.3l0.8-0.2l0.8-1.2l0.7-1.6l0.8-1.7l0.8-1.4l0.7-1l0.8-0.7l0.8-0.6l0.8-0.6l0.7-0.9l0.8-1l0.8-1l0.7-0.9l0.8-0.8l0.8-0.7l0.8-0.5l0.7-0.3l0.8-0.3l0.8-0.3l0.8-0.6l0.7-1l0.8-1.2l0.8-1.1l0.7-0.7l0.8-0.3l0.8-0.2l0.8-0.3l0.7-0.4l0.8-4.5l0.8-2.6l0.7 3.6l0.8-1.3l0.8-1.1l0.8-0.6l0.7-0.5l0.8-0.4l0.8-0.4l0.8-0.4l0.7-0.1l0.8 0.2l0.8 0.4l0.7 0.3l0.8 0.1l0.8 0.7l0.8 1.3l0.7 0.8l0.8 0.5l0 1.2z"/>
<path transform="translate(443 171.7)" d="M0 0l0-7.3l0.8-0.8l0.7-0.8l0.8-1.8l0.8 0.2l0.8-0.9l0.7-0.2l0.8 0.1l0.8 0.2l0.7-4.8l0.8 1.4l0.8-2.5l0.8 1.4l0.7-1l0.8-0.8l0.8-0.2l0.8 0.2l0.7-7.2l0.8 2.7l0.8 4.1l0.7-9.1l0.8 2.9l0.8 5l0.8-0.5l0.7-1l0.8-6.1l0.8 2.3l0.7-1.2l0.8-0.9l0.8-0.6l0.8 0.6l0.7 0.2l0.8 0l0.8-0.6l0.8-0.9l0.7-1l0.8-1l0.8-0.5l0.7-0.1l0.8-0.1l0.8 0l0.8 0.1l0.7-0.4l0.8-0.4l0.8-0.3l0.7-0.3l0.8-0.3l0.8-0.8l0.8-1.4l0.7-1.4l0.8-1.3l0.8-0.9l0.8-1l0.7-1l0.8-1.1l0.8-1l0.7-1.7l0.8 0.4l0.8-0.3l0.8-3.5l0.7 1.3l0.8 0l0.8-1.4l0.7-1.4l0.8-1.3l0.8-0.8l0.8-0.9l0.7-1.1l0.8-1l0.8-0.7l0.8-0.5l0.7-0.9l0.8-1l0.8-1l0.7-0.6l0.8-0.2l0.8-0.1l0.8 0l0.7-0.4l0.8-0.8l0.8-1.4l0.7-2.8l0.8-0.7l0.8-1.3l0.8-0.6l0.7 0l0.8 0.1l0.8 0.1l0.8-0.3l0.7-0.1l0.8 0.3l0.8 0.5l0.7 0.3l0.8-0.1l0.8 0.2l0.8 0.9l0.7 0.4l0.8 0.8l0 1.5z"/>
<path transform="translate(444 172)" d="M0 0l0-8.6l0.8-0.8l0.7-0.4l0.8-0.4l0.8-0.6l0.8-1l0.7-0.4l0.8 0l0.8 0l0.7-0.4l0.8-1l0.8-1.9l0.8-2.1l0.7-1.8l0.8-1l0.8 0.3l0.8 1l0.7 1.1l0.8 0.4l0.8-0.3l0.7-0.2l0.8-0.1l0.8-0.2l0.8-0.4l0.7-1.3l0.8-2.5l0.8-2.8l0.7-2.4l0.8-1l0.8 0.2l0.8 0.9l0.7 1l0.8 0.3l0.8-1.1l0.8-0.2l0.7-0.9l0.8-0.8l0.8-0.4l0.7-0.2l0.8-0.2l0.8-1.1l0.8 0.9l0.7-0.3l0.8-0.2l0.8-0.1l0.7-0.1l0.8-0.3l0.8-0.9l0.8-1.4l0.7-1.7l0.8-1.6l0.8-3.3l0.8 1.2l0.7-0.6l0.8-3.9l0.8 1.8l0.7-0.2l0.8-0.4l0.8-0.2l0.8-0.2l0.7-0.6l0.8-1.2l0.8-1.7l0.7-1.9l0.8-1.5l0.8-1l0.8-1.1l0.7-1.5l0.8-1.3l0.8-0.8l0.8-0.4l0.7-1.3l0.8-0.3l0.8-0.8l0.7-0.5l0.8-0.1l0.8 0.1l0.8 0.1l0.7-0.2l0.8-0.8l0.8-1.5l0.7-1.7l0.8-1.7l0.8-1.3l0.8-0.4l0.7 0.1l0.8 0.4l0.8 0.2l0.8-0.2l0.7-0.2l0.8 0.2l0.8 0.4l0.7 0.2l0.8-0.2l0.8-0.1l0.8 0.5l0.7 0.1l0.8 1.1l0 1.5z"/>
<path transform="translate(444.9 172.3)" d="M0 0l0-7.1l0.8-0.9l0.7-1l0.8-1.1l0.8-3.6l0.8 1.3l0.7-0.6l0.8-0.3l0.8-0.1l0.7-0.4l0.8-1.1l0.8-1.8l0.8-1.9l0.7-1.7l0.8-1l0.8 0.3l0.8 1l0.7-3.8l0.8 2.4l0.8 2.7l0.7-0.5l0.8-0.4l0.8-0.5l0.8-0.6l0.7-1.1l0.8-1.9l0.8-2.2l0.7-1.8l0.8-0.9l0.8 0l0.8 0.5l0.7-3.2l0.8 2l0.8-5.7l0.8 2.8l0.7 3l0.8-0.6l0.8-0.2l0.7 0.1l0.8-0.1l0.8-3.7l0.8 2.4l0.7 1l0.8-0.5l0.8-0.5l0.7-0.4l0.8-0.5l0.8-0.8l0.8-2.2l0.7-0.4l0.8-1.3l0.8-4.8l0.8 1l0.7-2.1l0.8 1.1l0.8-5.6l0.7 2.3l0.8 2.8l0.8-0.4l0.8-0.5l0.7-0.7l0.8-1.6l0.8-2.5l0.7-2.7l0.8-2.3l0.8-1l0.8-0.7l0.7-0.6l0.8-0.5l0.8-0.3l0.8-0.9l0.7 0.6l0.8-3.3l0.8 2l0.7-4.7l0.8 2.5l0.8-5.1l0.8 3.4l0.7 5.1l0.8-0.7l0.8-10.6l0.7 3.4l0.8 4.1l0.8-0.8l0.8-9l0.7 2.8l0.8 1l0.8 2.3l0.8 0.2l0.7-0.2l0.8 0.1l0.8 0.3l0.7 0l0.8-0.3l0.8-0.3l0.8 0.2l0.7-0.9l0.8 1.3l0 1.3z"/>
<path transform="translate(445.9 172.6)" d="M0 0l0-6.1l0.8-3.1l0.7-1.8l0.8 0.9l0.8-1.7l0.8-1.5l0.7-0.8l0.8-0.3l0.8-0.3l0.7-0.5l0.8-1.1l0.8-1.5l0.8-4.3l0.7 1l0.8-0.9l0.8 0.2l0.8 1.1l0.7 1.2l0.8-2.4l0.8-1l0.7 2l0.8-0.1l0.8-0.9l0.8-0.8l0.7-2.2l0.8 0.3l0.8-1.2l0.7-1.1l0.8-0.7l0.8-0.3l0.8-0.1l0.7 0l0.8-0.2l0.8-0.5l0.8-0.5l0.7-0.5l0.8-0.5l0.8 0.1l0.7 0.2l0.8-3.7l0.8 2.4l0.8 1.6l0.7-0.4l0.8-0.8l0.8-0.8l0.7-0.8l0.8-0.6l0.8-0.8l0.8-1.2l0.7-1l0.8-5.9l0.8 0.9l0.8-3.6l0.7 1.3l0.8 3.6l0.8-0.6l0.7-0.8l0.8-0.8l0.8-0.7l0.8-4.8l0.7 1.8l0.8-0.6l0.8-7.4l0.7 0.5l0.8-3.1l0.8-1.2l0.8-0.2l0.7 0.3l0.8 0.4l0.8 0.3l0.8 0.2l0.7 0.2l0.8-3.6l0.8 1.9l0.7 1.7l0.8-7.5l0.8 3l0.8 6l0.7-12.2l0.8 3.6l0.8 3.8l0.7 3.4l0.8-0.6l0.8-0.6l0.8-0.8l0.7-2.6l0.8 0.2l0.8-5.9l0.8-0.8l0.7 1.3l0.8 1.8l0.8 1.9l0.7-9.4l0.8 3.3l0.8 2.8l0.8 2.4l0.7-1.7l0.8 1.3l0 1.3z"/>
<path transform="translate(446.9 172.8)" d="M0 0l0-6.6l0.8-0.9l0.7-1l0.8-1.1l0.8-1.3l0.8-1.2l0.7-1l0.8-0.8l0.8-0.7l0.7-0.8l0.8-3l0.8 0.6l0.8-1.5l0.7-1.3l0.8-0.9l0.8 0.1l0.8 0.9l0.7 0.9l0.8 0.4l0.8-0.5l0.7-4.9l0.8 2.4l0.8-4.3l0.8 2.2l0.7 0l0.8-0.8l0.8-0.9l0.7-0.8l0.8-0.9l0.8-4.5l0.8 0l0.7 2.6l0.8 1.3l0.8-0.5l0.8-0.7l0.7-0.8l0.8-0.6l0.8-0.1l0.7 0.5l0.8 0.5l0.8-0.4l0.8 1l0.7-0.4l0.8-1.4l0.8-0.1l0.7-0.7l0.8-0.6l0.8-0.8l0.8-1.3l0.7-1.2l0.8-1.2l0.8-1l0.8-0.8l0.7-1.7l0.8 0.6l0.8-0.5l0.7-0.8l0.8-0.7l0.8-0.7l0.8-3.4l0.7 1.6l0.8-1.3l0.8-2.7l0.7-3.1l0.8-2.6l0.8-1.1l0.8-0.4l0.7-0.1l0.8 0l0.8 0l0.8 0.1l0.7 0.3l0.8 0.2l0.8 0.1l0.7-0.2l0.8 0l0.8 0.2l0.8 0.2l0.7-5.7l0.8 1.5l0.8-5.9l0.7 2.1l0.8 5.3l0.8-6.1l0.8 2.1l0.7-6.8l0.8 3.2l0.8 0.6l0.8 1.9l0.7 0.4l0.8-6.8l0.8 2.9l0.7-0.2l0.8 1.9l0.8 1.2l0.8 0.1l0.7 0.1l0.8 0l0 0.9z"/>
<path transform="translate(447.8 173.1)" d="M0 0l0-7.9l0.8-0.6l0.7-0.3l0.8-2.1l0.8 0.8l0.8 0l0.7-2.4l0.8-0.2l0.8-1.7l0.7-0.8l0.8-0.9l0.8-1.1l0.8-1.1l0.7-1.1l0.8-0.8l0.8-0.1l0.8 0.3l0.7-0.1l0.8 0.7l0.8-0.6l0.7-1.1l0.8-2.7l0.8 0.2l0.8-1l0.7-0.5l0.8-0.5l0.8-0.3l0.7-0.4l0.8-3.2l0.8 2.3l0.8-0.3l0.7-0.2l0.8-0.3l0.8-0.6l0.8-1.1l0.7-1.1l0.8-1.1l0.8-1.3l0.7 1.7l0.8 1.1l0.8 0.8l0.8 0.5l0.7-0.4l0.8-0.6l0.8-0.6l0.7-0.6l0.8-0.5l0.8-0.9l0.8-1.6l0.7-1.7l0.8-1.8l0.8-1.3l0.8-0.8l0.7-3.8l0.8 1.3l0.8 1.1l0.7-0.6l0.8-0.5l0.8-4.5l0.8 2l0.7 1l0.8-1.2l0.8-1.7l0.7-2l0.8-1.7l0.8-0.9l0.8-0.8l0.7-3.3l0.8 1.9l0.8-0.5l0.8-0.1l0.7 0.2l0.8-0.8l0.8 1.3l0.7-0.2l0.8-0.5l0.8-0.6l0.8-0.5l0.7-0.6l0.8-0.6l0.8-0.9l0.7-0.9l0.8-1l0.8-0.7l0.8-0.4l0.7-7.3l0.8 3.3l0.8-1.6l0.8-1.3l0.7 2.5l0.8 2.2l0.8-3.8l0.7 1.9l0.8 0.6l0.8 0l0.8 0.4l0.7 0.3l0.8 0.1l0 0.9z"/>
<path transform="translate(448.8 173.4)" d="M0 0l0-7.8l0.8-0.6l0.7-0.1l0.8 0l0.8-0.2l0.8-5.5l0.7 1.8l0.8 0.6l0.8-2.1l0.7-0.2l0.8-0.8l0.8-0.8l0.8-0.9l0.7-0.9l0.8-0.7l0.8-0.4l0.8 0l0.7 0l0.8-0.2l0.8-0.7l0.7-0.9l0.8-1.1l0.8-1l0.8-0.9l0.7-0.6l0.8-0.7l0.8 0.1l0.7-0.4l0.8-0.5l0.8-1.5l0.8 0.6l0.7-0.3l0.8-0.9l0.8-1.3l0.8 0.1l0.7-1.2l0.8-1.1l0.8-0.4l0.7 0.5l0.8 0.8l0.8 0.8l0.8 0.3l0.7-0.3l0.8-0.6l0.8-0.6l0.7-0.6l0.8-0.6l0.8-0.9l0.8-1.5l0.7-1.7l0.8-1.8l0.8-1.3l0.8-1.1l0.7-1.5l0.8-0.1l0.8-0.5l0.7-0.6l0.8-0.3l0.8-0.2l0.8-0.2l0.7-0.4l0.8-1.8l0.8-0.4l0.7-1.5l0.8-1.3l0.8-1.3l0.8-0.2l0.7-0.7l0.8-0.6l0.8-1.8l0.8-0.5l0.7 1.1l0.8-0.1l0.8-0.2l0.7-0.5l0.8-0.5l0.8-0.4l0.8-0.4l0.7-0.4l0.8-0.6l0.8-0.8l0.7-0.9l0.8-4.3l0.8 1.6l0.8 0.7l0.7-0.2l0.8-0.1l0.8-3.5l0.8 2.1l0.7-0.2l0.8-0.7l0.8-0.5l0.7-0.9l0.8-0.1l0.8-0.1l0.8 0.4l0.7 0.2l0.8 0.2l0 0.9z"/>
<path transform="translate(449.8 173.7)" d="M0 0l0-6.5l0.8-0.6l0.7-0.4l0.8-0.3l0.8-0.4l0.8-0.8l0.7-1l0.8-2.5l0.8 0.2l0.7-1.1l0.8-0.5l0.8-0.5l0.8-0.4l0.7-0.4l0.8-0.7l0.8-0.8l0.8-0.8l0.7-0.9l0.8-0.8l0.8-0.7l0.7-0.6l0.8-0.5l0.8-0.5l0.8-0.6l0.7-0.6l0.8-0.3l0.8-0.4l0.7-0.3l0.8-0.5l0.8-0.7l0.8-0.7l0.7-1l0.8-0.4l0.8-0.6l0.8-0.7l0.7-0.8l0.8-0.8l0.8-0.4l0.7 0.2l0.8 0.6l0.8 0.3l0.8 0.5l0.7-1l0.8-0.7l0.8-0.2l0.7-0.7l0.8-1.1l0.8-0.3l0.8-1.2l0.7-1.1l0.8-1.1l0.8-1l0.8-1.4l0.7-1.8l0.8-2l0.8-1.4l0.7-0.6l0.8-0.3l0.8 0l0.8-0.1l0.7-0.3l0.8-0.8l0.8-1l0.7-1.2l0.8-1l0.8-0.8l0.8-0.2l0.7-0.1l0.8 0l0.8-0.3l0.8-0.6l0.7-1l0.8-1.1l0.8-1l0.7-0.8l0.8-0.1l0.8 0.4l0.8 0.5l0.7 0.2l0.8-0.5l0.8-0.7l0.7-0.7l0.8-0.6l0.8-0.7l0.8-0.6l0.7-2.3l0.8 0.8l0.8-0.7l0.8-0.7l0.7-0.6l0.8-0.6l0.8-0.4l0.7-0.5l0.8-0.5l0.8-0.4l0.8 0.1l0.7 0.1l0.8 0.2l0 1z"/>
<path transform="translate(450.8 173.9)" d="M0 0l0-5.6l0.8-0.7l0.7-0.5l0.8-0.5l0.8-0.5l0.8-0.6l0.7-0.9l0.8-1.1l0.8-1l0.7-0.9l0.8-0.6l0.8-0.3l0.8-0.4l0.7-0.4l0.8-0.6l0.8-0.9l0.8-1.1l0.7-1.2l0.8-1l0.8-0.7l0.7-0.5l0.8-0.3l0.8-0.4l0.8-0.4l0.7-0.5l0.8-0.4l0.8-0.2l0.7-0.4l0.8-3.3l0.8 1.6l0.8-0.8l0.7-0.1l0.8-0.7l0.8-0.6l0.8-0.6l0.7-0.7l0.8-0.7l0.8-0.4l0.7 0l0.8 0.3l0.8 0.3l0.8 0l0.7-0.5l0.8-0.7l0.8-0.7l0.7-0.7l0.8-0.6l0.8-0.8l0.8-1.1l0.7-0.6l0.8-0.8l0.8-0.8l0.8-1.2l0.7-1.7l0.8-1.9l0.8-1.4l0.7-0.7l0.8-0.4l0.8-0.3l0.8-0.3l0.7-0.5l0.8-0.8l0.8-1l0.7-1.1l0.8-1.1l0.8-0.7l0.8-0.2l0.7 0.1l0.8 0.1l0.8-0.2l0.8-0.7l0.7-1.2l0.8-1.3l0.8-1.3l0.7-0.8l0.8-2.4l0.8 1.1l0.8 1.1l0.7 1.4l0.8-0.5l0.8-0.6l0.7-0.9l0.8-0.4l0.8-0.7l0.8-0.7l0.7-0.8l0.8-1l0.8-0.8l0.8-0.7l0.7-0.6l0.8-0.5l0.8-0.4l0.7-0.4l0.8-0.5l0.8-0.4l0.8-0.9l0.7 0.7l0.8 0l0 0.9z"/>
<path transform="translate(451.7 174.2)" d="M0 0l0-4l0.8-0.9l0.7-0.9l0.8-0.9l0.8-0.8l0.8-0.7l0.7-0.7l0.8-0.8l0.8-0.8l0.7-0.7l0.8-0.6l0.8-0.6l0.8-0.5l0.7-0.6l0.8-0.7l0.8-0.9l0.8-0.9l0.7-0.9l0.8-0.9l0.8-0.7l0.7-0.2l0.8 0.1l0.8 0l0.8-0.4l0.7-1.1l0.8 0.1l0.8-0.4l0.7-0.5l0.8-0.5l0.8-0.8l0.8-0.9l0.7-1l0.8-0.8l0.8-0.6l0.8-0.6l0.7-0.7l0.8-0.7l0.8-0.5l0.7-0.2l0.8-0.2l0.8-0.1l0.8-0.1l0.7-0.5l0.8-0.6l0.8-0.6l0.7-0.5l0.8-0.5l0.8-0.8l0.8-0.8l0.7-0.8l0.8-0.8l0.8-0.6l0.8-1.8l0.7 0.1l0.8-0.9l0.8-0.9l0.7-0.7l0.8-0.5l0.8-0.5l0.8-1.2l0.7 0.1l0.8-1.6l0.8-0.4l0.7-1.2l0.8-1.1l0.8-0.8l0.8-0.3l0.7-1.7l0.8-1.2l0.8 0.8l0.8 1l0.7-3.7l0.8 1l0.8-0.8l0.7-0.8l0.8-0.2l0.8 0l0.8 0.1l0.7-0.9l0.8 0.1l0.8-0.7l0.7-0.9l0.8-0.5l0.8-0.6l0.8-0.7l0.7-0.7l0.8-0.8l0.8-0.7l0.8-0.7l0.7-1.6l0.8 0.3l0.8-0.5l0.7-0.5l0.8-0.4l0.8-0.3l0.8 0l0.7-0.1l0.8-0.2l0 0.5z"/>
<path transform="translate(452.7 174.5)" d="M0 0l0-2.6l0.8-0.8l0.7-2.1l0.8-0.2l0.8-1l0.8-0.7l0.7-0.6l0.8-0.6l0.8-0.7l0.7-0.6l0.8-0.6l0.8-0.7l0.8-0.6l0.7-0.8l0.8-0.7l0.8-0.8l0.8-0.7l0.7-0.8l0.8-0.7l0.8-0.7l0.7-0.1l0.8 0.1l0.8 0.1l0.8-0.5l0.7-0.4l0.8-0.6l0.8-0.6l0.7-0.6l0.8-1.1l0.8-0.3l0.8-1l0.7-1l0.8-0.9l0.8-0.6l0.8-0.6l0.7-0.7l0.8-0.7l0.8-0.5l0.7-0.4l0.8-0.4l0.8-0.3l0.8-0.3l0.7-0.5l0.8-0.6l0.8-0.5l0.7-0.5l0.8-0.5l0.8-0.7l0.8-0.8l0.7-0.7l0.8-0.6l0.8-0.9l0.8-1.1l0.7-0.1l0.8-0.6l0.8-0.5l0.7-0.7l0.8-0.6l0.8-0.5l0.8-0.5l0.7-0.7l0.8-0.8l0.8-1.1l0.7-1.1l0.8-1.1l0.8-0.7l0.8-2.1l0.7-0.4l0.8 0.3l0.8-2l0.8 0.4l0.7 0.4l0.8-2.1l0.8-0.5l0.7 0.1l0.8-0.3l0.8-0.3l0.8-0.2l0.7-0.4l0.8-0.6l0.8-0.7l0.7-0.7l0.8-0.7l0.8-0.7l0.8-0.6l0.7-0.7l0.8-0.7l0.8-0.6l0.8-2l0.7 0.2l0.8-0.3l0.8-0.6l0.7-0.6l0.8-0.4l0.8-0.2l0.8-0.1l0.7-0.3l0.8-0.3l0 0.3z"/></g>
<path d="M323.5 137.7L323.5 77M323.5 137.5h-2.2M323.5 122.5h-2.2M323.5 107.5h-2.2M323.5 92.5h-2.2M323.5 76.5h-2.2M452.7 174.5l-2 1.7M425.6 166.8l-2 1.7M398.5 159.1l-2 1.7M371.4 151.4l-2 1.7M344.2 143.7l-2 1.7M452.7 174.5l2.5 0.7M471.4 158.9l2.5 0.7M490.1 143.4l2.5 0.7M508.9 127.8l2.5 0.7M527.6 112.3l2.5 0.7M323.1 137.7L452.7 174.5L527.6 112.3" fill="none" stroke="#3a3a3a" stroke-width="0.6"/>
</g>
<g filter="url(#bt)">
<g class="tk"><text x="318.5" y="139.7" text-anchor="end">0</text><text x="318.5" y="124.5" text-anchor="end">2</text><text x="318.5" y="109.3" text-anchor="end">4</text><text x="318.5" y="94.2" text-anchor="end">6</text><text x="318.5" y="79" text-anchor="end">8</text><text x="445.9" y="185.6" text-anchor="middle">0</text><text x="418.8" y="177.9" text-anchor="middle">5</text><text x="391.7" y="170.2" text-anchor="middle">10</text><text x="364.6" y="162.5" text-anchor="middle">15</text><text x="337.4" y="154.8" text-anchor="middle">20</text><text x="457.1" y="182.7">0</text><text x="475.8" y="167.2">500</text><text x="494.5" y="151.6">1000</text><text x="513.3" y="136.1">1500</text><text x="532" y="120.5">2000</text></g>
<text class="ti" transform="translate(302.7 103.9) rotate(-90)" y="2.5" text-anchor="middle" textLength="51" lengthAdjust="spacing">Amplitude</text>
<text class="ti" transform="translate(382.2 177) rotate(15.9)" y="2.5" text-anchor="middle" textLength="76.2" lengthAdjust="spacing">Frequency(kHz)</text>
<text class="ti" transform="translate(515.5 156.4) rotate(-41.2)" y="2.5" text-anchor="middle" textLength="41.7" lengthAdjust="spacing">Sampling</text>
<text class="ti" transform="translate(524.4 166.1) rotate(-41.2)" y="2.5" text-anchor="middle" textLength="48.9" lengthAdjust="spacing">number(n)</text>
<text class="cap" x="430.8" y="219.5" text-anchor="middle">(<tspan font-weight="bold">b</tspan>)</text>
</g>
<!-- plot c -->
<g filter="url(#bl)">
<path d="M38.2 363.4L38.2 303.9M56.2 348.2L56.2 288.7M74.3 332.9L74.3 273.4M92.3 317.7L92.3 258.2M110.4 302.5L110.4 243M38.2 363.4L110.4 302.5L236.6 338M38.2 348.5L110.4 287.6L236.6 323.1M38.2 333.6L110.4 272.8L236.6 308.2M38.2 318.8L110.4 257.9L236.6 293.4M38.2 303.9L110.4 243L236.6 278.5M131 308.3L131 248.8M157.4 315.7L157.4 256.2M183.8 323.1L183.8 263.6M210.2 330.6L210.2 271.1M236.6 338L236.6 278.5" fill="none" stroke="#dedede" stroke-width="0.6"/>
<path d="M110.2 303.6v-6" stroke="#3f8fff" stroke-width="1"/><path d="M111.2 303.6v-8" stroke="#5aa8ff" stroke-width="1"/><path d="M112.3 304v-4" stroke="#3f8fff" stroke-width="1"/><path d="M116 305.2v-2" stroke="#3f6fff" stroke-width="1"/>
<polygon points="164.4,398.9 38.2,363.4 110.4,302.5 236.6,338" fill="#030398"/>
<g fill="url(#gc)"><path transform="translate(117.2 385.6)" d="M0 0l0-1.6l0.8-3.4l0.7 1.8l0.8-0.3l0.8-3.6l0.7-0.9l0.8-0.1l0.8 0.5l0.7-0.8l0.8-0.3l0.8-0.1l0.7-0.2l0.8-1.3l0.8-0.3l0.8-3l0.7 1.3l0.8-0.8l0.8-1.1l0.7-1.1l0.8-0.8l0.8-4l0.7 3.1l0.8-0.1l0.8-0.6l0.7-0.3l0.8-3.7l0.8 2.6l0.7-0.1l0.8-0.8l0.8-0.9l0.7-0.7l0.8-0.6l0.8-0.7l0.7-0.7l0.8-0.6l0.8-0.8l0.8-0.9l0.7-7.1l0.8 4.4l0.8 0.2l0.7-1l0.8-1.3l0.8-0.3l0.7-0.5l0.8-2.4l0.8 1.4l0.7-0.5l0.8-0.1l0.8 0l0.7-4.6l0.8 2.6l0.8-1.4l0.7-1.5l0.8-0.9l0.8-0.2l0.7-0.1l0.8-0.3l0.8-0.7l0.7-0.9l0.8-1l0.8-0.7l0.8-0.3l0.7 0l0.8 0l0.8-0.3l0.7-0.4l0.8-0.4l0.8-0.4l0.7-0.5l0.8-0.7l0.8-0.9l0.7-4.1l0.8 2l0.8-0.2l0.7-1l0.8-0.8l0.8-0.7l0.7-0.8l0.8-2.8l0.8 1.3l0.7-0.5l0.8-0.4l0.8-0.4l0.8-0.5l0.7-0.7l0.8-0.8l0.8-0.7l0.7-0.5l0.8-0.5l0.8-0.6l0.7-0.5l0.8-0.4l0.8-2.2l0.7 1.1l0.8-0.2l0 0.7z"/>
<path transform="translate(118.2 385.9)" d="M0 0l0-2l0.8-3.7l0.7 2l0.8 0.3l0.8-0.7l0.7-1.2l0.8-7.1l0.8 3.9l0.7-1.1l0.8 0.5l0.8 0.1l0.7-0.1l0.8-0.7l0.8-1l0.8-0.9l0.7-0.9l0.8-0.8l0.8-1l0.7-1l0.8-0.8l0.8-0.5l0.7-0.4l0.8-1.8l0.8-0.2l0.7 0.5l0.8-0.2l0.8-0.4l0.7-0.6l0.8-0.8l0.8-0.8l0.7-0.6l0.8-2.9l0.8-0.3l0.7 1.5l0.8-0.6l0.8-2.2l0.8 0.4l0.7-0.9l0.8-3.4l0.8 1.7l0.7-0.9l0.8-0.9l0.8-0.7l0.7-0.6l0.8-0.6l0.8-0.6l0.7-0.5l0.8-0.2l0.8-0.3l0.7-0.5l0.8-1.1l0.8-1.5l0.7-1.4l0.8-1.3l0.8 0.2l0.7-0.1l0.8-0.2l0.8-0.7l0.7-0.9l0.8-3.8l0.8 2.3l0.8-0.9l0.7 0.7l0.8 0l0.8-0.3l0.7-0.4l0.8-0.3l0.8-5.6l0.7 2.9l0.8 1.2l0.8-0.8l0.7-0.8l0.8-0.7l0.8-0.8l0.7-0.9l0.8-0.9l0.8-5.1l0.7 3.2l0.8-0.5l0.8-0.8l0.7-0.6l0.8-0.4l0.8-0.5l0.8-0.6l0.7-0.6l0.8-1.2l0.8-1.7l0.7-1.9l0.8 2.2l0.8-1.7l0.7 0.8l0.8-0.4l0.8-0.3l0.7-0.3l0.8-0.3l0 0.4z"/>
<path transform="translate(119.1 386.2)" d="M0 0l0-2.1l0.8-0.6l0.7-0.5l0.8-0.6l0.8-0.6l0.7-1.1l0.8-1.5l0.8-4.7l0.7 2.7l0.8-0.2l0.8 0.1l0.7-0.2l0.8-0.7l0.8-1.3l0.8-0.7l0.7-0.8l0.8-0.6l0.8-0.6l0.7-0.6l0.8-8.4l0.8 4.8l0.7 0.5l0.8-1.2l0.8-6.1l0.7 4.8l0.8-0.4l0.8-0.5l0.7-0.6l0.8-0.4l0.8-0.4l0.7-1.7l0.8 0.8l0.8-8l0.7 1l0.8 2l0.8 3l0.8-1l0.7-2.6l0.8 0.7l0.8-0.7l0.7-0.6l0.8-0.7l0.8-0.8l0.7-0.7l0.8-0.8l0.8-0.7l0.7-0.8l0.8-0.9l0.8-1l0.7-0.8l0.8-0.6l0.8-0.6l0.7-0.6l0.8-0.6l0.8-0.3l0.7-4.6l0.8 4.1l0.8-0.5l0.7-3.7l0.8 2.9l0.8-0.4l0.8-0.5l0.7-0.7l0.8-0.5l0.8-0.5l0.7-1.9l0.8 1.3l0.8-0.4l0.7-0.4l0.8-0.7l0.8-0.6l0.7-0.7l0.8-5.9l0.8-2.1l0.7 0.4l0.8 1.6l0.8 2.1l0.7-0.5l0.8-4.9l0.8 2.9l0.7-0.2l0.8-0.7l0.8-0.7l0.8-0.6l0.7-0.6l0.8-0.4l0.8-0.5l0.7-0.6l0.8-0.8l0.8-0.7l0.7-0.7l0.8-0.4l0.8-2.9l0.7 1.8l0.8 0.1l0 0.7z"/>
<path transform="translate(120.1 386.4)" d="M0 0l0-2.4l0.8-0.6l0.7-1.8l0.8 0.7l0.8-0.6l0.7-1.1l0.8-8.7l0.8 1.2l0.7 4.1l0.8 0.1l0.8 0l0.7-0.3l0.8-9.6l0.8 5.6l0.8 1.4l0.7-0.8l0.8-0.7l0.8-0.5l0.7-0.5l0.8-0.6l0.8-1.3l0.7-1.6l0.8-1.5l0.8-0.8l0.7-0.5l0.8-0.5l0.8-0.8l0.7-0.3l0.8-0.4l0.8-2.8l0.7 1.9l0.8-0.5l0.8-0.1l0.7-0.1l0.8-0.5l0.8-1l0.8-1.2l0.7-1.2l0.8-4.6l0.8 3.3l0.7-0.5l0.8-0.5l0.8-7.8l0.7 5.3l0.8 0.3l0.8-0.7l0.7-0.9l0.8-1.1l0.8-1.1l0.7-0.9l0.8-0.5l0.8-0.2l0.7-0.4l0.8-0.5l0.8-0.2l0.7-0.1l0.8-10.2l0.8 6.5l0.7-9.9l0.8 2.6l0.8 6.4l0.8 2.1l0.7-0.9l0.8-0.9l0.8-0.6l0.7-0.4l0.8-0.4l0.8-3.2l0.7-2.5l0.8 3l0.8 0.6l0.7-7.4l0.8 4.1l0.8 1.3l0.7-5.9l0.8-2.1l0.8 4.1l0.7 1.3l0.8-0.6l0.8-0.7l0.7-0.7l0.8-0.9l0.8-0.8l0.8-0.6l0.7-0.5l0.8-1.6l0.8 0.1l0.7 0.1l0.8-0.8l0.8-0.8l0.7-0.7l0.8-0.5l0.8-3.2l0.7 2.1l0.8 0.2l0 0.8z"/>
<path transform="translate(121.1 386.7)" d="M0 0l0-2.7l0.8-6.7l0.7 4l0.8 0.3l0.8-0.7l0.7-0.5l0.8-2l0.8 1l0.7-0.6l0.8-10.4l0.8 6.2l0.7 1.4l0.8-0.6l0.8-0.7l0.8-0.8l0.7-0.7l0.8-0.7l0.8-0.5l0.7-0.6l0.8-0.7l0.8-8.7l0.7 5.8l0.8-0.3l0.8-3.2l0.7 2.2l0.8 0l0.8-4.3l0.7-3.5l0.8 5.2l0.8-0.1l0.7-0.9l0.8-0.5l0.8-0.2l0.7-0.2l0.8-0.6l0.8-1.1l0.8-1.5l0.7-2l0.8-0.1l0.8-0.5l0.7-0.4l0.8-0.5l0.8-2l0.7 0.6l0.8-0.9l0.8-0.7l0.7-0.7l0.8-0.8l0.8-0.8l0.7-0.8l0.8-0.6l0.8-0.5l0.7-0.6l0.8-0.5l0.8 0l0.7-8.8l0.8 6.2l0.8-7.5l0.7 6.5l0.8-1.1l0.8 2.9l0.8-10.9l0.7 7.1l0.8-4.4l0.8 4.4l0.7-0.6l0.8-0.5l0.8-0.5l0.7-0.6l0.8-0.6l0.8-0.7l0.7-0.6l0.8-6.1l0.8 4.2l0.7 0.2l0.8-0.5l0.8-0.5l0.7-0.4l0.8-5.5l0.8 3.5l0.7 0.4l0.8-1l0.8-1l0.8-0.7l0.7-5.7l0.8 4l0.8 1.2l0.7-0.6l0.8-0.8l0.8-3.3l0.7-1.5l0.8 2.4l0.8 0.1l0.7-2.8l0.8 1.8l0 1.1z"/>
<path transform="translate(122 387)" d="M0 0l0-3l0.8-4.7l0.7 2.7l0.8-1l0.8-3.5l0.7 2.7l0.8 0.1l0.8-5.5l0.7 3.5l0.8-0.1l0.8-1.6l0.7-1.3l0.8-0.7l0.8-0.5l0.8-3.6l0.7 2.3l0.8-0.7l0.8-0.5l0.7-0.6l0.8-0.7l0.8-0.9l0.7-0.8l0.8-0.8l0.8-7.2l0.7 5.9l0.8 0.7l0.8 0.4l0.7-0.8l0.8-1.2l0.8-1.3l0.7-1.1l0.8-3.6l0.8 2.8l0.7-0.3l0.8-0.6l0.8-1.3l0.8-1.7l0.7-1.5l0.8-8l0.8 6.6l0.7-2.4l0.8-4.5l0.8 5.7l0.7-0.9l0.8-1l0.8-0.7l0.7-0.6l0.8-0.6l0.8-0.7l0.7-0.6l0.8-0.7l0.8-0.8l0.7-0.6l0.8-0.6l0.8 0.2l0.7-4.5l0.8 4.1l0.8 0.5l0.7-14.4l0.8 9l0.8 3.6l0.8-12.7l0.7 8.3l0.8 1.1l0.8-7.2l0.7 5.6l0.8-0.7l0.8-0.6l0.7-2.2l0.8 1l0.8-6.5l0.7 5l0.8-0.3l0.8-0.5l0.7-0.4l0.8-0.5l0.8-3.3l0.7 2.8l0.8-0.1l0.8-0.4l0.7-0.9l0.8-1.1l0.8-4.7l0.8 0.6l0.7 2.2l0.8 0.1l0.8 0l0.7-2.1l0.8-4.2l0.8 0.6l0.7 2.4l0.8 0l0.8-0.4l0.7-0.4l0.8-1.2l0 1.7z"/>
<path transform="translate(123 387.3)" d="M0 0l0-3.6l0.8-0.7l0.7-0.6l0.8-6.2l0.8 4.2l0.7-2.9l0.8-3.5l0.8 4.4l0.7-3.1l0.8 0.1l0.8 1.6l0.7-0.8l0.8-0.8l0.8-1l0.8-1.2l0.7-0.9l0.8-0.6l0.8-0.5l0.7-0.5l0.8-0.6l0.8-0.9l0.7-0.9l0.8-6.8l0.8 0.1l0.7 5l0.8-0.1l0.8-0.2l0.7-5.3l0.8 3.5l0.8-1.2l0.7-5.7l0.8 4.1l0.8-0.5l0.7-0.6l0.8-0.6l0.8-0.7l0.8-0.7l0.7-0.6l0.8-0.6l0.8-7.6l0.7 6l0.8-4.4l0.8 4.3l0.7-0.8l0.8-0.9l0.8-0.7l0.7-0.6l0.8-0.7l0.8-0.8l0.7-0.7l0.8-0.7l0.8-0.7l0.7-0.6l0.8-0.7l0.8-0.1l0.7-8.5l0.8 6.1l0.8 1.6l0.7-0.6l0.8-2.6l0.8 1.4l0.8-0.7l0.7-1l0.8-1l0.8-2.2l0.7 0.8l0.8-0.6l0.8-6.3l0.7-0.7l0.8 4.7l0.8-0.6l0.7-0.9l0.8-0.6l0.8-0.6l0.7-0.6l0.8-0.6l0.8-0.4l0.7-0.2l0.8-0.4l0.8-4.5l0.7 3.5l0.8-0.4l0.8-0.6l0.8-0.6l0.7-0.3l0.8-0.1l0.8-0.3l0.7-0.5l0.8-0.8l0.8-5.5l0.7 0.1l0.8 2.7l0.8 0.4l0.7-1.6l0.8 0.9l0 0.8z"/>
<path transform="translate(124 387.5)" d="M0 0l0-4.3l0.8-4.2l0.7 3.5l0.8 0.1l0.8-0.5l0.7-1.2l0.8-1.5l0.8-1.3l0.7-0.7l0.8 0l0.8-6.6l0.7 5l0.8-8.2l0.8 6l0.8-0.9l0.7-1.4l0.8-0.5l0.8-0.3l0.7-0.3l0.8-0.6l0.8-7.8l0.7 6l0.8-0.9l0.8-0.7l0.7-4l0.8 2.9l0.8-0.6l0.7-0.8l0.8-0.9l0.8-5.7l0.7-0.1l0.8 3.3l0.8-0.8l0.7-0.8l0.8-0.7l0.8 0l0.8 0.7l0.7 0.5l0.8-0.3l0.8-0.4l0.7-0.3l0.8-0.4l0.8-0.5l0.7-0.7l0.8-0.7l0.8-1l0.7-0.4l0.8-0.8l0.8-0.9l0.7-0.8l0.8-0.6l0.8-0.6l0.7-0.6l0.8-0.7l0.8-0.7l0.7-0.6l0.8-5.9l0.8 4.3l0.7-0.4l0.8-0.6l0.8-0.6l0.8-7.2l0.7-5l0.8 7.2l0.8 2.6l0.7-0.6l0.8-0.5l0.8-0.5l0.7-0.6l0.8-1.1l0.8-1.4l0.7-1.1l0.8-0.7l0.8-7.6l0.7 0.4l0.8 4.8l0.8-0.4l0.7-0.4l0.8-0.3l0.8-0.4l0.7-0.2l0.8 0.2l0.8 0.1l0.8-0.5l0.7-0.6l0.8-0.6l0.8-0.5l0.7-0.6l0.8-1.6l0.8-0.1l0.7-4.9l0.8 3l0.8 0.5l0.7-0.3l0.8-0.2l0 0.7z"/>
<path transform="translate(124.9 387.8)" d="M0 0l0-4.2l0.8-0.6l0.7-0.4l0.8-0.4l0.8-0.7l0.7-1.1l0.8-1.2l0.8-1.2l0.7-0.7l0.8-0.1l0.8 0.2l0.7-0.1l0.8-1l0.8-1.9l0.8-2.1l0.7-1.3l0.8-0.4l0.8-0.3l0.7-0.4l0.8-0.5l0.8-0.5l0.7-0.6l0.8-0.6l0.8-0.7l0.7-0.8l0.8-0.9l0.8-0.9l0.7-8l0.8 4.3l0.8-5.8l0.7 6.9l0.8-0.9l0.8-1.1l0.7-1.2l0.8-0.8l0.8 0.2l0.8 0.9l0.7 0.7l0.8-0.3l0.8-0.7l0.7-0.6l0.8-6.7l0.8 4.6l0.7 0.5l0.8-0.5l0.8-0.5l0.7-0.7l0.8-0.9l0.8-1l0.7-13.2l0.8 8.2l0.8 3.1l0.7-0.5l0.8-8.9l0.8 3.2l0.7 3.2l0.8-5.9l0.8 4.2l0.7-0.5l0.8-0.3l0.8-0.4l0.8-0.6l0.7-4.9l0.8 3.8l0.8-0.6l0.7-0.7l0.8-0.8l0.8-5.6l0.7 4.3l0.8-1.3l0.8-1l0.7-1.1l0.8-0.6l0.8-0.6l0.7-4.4l0.8 3.2l0.8-0.5l0.7-0.5l0.8-0.5l0.8-0.5l0.7-1.5l0.8 1.6l0.8-1.6l0.8 1.2l0.7-0.6l0.8-0.6l0.8-0.6l0.7-0.6l0.8-0.7l0.8-0.8l0.7-0.6l0.8-0.5l0.8-0.3l0.7-0.3l0.8-1.9l0 2.6z"/>
<path transform="translate(125.9 388.1)" d="M0 0l0-3.5l0.8-1l0.7-1.4l0.8-1.4l0.8-1l0.7-0.5l0.8-0.2l0.8-0.3l0.7-0.7l0.8-0.6l0.8-0.6l0.7-0.6l0.8-0.9l0.8-1.3l0.8-1.4l0.7-8.4l0.8 6.9l0.8-5.3l0.7-1.5l0.8 5l0.8 0l0.7 0.3l0.8 0.1l0.8-0.7l0.7-1.5l0.8-1.8l0.8-1.5l0.7-0.7l0.8 0.2l0.8-5.2l0.7 5.3l0.8-1.3l0.8-2.1l0.7-2l0.8-1.2l0.8 0.4l0.8 1.2l0.7 1l0.8-0.3l0.8-10.4l0.7 6.4l0.8-0.4l0.8-0.4l0.7 0.1l0.8-9.1l0.8 6.9l0.7 1.2l0.8-1.2l0.8-1.2l0.7-1l0.8-5.5l0.8 5.2l0.7 0.1l0.8-0.7l0.8-1.2l0.7-1.6l0.8-4.8l0.8-0.6l0.7 3.4l0.8 0.4l0.8 0l0.8-0.6l0.7-0.5l0.8-0.6l0.8-0.5l0.7-1.2l0.8-1.7l0.8-1.5l0.7-0.6l0.8-0.7l0.8-0.8l0.7-0.7l0.8-0.5l0.8-2.6l0.7 2.7l0.8-0.2l0.8-0.6l0.7-1l0.8-1l0.8-0.7l0.7-0.2l0.8-1l0.8 0.9l0.8-0.4l0.7-0.7l0.8-0.7l0.8-6.1l0.7-0.1l0.8 3.9l0.8 0.2l0.7-4.9l0.8 0.6l0.8 0.7l0.7 1.7l0.8-0.3l0 1.7z"/>
<path transform="translate(126.8 388.3)" d="M0 0l0-2.9l0.8-1l0.7-1.5l0.8-1.6l0.8-1.1l0.7-0.4l0.8-0.1l0.8-0.2l0.7-0.7l0.8-0.8l0.8-1.3l0.7-7.9l0.8 5.8l0.8-0.2l0.8-1.1l0.7-0.8l0.8-0.7l0.8-3l0.7 1.7l0.8-0.6l0.8 0l0.7 0.3l0.8 0.1l0.8-6.5l0.7 4.4l0.8-1.9l0.8-1.6l0.7-0.7l0.8-3.6l0.8 4.1l0.7-5.9l0.8 4.3l0.8-2.4l0.7-2.4l0.8-1.3l0.8 0.4l0.8 1.4l0.7 1.1l0.8-0.3l0.8-1.8l0.7-2.1l0.8-1.5l0.8-0.3l0.7 0.2l0.8 0.3l0.8-0.1l0.7-0.9l0.8-1.2l0.8-1.5l0.7-1.1l0.8-2.6l0.8 2.7l0.7 0.2l0.8-0.6l0.8-1.3l0.7-1.7l0.8-1.4l0.8-0.7l0.7 0.3l0.8 0.7l0.8 0.1l0.8-0.5l0.7-0.6l0.8-0.5l0.8-0.5l0.7-1.3l0.8-1.9l0.8-1.6l0.7-0.6l0.8-0.7l0.8-0.8l0.7-0.7l0.8-0.4l0.8 0.2l0.7 0.3l0.8 0l0.8-0.7l0.7-5.4l0.8 3.3l0.8-0.7l0.7-0.3l0.8 0l0.8-0.1l0.8-0.5l0.7-4.2l0.8 2.7l0.8-0.7l0.7-0.5l0.8-0.5l0.8-1.2l0.7 0.3l0.8-0.5l0.8-0.5l0.7-0.5l0.8 0.1l0 1.8z"/>
<path transform="translate(127.8 388.6)" d="M0 0l0-2.6l0.8-0.8l0.7-1.1l0.8-2.9l0.8 0.7l0.7-5.8l0.8 4.3l0.8 0.2l0.7-0.8l0.8-0.9l0.8-1l0.7-0.8l0.8-0.8l0.8-0.7l0.8-0.7l0.7-0.7l0.8-7.2l0.8 5.7l0.7-11.3l0.8 8.3l0.8 1.5l0.7-3.6l0.8 1.8l0.8-0.7l0.7-0.6l0.8-0.6l0.8-0.8l0.7-0.8l0.8-0.8l0.8-0.8l0.7-2.1l0.8-0.1l0.8-2l0.7-2.1l0.8-1.2l0.8 0.1l0.8 1l0.7 0.8l0.8-0.4l0.8-1.5l0.7-3.5l0.8 0.4l0.8-0.3l0.7-3l0.8 4.3l0.8 0.1l0.7-0.9l0.8-1.5l0.8-1.6l0.7-8.6l0.8 6.8l0.8-0.6l0.7-0.6l0.8-0.8l0.8-0.7l0.7-0.5l0.8-0.7l0.8-0.7l0.7 0.2l0.8-10l0.8 8.5l0.8 1.4l0.7-0.3l0.8-0.4l0.8-0.4l0.7-0.9l0.8-6.3l0.8 1l0.7 2.5l0.8-6.6l0.8 3.6l0.7-1.3l0.8-8.1l0.8 7.5l0.7 1.1l0.8 0.1l0.8-0.6l0.7-0.7l0.8-0.8l0.8-0.6l0.7-0.4l0.8 0l0.8-0.2l0.8-0.5l0.7-0.9l0.8-1.1l0.8-0.9l0.7-1l0.8-0.2l0.8-0.4l0.7-0.6l0.8-6l0.8 1.5l0.7-1.9l0.8 1.5l0 5.5z"/>
<path transform="translate(128.8 388.9)" d="M0 0l0-2.7l0.8-11.3l0.7 6.9l0.8 1.7l0.8-0.9l0.7-0.6l0.8-0.4l0.8-0.5l0.7-1.1l0.8-8.8l0.8 5.5l0.7 0.8l0.8-0.7l0.8-11.6l0.8 7.5l0.7-8.7l0.8 7.7l0.8 2.6l0.7-0.5l0.8-0.6l0.8-1.2l0.7-11.6l0.8 7.2l0.8 0.3l0.7 0l0.8-9.5l0.8 7.2l0.7-7.8l0.8 6.8l0.8-0.4l0.7-1.2l0.8-1.3l0.8-1.9l0.7-1.8l0.8-1.1l0.8-0.7l0.8 1.4l0.7 0.5l0.8-0.4l0.8-1.3l0.7-1.6l0.8-1.2l0.8-0.2l0.7 0.9l0.8 1l0.8 0.2l0.7-0.9l0.8-12.6l0.8 7.8l0.7-4.4l0.8 3.7l0.8-12.3l0.7 9.8l0.8-0.8l0.8-5.9l0.7 5.8l0.8-0.1l0.8-0.7l0.7 0l0.8 0.2l0.8-0.1l0.8-0.4l0.7-0.2l0.8-0.2l0.8-4.9l0.7 3.9l0.8-0.7l0.8-0.7l0.7-0.6l0.8-1.7l0.8-2.2l0.7-1.7l0.8-0.5l0.8 0.5l0.7 0.6l0.8 0.2l0.8-1.7l0.7 0.7l0.8-0.6l0.8-0.5l0.7-0.4l0.8-0.3l0.8-0.1l0.8-4l0.7 2.4l0.8-1.3l0.8-1l0.7-0.7l0.8-0.5l0.8-0.5l0.7-0.5l0.8-0.6l0.8-0.7l0.7-0.7l0.8 0.3l0 2.3z"/>
<path transform="translate(129.7 389.1)" d="M0 0l0-3.6l0.8-0.8l0.7-0.8l0.8-0.9l0.8-0.8l0.7-0.5l0.8-0.2l0.8-0.3l0.7-4l0.8 2.2l0.8-1.1l0.7-9.4l0.8-1.7l0.8 6.7l0.8 2l0.7-0.6l0.8-0.7l0.8-0.9l0.7-0.9l0.8-0.8l0.8-2.8l0.7 1.2l0.8-0.8l0.8-0.6l0.7-0.5l0.8-0.3l0.8-10.1l0.7 7l0.8 0.7l0.8-1.1l0.7-1l0.8-6.5l0.8 3.6l0.7-1.7l0.8-1.1l0.8-0.1l0.8 0.5l0.7 0.3l0.8-0.5l0.8-1.5l0.7-1.8l0.8-1.4l0.8-0.4l0.7 0.4l0.8 0.4l0.8 0l0.7-0.7l0.8-1l0.8-12.1l0.7 8.7l0.8 0.7l0.8-0.8l0.7-0.9l0.8-12.2l0.8 9.9l0.7 0.8l0.8-0.4l0.8-0.8l0.7-0.6l0.8-0.6l0.8-0.5l0.8-0.2l0.7 0.2l0.8 0.2l0.8-0.2l0.7-0.9l0.8-0.2l0.8-6.1l0.7-2.2l0.8 5.2l0.8 0.1l0.7-0.9l0.8-4.2l0.8 3.1l0.7-0.4l0.8-0.4l0.8-0.8l0.7-0.9l0.8-0.9l0.8-0.8l0.7-0.3l0.8 0l0.8 0l0.8-0.5l0.7-1l0.8-1.3l0.8-1l0.7-0.6l0.8-4l0.8 3.5l0.7-0.4l0.8-0.6l0.8-0.6l0.7-1.2l0.8 0.8l0 2.3z"/>
<path transform="translate(130.7 389.4)" d="M0 0l0-9.2l0.8 3.5l0.7-10l0.8 7l0.8 0.8l0.7-9.9l0.8 7.2l0.8 2.5l0.7-0.6l0.8-1.6l0.8-12.9l0.7 8.4l0.8 2.1l0.8-0.3l0.8-0.3l0.7-0.6l0.8-1.1l0.8-1.4l0.7-1.5l0.8-1.1l0.8-0.1l0.7 0.5l0.8 0.4l0.8-0.5l0.7-1.1l0.8-1.2l0.8-1l0.7-0.7l0.8-0.7l0.8-0.6l0.7-0.7l0.8-1.1l0.8-5.4l0.7 2.1l0.8-7.9l0.8 6.7l0.8 0.2l0.7 0.1l0.8-1.3l0.8-1l0.7-2.1l0.8-3.9l0.8-9.6l0.7 10.5l0.8-8.7l0.8 8.2l0.7-0.4l0.8 0l0.8-5.1l0.7 2.6l0.8 1.5l0.8-0.4l0.7-0.5l0.8-0.5l0.8-0.8l0.7-0.8l0.8-0.8l0.8-0.9l0.7-1.3l0.8-1.4l0.8-0.9l0.8 0l0.7 0.7l0.8 0.7l0.8 0.1l0.7-0.4l0.8-9l0.8-4.3l0.7 9.1l0.8 2.8l0.8-0.1l0.7-0.3l0.8-8.1l0.8 4.8l0.7 0.1l0.8-1.2l0.8-3.9l0.7 1.5l0.8-1.5l0.8-1.1l0.7-2.3l0.8 2.2l0.8 0.1l0.8-0.3l0.7-1l0.8-1.4l0.8-0.8l0.7-0.4l0.8 0l0.8 0.1l0.7-0.2l0.8-5.5l0.8 4.3l0.7-0.5l0.8-1.7l0 4.2z"/>
<path transform="translate(131.7 389.7)" d="M0 0l0-5l0.8-0.8l0.7-0.8l0.8-0.8l0.8-0.6l0.7-8.9l0.8-0.5l0.8 6.6l0.7-12l0.8 8.9l0.8 2.8l0.7-1l0.8-0.6l0.8-0.4l0.8-0.4l0.7-0.7l0.8-13.8l0.8 9.4l0.7 0.5l0.8-1.2l0.8-0.3l0.7 0.3l0.8 0.3l0.8-8.7l0.7 6.3l0.8-0.1l0.8-0.8l0.7-0.8l0.8-0.8l0.8-0.8l0.7-0.8l0.8-0.9l0.8-1.4l0.7-1.3l0.8-0.9l0.8-0.3l0.8 0l0.7-7.5l0.8 6.6l0.8-1.7l0.7-2.2l0.8-1.7l0.8-0.7l0.7 0l0.8 0.1l0.8-0.2l0.7-0.8l0.8-0.8l0.8-2.3l0.7 0.7l0.8-6.5l0.8 6.1l0.7-0.1l0.8-0.4l0.8-0.5l0.7-0.6l0.8-5.9l0.8 4.5l0.7-4.1l0.8 1.3l0.8-1l0.8 0l0.7 0.6l0.8 0.5l0.8-0.9l0.7 0.9l0.8-6.9l0.8 5.8l0.7 0.7l0.8-7.1l0.8 5l0.7 1.1l0.8-11.4l0.8 1.6l0.7 5.3l0.8-0.1l0.8-5.6l0.7 3.2l0.8-1.4l0.8-6.6l0.7 5.1l0.8 0.3l0.8 0.2l0.8-0.4l0.7-1.1l0.8-1.4l0.8-8.9l0.7 7.1l0.8 0.3l0.8 0.3l0.7-6.7l0.8 5.5l0.8-0.1l0.7-0.5l0.8 0.3l0 2.4z"/>
<path transform="translate(132.6 390)" d="M0 0l0-3.3l0.8-0.9l0.7-1l0.8-1l0.8-0.7l0.7-0.6l0.8-0.5l0.8-0.5l0.7-0.6l0.8-1.2l0.8-1.4l0.7-1.2l0.8-0.6l0.8-11.1l0.8 8.1l0.7 1.3l0.8-0.9l0.8-0.7l0.7-0.7l0.8-0.8l0.8-0.7l0.7-1l0.8 0l0.8-5.4l0.7-3.4l0.8 6.7l0.8 0.5l0.7-0.8l0.8-1.3l0.8-1.4l0.7-1.1l0.8-0.7l0.8-0.6l0.7-0.5l0.8-0.7l0.8-0.7l0.8-0.7l0.7-0.7l0.8-0.8l0.8-1.6l0.7-7.8l0.8 4.2l0.8-0.4l0.7 0.9l0.8 1.3l0.8-14.1l0.7 10.1l0.8-9.6l0.8 6.1l0.7-1.6l0.8 0l0.8 0.6l0.7 0.4l0.8-0.3l0.8-0.1l0.7 0l0.8-0.1l0.8-0.8l0.7-1.4l0.8-2.6l0.8-10.2l0.8 9.8l0.7 0l0.8-2.9l0.8 2.7l0.7 0.5l0.8-8.4l0.8-4l0.7 2.4l0.8 7.5l0.8-7.5l0.7 6.7l0.8-12.5l0.8 0.7l0.7 8.6l0.8 1.1l0.8-0.8l0.7-0.8l0.8-3.6l0.8 2l0.7-0.3l0.8 0.3l0.8-5.1l0.8 4.3l0.7-5.9l0.8 3.2l0.8-1.4l0.7-3l0.8 2.8l0.8 0.3l0.7-7l0.8 5.6l0.8 0.3l0.7-0.6l0.8 0.3l0 2.4z"/>
<path transform="translate(133.6 390.2)" d="M0 0l0-2.7l0.8-0.9l0.7-5.9l0.8 3.6l0.8-0.8l0.7-0.7l0.8-0.7l0.8-0.6l0.7-10.3l0.8-0.9l0.8 6.8l0.7-0.9l0.8-0.7l0.8-0.3l0.8-0.4l0.7-0.5l0.8-0.6l0.8-0.5l0.7-0.4l0.8-0.6l0.8-7.8l0.7 6.4l0.8 0l0.8-3.9l0.7 3l0.8-14.6l0.8 9.8l0.7 3.4l0.8-1.4l0.8-7l0.7 4.4l0.8-0.7l0.8-0.4l0.7-0.4l0.8-9.5l0.8 7.6l0.8-0.5l0.7-1l0.8-0.8l0.8-1.4l0.7-1.7l0.8-8.8l0.8 5.6l0.7 2.2l0.8-15.4l0.8 11.6l0.7 3.8l0.8-3.5l0.8-3.6l0.7-1.7l0.8 0l0.8 0.6l0.7-12.3l0.8 11.8l0.8-2.6l0.7 3.4l0.8-14.9l0.8 11.7l0.7 1l0.8-1.5l0.8-1l0.8-0.4l0.7-14.4l0.8 11.8l0.8 1.8l0.7-4.1l0.8 5.5l0.8 0.7l0.7-0.2l0.8-0.9l0.8-1.2l0.7-1l0.8-0.7l0.8-1l0.7-1l0.8-6.5l0.8-0.5l0.7 4.4l0.8-0.7l0.8-0.8l0.7-5.8l0.8 5.5l0.8 0.8l0.8-0.3l0.7-1.5l0.8-1.8l0.8-1.4l0.7-8.7l0.8 7.3l0.8 1.6l0.7 0l0.8-0.5l0.8-4.8l0.7 3.6l0.8 0.3l0 2.1z"/>
<path transform="translate(134.6 390.5)" d="M0 0l0-3.1l0.8-3.4l0.7 1.1l0.8-1.4l0.8-1.1l0.7-0.6l0.8-0.3l0.8-0.4l0.7-2.7l0.8-1.9l0.8 0.3l0.7-1.5l0.8-0.7l0.8-0.2l0.8-0.2l0.7-4.6l0.8 3.7l0.8-0.8l0.7-8.9l0.8 7.5l0.8 0.1l0.7 0.4l0.8 0.1l0.8-0.4l0.7-14l0.8 9.2l0.8-4.6l0.7 5.8l0.8 0.1l0.8-5.4l0.7-4l0.8 5.9l0.8-10.1l0.7 7.6l0.8 1.1l0.8-1.2l0.8-1.6l0.7-1.5l0.8-0.9l0.8-0.5l0.7-9.2l0.8 8.2l0.8-0.6l0.7 0.2l0.8 0.3l0.8-0.1l0.7-18.2l0.8 11.9l0.8-1.6l0.7-1.6l0.8-8.1l0.8 8.6l0.7 0.4l0.8-11.2l0.8 1.9l0.7 8.8l0.8-0.2l0.8-0.7l0.7-1.2l0.8-1.2l0.8-0.9l0.8-0.1l0.7 0.5l0.8 0.4l0.8-0.1l0.7-8.3l0.8 6.8l0.8 1.5l0.7-0.5l0.8-1.4l0.8-11.7l0.7 0.1l0.8 7.3l0.8 0.4l0.7 0.2l0.8-0.1l0.8-1.1l0.7-1.8l0.8-1.9l0.8-1.3l0.7 0l0.8 0.7l0.8 0.6l0.8-0.2l0.7-0.9l0.8-2.8l0.8 1l0.7-0.4l0.8-0.2l0.8-0.2l0.7-0.3l0.8-0.5l0.8-0.7l0.7-0.6l0.8-3.2l0 5.5z"/>
<path transform="translate(135.5 390.8)" d="M0 0l0-14.8l0.8 7.4l0.7-8.9l0.8 7.4l0.8-0.1l0.7-0.4l0.8-0.1l0.8-3.4l0.7 2.2l0.8-1.5l0.8-8l0.7-4.4l0.8 8.2l0.8-0.1l0.8-3.2l0.7 2.8l0.8-0.8l0.8-1.1l0.7-12.5l0.8 10.1l0.8 1.1l0.7 0.8l0.8 0.5l0.8-0.3l0.7-0.4l0.8-9.9l0.8 6.5l0.7 1.7l0.8-1.6l0.8-9.7l0.7 6.7l0.8-0.6l0.8-0.3l0.7-0.3l0.8-0.5l0.8-1.4l0.8-2l0.7-1.8l0.8-1l0.8-0.1l0.7 0.2l0.8-0.1l0.8-0.6l0.7-0.3l0.8-0.1l0.8-0.4l0.7-11.3l0.8 2.5l0.8 1.1l0.7-1.6l0.8-2.6l0.8 3.2l0.7 0.4l0.8-0.2l0.8-3.8l0.7 3.6l0.8-0.2l0.8-0.7l0.7-1.1l0.8-1.1l0.8-0.8l0.8 0.1l0.7 1l0.8-1.6l0.8 2.6l0.7-0.4l0.8-0.4l0.8-0.4l0.7-13l0.8 7.9l0.8-0.8l0.7-0.6l0.8-9l0.8 8.1l0.7 2.1l0.8 0.4l0.8-1.2l0.7-2.6l0.8-2.6l0.8-1.5l0.7-3.6l0.8 4.6l0.8 0.8l0.8-0.2l0.7-0.6l0.8-4.8l0.8-3.6l0.7 5.6l0.8 0.8l0.8-0.5l0.7-0.5l0.8-0.5l0.8-0.7l0.7-0.7l0.8 0.3l0 2.3z"/>
<path transform="translate(136.5 391)" d="M0 0l0-11.5l0.8 5.6l0.7-1l0.8-1.8l0.8-1.3l0.7-0.5l0.8-5.8l0.8-3.6l0.7 3.1l0.8 3.9l0.8-1.8l0.7-1.4l0.8-0.7l0.8-0.2l0.8-3.3l0.7 2.8l0.8-0.8l0.8-1l0.7-0.9l0.8-0.7l0.8 0l0.7 0.5l0.8 0.2l0.8-0.5l0.7-0.7l0.8-0.8l0.8-15.7l0.7 10.5l0.8 2.2l0.8-15.1l0.7 11.2l0.8 1.1l0.8 0.2l0.7 0.2l0.8-0.3l0.8-1.3l0.8-1.8l0.7-1.7l0.8-1.1l0.8 0l0.7 0.4l0.8 0.1l0.8-1.1l0.7-14.1l0.8 0.5l0.8 8.5l0.7-0.8l0.8-0.6l0.8-0.7l0.7-0.5l0.8-0.2l0.8 0.3l0.7 0.1l0.8-10.9l0.8 8.4l0.7 1.8l0.8-0.4l0.8-0.6l0.7-13.4l0.8 10.3l0.8 0.8l0.8-0.3l0.7 0.2l0.8 0.3l0.8-0.3l0.7-9l0.8 6.6l0.8 0.8l0.7-0.6l0.8-1.7l0.8-2.3l0.7-1.7l0.8-0.7l0.8 0.2l0.7 0.2l0.8-0.1l0.8-0.7l0.7-7l0.8 4.9l0.8-0.8l0.7-0.1l0.8 0.4l0.8 0.2l0.8-0.3l0.7-1l0.8-8.5l0.8 6.1l0.7-7.4l0.8 6l0.8 0.8l0.7-0.3l0.8-5l0.8 4l0.7-0.2l0.8 0.3l0 2z"/>
<path transform="translate(137.4 391.3)" d="M0 0l0-4.5l0.8-1.3l0.7-14.5l0.8 9.8l0.8-0.7l0.7-0.4l0.8-11.5l0.8-7l0.7 5.4l0.8 3.9l0.8 5.6l0.7-1.2l0.8-0.7l0.8-7.7l0.8 7.2l0.7-0.5l0.8-11l0.8 9.5l0.7-0.7l0.8-0.7l0.8-0.4l0.7-0.2l0.8-0.3l0.8-0.7l0.7-1.4l0.8-1.5l0.8-1.1l0.7-0.7l0.8-1.2l0.8-1.1l0.7-0.7l0.8 0.3l0.8 1l0.7 0.7l0.8-0.1l0.8-1l0.8-1.6l0.7-1.7l0.8-10.4l0.8 9.3l0.7 0.7l0.8 0.3l0.8-1.5l0.7-3.6l0.8-4.2l0.8-3l0.7 0.3l0.8 2.6l0.8-5.3l0.7 8.7l0.8-4.1l0.8 3.4l0.7-0.3l0.8-1.3l0.8-3.5l0.7 3.5l0.8-0.6l0.8-0.5l0.7-0.5l0.8-0.6l0.8-0.6l0.8-0.6l0.7-19.5l0.8 12.9l0.8 4.7l0.7-0.6l0.8-0.8l0.8-0.7l0.7-3l0.8-11.2l0.8 9.1l0.7-1l0.8-11.3l0.8 9.9l0.7-0.6l0.8-0.7l0.8-0.1l0.7 0.7l0.8 0.8l0.8 0l0.7-0.5l0.8-0.2l0.8-0.2l0.8-0.6l0.7-1.4l0.8-1.8l0.8-1.4l0.7-0.6l0.8 0.1l0.8 0.1l0.7-0.1l0.8-0.3l0.8 0.1l0.7 0l0.8-3.9l0 5.7z"/>
<path transform="translate(138.4 391.6)" d="M0 0l0-4.7l0.8-1.1l0.7-3.7l0.8 0.3l0.8-1.4l0.7-0.9l0.8-9.6l0.8-4.3l0.7 3.8l0.8 5.8l0.8-0.4l0.7-1l0.8-0.8l0.8-0.6l0.8-0.7l0.7-15.4l0.8 13.4l0.8-0.4l0.7-0.9l0.8-0.8l0.8-0.2l0.7 0.3l0.8 0l0.8-0.7l0.7-1.7l0.8-1.9l0.8-1.4l0.7-0.5l0.8-0.7l0.8-0.7l0.7-12.9l0.8-0.6l0.8 12.5l0.7 3.7l0.8 0l0.8-1.3l0.8-1.9l0.7-2l0.8-1.3l0.8-0.1l0.7 0.4l0.8-2.2l0.8 0.8l0.7-3.3l0.8-3.7l0.8-2.6l0.7 0.2l0.8 2.6l0.8 2.7l0.7 0.8l0.8-0.5l0.8-0.5l0.7-0.3l0.8-0.4l0.8-0.6l0.7-0.7l0.8-14.4l0.8 10.3l0.7 2.6l0.8-0.3l0.8-0.4l0.8-0.8l0.7-1l0.8-1.1l0.8-0.7l0.7-0.5l0.8-0.7l0.8-0.6l0.7-0.5l0.8-1.1l0.8-1.5l0.7-1.1l0.8-0.7l0.8-9.5l0.7 7.5l0.8-0.8l0.8-0.1l0.7 0.8l0.8-6.4l0.8 6.6l0.7 0.1l0.8-0.4l0.8-0.5l0.8-0.6l0.7-1.2l0.8-1.7l0.8-1.3l0.7-0.5l0.8 0l0.8 0.2l0.7-0.1l0.8-7.2l0.8 5.6l0.7-6.4l0.8 6.5l0 3.1z"/>
<path transform="translate(139.4 391.9)" d="M0 0l0-4.6l0.8-0.7l0.7-0.8l0.8-1.9l0.8-0.1l0.7-2l0.8-7.2l0.8-3.7l0.7 1.2l0.8 2.3l0.8-0.1l0.7-1.3l0.8-0.3l0.8-1l0.8-1.5l0.7-9l0.8 7l0.8-1.2l0.7-6.5l0.8 4.5l0.8 0.4l0.7 1.2l0.8 0.9l0.8-0.6l0.7-2.2l0.8-2.6l0.8-3.7l0.7 1.5l0.8 0l0.8 0l0.7 0l0.8 0.6l0.8 1.8l0.7 1.6l0.8 0.2l0.8-10.8l0.8 6l0.7-2.8l0.8-1.3l0.8-0.2l0.7 0.1l0.8-0.2l0.8-1.1l0.7-1.5l0.8-1.6l0.8-1.3l0.7-10.7l0.8 12.3l0.8 1.7l0.7 0.3l0.8-0.8l0.8-0.8l0.7-0.7l0.8-0.7l0.8-1.3l0.7-1.5l0.8-14.9l0.8 12.3l0.7-4.9l0.8 6l0.8-0.1l0.8-0.9l0.7-1.9l0.8-1.7l0.8-0.7l0.7 0l0.8 0l0.8-0.1l0.7-12.3l0.8 10.4l0.8 2.3l0.7 0l0.8-14.3l0.8 9.9l0.7 0.3l0.8-1.3l0.8-0.4l0.7 0.6l0.8-6.7l0.8 6.5l0.7-8.5l0.8 6.5l0.8 0l0.8-0.6l0.7-1l0.8-1l0.8-1l0.7-0.4l0.8 0.2l0.8 0.3l0.7 0l0.8-0.4l0.8-0.4l0.7-5.8l0.8 5.2l0 2.6z"/>
<path transform="translate(140.3 392.1)" d="M0 0l0-5l0.8-0.7l0.7-0.6l0.8-0.7l0.8-0.9l0.7-2.2l0.8-3l0.8-2.9l0.7-1.5l0.8-0.5l0.8-0.1l0.7-0.3l0.8-1l0.8-1.6l0.8-10.3l0.7 7.7l0.8-0.9l0.8-1.1l0.7-1.1l0.8-0.7l0.8 0.6l0.7 1.4l0.8 1l0.8-0.5l0.7-1.9l0.8-4.4l0.8 0.4l0.7-0.6l0.8-0.4l0.8-0.3l0.7-0.5l0.8 0.4l0.8-4.7l0.7 7.6l0.8 0l0.8-1.9l0.8-2.9l0.7-2.6l0.8-1l0.8 0.1l0.7 0.3l0.8 0.1l0.8-10l0.7-0.6l0.8 7.9l0.8-0.9l0.7 0l0.8 1.1l0.8 1l0.7-0.2l0.8-1l0.8-1.1l0.7-1.1l0.8-17.7l0.8 0.8l0.7 11.5l0.8-2.1l0.8-1l0.7-4.9l0.8 5l0.8-11.3l0.8 11.4l0.7-1.4l0.8-15.2l0.8 13.4l0.7 0.6l0.8 0.6l0.8 0.4l0.7-14.6l0.8 12l0.8-3.4l0.7 6.4l0.8 0.6l0.8-1.7l0.7-2.1l0.8-1.7l0.8-0.6l0.7 0.4l0.8 0.5l0.8-0.1l0.7-1.1l0.8-1.3l0.8-5.3l0.8 3.3l0.7-7.7l0.8 5.9l0.8-0.8l0.7-0.3l0.8 0.3l0.8 0.4l0.7 0.1l0.8-0.4l0.8-0.2l0.7-0.3l0.8-2.7l0 5.5z"/>
<path transform="translate(141.3 392.4)" d="M0 0l0-6.6l0.8-0.7l0.7-0.5l0.8-0.6l0.8-0.9l0.7-1.3l0.8-1.4l0.8-1.4l0.7-3l0.8-4.2l0.8 2.8l0.7-1.3l0.8-1l0.8-1.3l0.8-1.3l0.7-0.8l0.8-1l0.8-11.1l0.7-1.3l0.8 7.8l0.8 1.9l0.7 1.4l0.8 1l0.8-0.3l0.7-0.3l0.8 0l0.8-17.9l0.7 12.8l0.8 2.1l0.8-1.8l0.7-5l0.8 2.9l0.8-18.8l0.7 16.9l0.8-9.4l0.8-0.5l0.8 9.5l0.7 0l0.8-0.4l0.8-0.5l0.7-0.5l0.8-5l0.8 3.9l0.7-1.5l0.8-5.1l0.8 1.8l0.7 0.4l0.8 0.4l0.8 0.2l0.7-0.7l0.8-1.4l0.8-1.4l0.7-1.6l0.8-2l0.8-10.8l0.7 5.2l0.8-6.2l0.8 1.9l0.7 1.2l0.8 2.2l0.8 1.3l0.8-0.4l0.7-1l0.8-0.6l0.8 0.4l0.7-4l0.8 5.7l0.8 0.7l0.7 0.5l0.8 0.8l0.8 0.7l0.7-8.9l0.8 6.8l0.8-0.2l0.7-2.1l0.8-1.9l0.8-0.8l0.7-12l0.8 9.9l0.8 3l0.7-1.5l0.8-2.1l0.8-1.9l0.8-0.9l0.7-0.9l0.8-1l0.8-0.9l0.7-0.3l0.8 0.1l0.8 0.1l0.7-0.1l0.8 0.1l0.8 0.7l0.7 0.6l0.8 0.9l0 2.8z"/>
<path transform="translate(142.3 392.7)" d="M0 0l0-8l0.8-0.6l0.7-0.5l0.8-0.5l0.8-13.3l0.7 1.1l0.8 9.5l0.8-0.2l0.7-8.4l0.8 5.1l0.8-2.5l0.7-1.9l0.8-1.1l0.8-1.1l0.8-10.8l0.7 8.8l0.8-1.1l0.8-9l0.7-9.6l0.8 10.6l0.8 4.7l0.7 1.6l0.8 1l0.8-0.1l0.7 0.6l0.8 1.1l0.8 0.6l0.7-1l0.8-2.3l0.8-6.8l0.7-6.9l0.8 8l0.8-1.3l0.7-1.7l0.8-1l0.8 0.7l0.8 1.6l0.7 1.3l0.8-0.3l0.8-1l0.7-1.2l0.8-1l0.8-0.9l0.7-2.2l0.8-2.5l0.8-1.5l0.7-0.3l0.8 0.3l0.8 0l0.7-0.8l0.8-1.4l0.8-1.4l0.7-5.6l0.8-10.2l0.8-2.1l0.7 8.3l0.8-3.1l0.8-1.3l0.7 1.8l0.8 2.8l0.8 1.8l0.8-0.2l0.7-0.6l0.8-12.1l0.8 12.4l0.7 0.8l0.8 0.7l0.8 0.6l0.7 0.6l0.8 0.9l0.8 0.9l0.7-11.4l0.8 8.6l0.8 0.6l0.7-2.3l0.8-1.9l0.8-0.7l0.7 0.6l0.8 0.8l0.8-0.1l0.7-1.6l0.8-2.5l0.8-2.2l0.8-0.9l0.7-0.9l0.8-1.1l0.8-0.8l0.7-0.3l0.8-0.1l0.8-7.1l0.7 6.9l0.8 0.2l0.8 1.2l0.7 0l0.8 1.4l0 3.9z"/>
<path transform="translate(143.2 392.9)" d="M0 0l0-11l0.8-7.4l0.7 8l0.8-1.1l0.8-7.5l0.7 5.7l0.8-0.2l0.8-0.3l0.7-1.1l0.8-2.2l0.8-2.6l0.7-2l0.8-1l0.8-1.3l0.8-1.2l0.7-0.8l0.8-4.4l0.8 1.4l0.7-9.3l0.8 7.5l0.8 2.5l0.7 1.2l0.8 0.7l0.8-0.4l0.7-7.5l0.8 4.9l0.8-1l0.7-0.6l0.8-0.6l0.8-5.9l0.7-10.3l0.8 5l0.8-0.2l0.7 9.3l0.8-0.4l0.8-21.5l0.8 17.1l0.7 5.6l0.8-2l0.8-1l0.7-0.8l0.8-1.6l0.8-1.3l0.7-2.7l0.8-3.1l0.8-2.1l0.7-0.1l0.8-11.2l0.8 13l0.7-1.5l0.8-0.6l0.8-2.5l0.7-8.2l0.8-16.2l0.8-0.2l0.7 17.4l0.8-1.5l0.8-0.9l0.7-12l0.8 16.5l0.8 1.5l0.8 0l0.7 0.3l0.8 0.3l0.8-0.3l0.7-10.8l0.8 11.5l0.8 0l0.7 0.1l0.8-11.5l0.8 10.4l0.7 1.2l0.8-0.9l0.8-1.9l0.7-2.4l0.8-1.9l0.8-0.7l0.7-8.7l0.8 8.3l0.8-0.5l0.7-9.5l0.8 6.8l0.8-1.3l0.8-0.6l0.7-0.4l0.8-0.3l0.8-4.4l0.7-1.8l0.8 5.8l0.8 0l0.7-0.2l0.8 0l0.8-0.5l0.7 1.3l0.8 1.5l0 4.2z"/>
<path transform="translate(144.2 393.2)" d="M0 0l0-8.7l0.8-1.1l0.7-1.6l0.8-1.6l0.8-4l0.7 2.2l0.8 0.1l0.8 0l0.7-1.1l0.8-2.1l0.8-2.6l0.7-1.9l0.8-1.1l0.8-1.2l0.8-1.2l0.7-0.9l0.8-0.2l0.8 0.4l0.7 0.4l0.8-0.3l0.8-2.3l0.7 2.9l0.8 0.4l0.8-0.9l0.7-3.5l0.8-8.1l0.8 0.8l0.7 0l0.8 1.5l0.8-5.7l0.7-14l0.8 8.2l0.8 15.5l0.7 0.8l0.8 0l0.8-0.3l0.8-0.3l0.7-3.1l0.8-13l0.8-2.8l0.7 9.5l0.8 1.8l0.8-1.7l0.7-3.1l0.8-3.4l0.8-2.5l0.7 0l0.8-10.7l0.8 14.4l0.7 0.2l0.8-2.5l0.8-3.9l0.7-11.8l0.8 2.8l0.8-3.8l0.7 6l0.8 0.3l0.8 1.6l0.7 1.6l0.8 2.3l0.8 1.1l0.8 0.3l0.7 1.2l0.8 1l0.8-0.5l0.7 0.4l0.8-0.8l0.8-0.7l0.7-0.3l0.8-0.9l0.8-5.5l0.7-4l0.8 6.4l0.8-2.1l0.7-2.3l0.8-1.7l0.8-0.8l0.7-1.2l0.8-1.1l0.8-0.9l0.7-0.5l0.8-3.3l0.8 2.5l0.8-0.4l0.7 0.2l0.8 0.4l0.8 0.4l0.7-0.1l0.8 0l0.8-0.1l0.7-0.1l0.8-0.3l0.8-7l0.7 6.5l0.8-1.4l0 8z"/>
<path transform="translate(145.1 393.5)" d="M0 0l0-7.7l0.8-1.3l0.7-1.8l0.8-1.9l0.8-1.4l0.7-0.7l0.8-0.4l0.8-0.5l0.7-1.2l0.8-2l0.8-2.2l0.7-1.7l0.8-1.2l0.8-0.5l0.8-0.7l0.7-1.2l0.8-0.1l0.8-0.7l0.7-0.7l0.8-0.6l0.8 0.4l0.7 1l0.8 0.7l0.8-0.8l0.7-7.2l0.8-0.8l0.8-2.9l0.7 0l0.8 1.4l0.8 1.6l0.7-5.7l0.8 6.9l0.8 1.1l0.7 0.9l0.8 0l0.8-0.6l0.8-0.8l0.7-9.9l0.8-14.4l0.8 0.8l0.7 12.3l0.8 5.9l0.8-19.3l0.7 15.1l0.8-2.9l0.8-11.9l0.7 9.1l0.8-11.6l0.8 11.4l0.7-0.5l0.8-1.6l0.8-2.1l0.7-2l0.8-1l0.8 0.5l0.7-3.5l0.8 0.4l0.8 4.4l0.7 1l0.8 1.4l0.8 0.6l0.8-0.2l0.7-0.2l0.8-10.1l0.8 9.9l0.7-0.4l0.8-0.7l0.8-0.6l0.7-0.9l0.8-13.4l0.8-0.4l0.7 3.2l0.8-2l0.8 9.5l0.7-1.4l0.8-1.1l0.8-0.8l0.7-2.8l0.8 0.1l0.8-0.9l0.7-0.6l0.8-3.8l0.8 2.2l0.8-0.5l0.7 0l0.8 0.2l0.8-5.3l0.7 5.3l0.8 0l0.8-0.1l0.7-0.1l0.8-0.1l0.8 0.3l0.7 0.1l0.8 1.5l0 4.3z"/>
<path transform="translate(146.1 393.8)" d="M0 0l0-5.5l0.8-1.4l0.7-2.3l0.8-2.3l0.8-11.2l0.7 8.3l0.8-1.5l0.8-6.9l0.7 4.1l0.8-1.5l0.8-1.5l0.7-1.3l0.8-0.7l0.8 0.2l0.8 0.4l0.7-0.1l0.8-1.6l0.8-2.7l0.7-2.6l0.8-1.2l0.8-7.4l0.7 10.2l0.8-1.7l0.8-1.7l0.7 0.9l0.8-4.1l0.8-2.7l0.7-0.1l0.8 0.9l0.8 1.1l0.7 0.5l0.8 0.4l0.8 1l0.7 0.8l0.8-0.1l0.8-1.1l0.8-1.7l0.7-4.4l0.8-12.1l0.8 1.9l0.7 11.4l0.8 3l0.8-11.6l0.7 9.2l0.8-1.5l0.8-1.3l0.7-5.9l0.8-5.8l0.8 0.3l0.7 0.9l0.8 0.1l0.8 0.9l0.7 0.8l0.8-0.3l0.8-8.5l0.7-11.4l0.8 7.6l0.8 4.8l0.7 0.7l0.8 4l0.8 5.4l0.8-1.2l0.7-2.5l0.8-6l0.8 2.6l0.7-0.4l0.8-0.7l0.8-0.5l0.7-8l0.8-0.1l0.8-2.4l0.7-0.1l0.8-1.1l0.8 9.2l0.7 3.3l0.8 0.1l0.8-10.5l0.7 8l0.8-1.6l0.8-0.9l0.7-1l0.8-1.4l0.8-1.3l0.8-0.7l0.7-0.5l0.8-0.5l0.8-0.4l0.7-0.4l0.8-0.3l0.8-0.4l0.7-0.7l0.8 0.5l0.8 1.3l0.7 1.2l0.8 1.3l0 3.1z"/>
<path transform="translate(147.1 394)" d="M0 0l0-5.4l0.8-1.3l0.7-2.1l0.8-2.1l0.8-1.5l0.7-9.5l0.8 6.4l0.8-1.7l0.7-1.3l0.8-1.6l0.8-1.7l0.7-1.3l0.8-0.6l0.8 0.5l0.8 0.6l0.7 0.1l0.8-1.5l0.8-2.7l0.7-2.5l0.8-1.1l0.8 0.7l0.7 1.3l0.8 1l0.8-0.6l0.7-2.4l0.8-7.1l0.8 2.4l0.7-0.1l0.8 0.5l0.8-8.8l0.7 9.9l0.8 0.3l0.8 0.8l0.7 0.6l0.8 0l0.8-1.4l0.8-2l0.7-1.9l0.8-7.1l0.8 3.2l0.7 4.6l0.8 0.6l0.8-10.5l0.7 8.9l0.8-1l0.8-4l0.7-11.1l0.8-6.9l0.8 2.6l0.7 9l0.8 0.1l0.8 0.8l0.7 0l0.8-1.5l0.8-16.2l0.7-1.7l0.8 1.1l0.8 3.2l0.7-8.2l0.8 5.9l0.8 15.1l0.8 1.7l0.7-2l0.8-2l0.8-1.2l0.7-0.8l0.8-4l0.8 2.2l0.7-0.3l0.8-5.1l0.8-8.5l0.7 0.7l0.8 5.3l0.8 4.6l0.7 4.4l0.8 0.1l0.8-14.1l0.7 9.3l0.8 1.3l0.8-0.7l0.7-0.7l0.8-0.9l0.8-0.9l0.8-0.7l0.7-0.7l0.8-0.8l0.8-0.8l0.7-0.7l0.8-0.9l0.8-0.9l0.7-0.8l0.8 0l0.8 1.3l0.7 1.2l0.8 1.5l0 3.2z"/>
<path transform="translate(148 394.3)" d="M0 0l0-6.5l0.8-0.8l0.7-0.9l0.8-0.9l0.8-1.1l0.7-1.5l0.8-2l0.8-1.9l0.7-1.4l0.8-11.4l0.8 6.6l0.7-2l0.8-0.5l0.8 0.9l0.8 1.1l0.7 0.4l0.8-1l0.8-1.7l0.7-1.6l0.8-0.8l0.8-1.1l0.7-1.5l0.8-1.4l0.8-0.6l0.7 0.8l0.8 1.6l0.8 0.9l0.7-0.2l0.8-0.4l0.8-20.2l0.7 16l0.8 3.8l0.8 0.4l0.7 0.3l0.8-0.2l0.8-2l0.8-18.6l0.7 12.5l0.8-1.2l0.8-0.4l0.7-0.3l0.8-0.4l0.8-0.7l0.7-8.5l0.8 8.2l0.8-11.2l0.7-1l0.8-3.7l0.8 5l0.7 3.9l0.8-6.3l0.8 5.7l0.7-0.3l0.8-1.3l0.8-11.3l0.7-1.7l0.8-6.4l0.8 9.2l0.7 9.8l0.8-1l0.8-1.2l0.8-0.3l0.7 0.5l0.8-6.7l0.8 7l0.7-1.1l0.8-1.2l0.8-1l0.7-0.5l0.8-0.9l0.8-9.2l0.7 0.7l0.8 5.1l0.8 4.2l0.7-0.5l0.8-0.4l0.8-0.6l0.7-1.2l0.8-5l0.8 3.4l0.7 0.2l0.8 0.5l0.8-3.1l0.8 0.4l0.7 1.9l0.8-0.8l0.8-0.8l0.7-1l0.8-1.6l0.8-1.9l0.7-1.5l0.8-0.4l0.8 0.5l0.7 0.6l0.8 1.6l0 4.2z"/>
<path transform="translate(149 394.6)" d="M0 0l0-7.4l0.8-0.6l0.7-0.3l0.8-0.3l0.8-0.7l0.7-13.3l0.8 9.7l0.8-1.8l0.7-1.3l0.8-7.6l0.8 2.8l0.7-2l0.8-0.5l0.8 0.8l0.8 1.1l0.7 0.3l0.8-4.7l0.8-5.3l0.7 6.7l0.8-0.9l0.8-1.9l0.7-16.9l0.8 11.6l0.8-0.7l0.7 2.1l0.8-7.7l0.8 12.2l0.7 0.6l0.8-0.9l0.8-0.8l0.7-6.2l0.8 5.5l0.8-8.3l0.7 8.1l0.8 0.2l0.8-2.5l0.8-17l0.7 9.6l0.8-11l0.8 2.1l0.7 5.8l0.8-0.8l0.8-0.6l0.7-5.4l0.8 6.1l0.8-0.1l0.7-3.8l0.8-5.5l0.8 4.5l0.7-1.2l0.8-0.6l0.8-0.6l0.7-3.2l0.8 2.1l0.8-9.4l0.7 7.4l0.8-0.7l0.8 2.7l0.7-1.7l0.8-1.8l0.8-4.4l0.8 3.4l0.7 1.7l0.8-18.6l0.8 17.1l0.7 2.8l0.8-1.1l0.8-10.6l0.7 9.2l0.8 0.1l0.8-0.2l0.7-13l0.8 0.1l0.8 11l0.7 0.4l0.8-0.8l0.8-1.9l0.7 0l0.8-1.2l0.8-0.7l0.7 0.4l0.8 1.1l0.8 0.9l0.8-0.2l0.7-5.1l0.8 3.8l0.8-0.7l0.7-2.5l0.8-0.2l0.8-2.2l0.7-1.6l0.8-0.5l0.8-0.4l0.7 1.1l0.8 0.3l0 5.6z"/>
<path transform="translate(150 394.8)" d="M0 0l0-11.7l0.8-0.1l0.7 0.7l0.8 0.7l0.8-0.3l0.7-1.8l0.8-2.4l0.8-2l0.7-0.8l0.8-0.5l0.8-0.5l0.7-0.5l0.8-0.8l0.8-0.8l0.8-0.8l0.7-0.8l0.8-0.4l0.8 0.2l0.7 0.1l0.8-0.5l0.8-1.3l0.7-1.6l0.8-3.3l0.8 1.1l0.7 0.5l0.8-8.5l0.8 10l0.7-0.6l0.8-0.9l0.8-1.4l0.7-0.2l0.8-0.6l0.8-0.9l0.7-11.2l0.8 1.6l0.8 6.3l0.8-2.8l0.7-2.5l0.8-1.1l0.8-1.3l0.7-1.5l0.8-1.3l0.8-0.2l0.7 1.7l0.8-0.3l0.8 3.1l0.7-1.2l0.8-2.2l0.8-2.3l0.7-4.7l0.8-1.9l0.8 3.5l0.7-0.8l0.8-0.7l0.8 0.5l0.7-2.6l0.8-6.8l0.8-3.5l0.7 3.3l0.8 7.3l0.8-2.1l0.8 0.9l0.7 0.3l0.8 0.2l0.8-0.1l0.7-0.4l0.8-8.9l0.8 7.9l0.7-0.2l0.8-0.5l0.8-0.6l0.7-0.5l0.8-0.4l0.8 0.2l0.7 0.3l0.8-0.1l0.8-0.7l0.7-1l0.8-0.9l0.8-0.8l0.7-7l0.8 5.4l0.8-0.9l0.8-0.6l0.7-0.1l0.8 0l0.8-0.1l0.7-0.6l0.8-1.3l0.8-1.5l0.7-1.1l0.8-0.1l0.8 0.7l0.7 0.7l0.8 1.4l0 3.9z"/>
<path transform="translate(150.9 395.1)" d="M0 0l0-15.9l0.8 0.3l0.7 1.8l0.8 1.6l0.8-3.3l0.7 1.6l0.8-2.6l0.8-2l0.7-0.3l0.8 0.8l0.8 1l0.7 0.4l0.8-0.9l0.8-1.8l0.8-2l0.7-1.6l0.8-0.2l0.8 1l0.7 1.1l0.8-6.4l0.8 0.6l0.7 4.3l0.8-0.5l0.8-0.7l0.7-1l0.8-0.9l0.8-0.9l0.7-0.8l0.8-0.9l0.8-0.9l0.7-0.9l0.8-1.1l0.8-2l0.7-1.9l0.8-1.1l0.8-1l0.8-6.3l0.7 3.9l0.8-0.9l0.8-1.9l0.7-2.3l0.8-1.8l0.8-3.6l0.7 6.8l0.8 3.6l0.8 1.7l0.7-1.3l0.8-2.6l0.8-2.6l0.7-1.6l0.8-1l0.8-1.2l0.7-1.1l0.8-0.7l0.8 0.6l0.7-2.5l0.8-16.5l0.8-4.6l0.7 3.5l0.8 14.7l0.8 3l0.8 0.2l0.7-1.5l0.8-1.3l0.8-0.4l0.7 0l0.8 0l0.8 0l0.7 0l0.8-1l0.8-1.2l0.7-1.1l0.8-0.4l0.8 0.9l0.7 1.2l0.8 0.5l0.8-0.7l0.7-0.5l0.8-0.5l0.8-0.7l0.7-1.9l0.8-4l0.8-2l0.8-1l0.7 0.4l0.8 0.8l0.8 0.6l0.7-0.2l0.8-0.8l0.8-0.9l0.7-0.6l0.8 0.2l0.8 1l0.7 0.9l0.8 1.4l0 3.5z"/>
<path transform="translate(151.9 395.4)" d="M0 0l0-12.9l0.8-0.2l0.7 0.8l0.8 0.7l0.8-0.1l0.7-1.8l0.8-2.5l0.8-1.8l0.7-0.4l0.8 0.2l0.8 0.3l0.7-0.1l0.8-0.8l0.8-1.2l0.8-1.3l0.7-1.3l0.8-0.7l0.8-0.1l0.7 0l0.8-0.7l0.8-0.2l0.7 0.4l0.8 0.4l0.8-0.7l0.7-1.8l0.8-2.2l0.8-5.4l0.7 3.2l0.8 0.2l0.8 0.4l0.7-0.3l0.8-1.1l0.8-2.2l0.7-2.1l0.8-1.1l0.8-0.8l0.8-0.8l0.7-0.7l0.8-2.6l0.8 0.9l0.7-1.1l0.8-0.9l0.8 0l0.7 1.9l0.8 1.7l0.8 1.5l0.7-1l0.8-2l0.8-2l0.7-1.4l0.8-1.3l0.8-1.8l0.7-1.8l0.8-0.9l0.8 0.6l0.7-4.8l0.8-14.4l0.8-8.2l0.7 9l0.8 15.2l0.8 1.3l0.8-0.8l0.7-1.6l0.8-1.3l0.8-0.5l0.7 0.2l0.8 0.3l0.8 0.3l0.7 0l0.8-1.1l0.8-1.5l0.7-2.4l0.8 0.6l0.8 1l0.7 1.4l0.8 0.5l0.8-1l0.7-1.5l0.8-4.4l0.8 1.8l0.7-1.1l0.8-1.3l0.8-1.1l0.8-0.7l0.7-0.3l0.8-0.2l0.8-0.1l0.7-0.3l0.8-0.8l0.8-0.9l0.7-0.5l0.8 0.3l0.8 1.3l0.7 1l0.8 1.4l0 3.2z"/>
<path transform="translate(152.8 395.6)" d="M0 0l0-7.7l0.8-0.9l0.7-0.9l0.8-0.8l0.8-0.6l0.7-1.7l0.8-2.3l0.8-1.9l0.7-0.6l0.8-0.9l0.8-1l0.7-1l0.8-0.6l0.8-0.2l0.8-0.3l0.7-0.7l0.8-1.4l0.8-1.9l0.7-1.8l0.8-1.5l0.8 0.6l0.7 2.2l0.8 1.8l0.8-0.6l0.7-3.3l0.8-4.1l0.8-3l0.7-0.2l0.8 2.2l0.8 2.5l0.7-1.9l0.8 1.6l0.8-2.5l0.7-2.4l0.8-1.3l0.8-0.3l0.8 0l0.7 0l0.8-0.2l0.8 0.6l0.7 0.9l0.8 0.6l0.8-1.3l0.7 1.2l0.8 0.1l0.8-0.3l0.7-0.6l0.8-8.7l0.8 6.6l0.7-0.9l0.8-2l0.8-8l0.7 2.4l0.8-1.5l0.8 0.3l0.7 1l0.8-7.7l0.8-2.2l0.7 3.8l0.8 1.6l0.8 0.3l0.8-0.9l0.7-1.8l0.8-1.6l0.8-0.7l0.7 0.5l0.8 0.9l0.8 0.7l0.7 0l0.8-1.6l0.8-2.3l0.7-1.7l0.8-0.4l0.8 1.5l0.7-0.5l0.8 3.2l0.8-1.4l0.7-3.2l0.8-3.3l0.8-1.8l0.7 0.7l0.8 2.1l0.8 1.9l0.8 0.1l0.7-1.6l0.8-2l0.8-1.4l0.7-0.4l0.8-0.7l0.8-0.8l0.7-0.4l0.8 0.6l0.8 1.6l0.7 1.3l0.8-0.4l0 4.3z"/>
<path transform="translate(153.8 395.9)" d="M0 0l0-6.6l0.8-1l0.7-1.1l0.8-1.1l0.8-0.8l0.7-1.6l0.8-2.1l0.8-1.7l0.7-0.8l0.8-0.7l0.8-0.9l0.7-0.9l0.8-0.5l0.8-0.2l0.8-0.2l0.7-0.7l0.8-1.6l0.8-2.2l0.7-2.3l0.8-1.6l0.8 0.3l0.7 1.6l0.8 1.4l0.8-0.7l0.7-2.8l0.8-3.5l0.8-2.7l0.7-0.3l0.8 1.5l0.8 1.9l0.7 0.6l0.8-1.3l0.8-2.2l0.7-2.1l0.8-1.2l0.8 0.1l0.8 0.6l0.7 0.6l0.8 0l0.8 0.4l0.7 0.7l0.8 0.4l0.8-0.1l0.7-0.1l0.8 0l0.8-0.3l0.7-0.5l0.8-0.7l0.8-1l0.7-1l0.8-1.7l0.8-2.5l0.7-2.5l0.8-1.7l0.8-0.6l0.7-2.6l0.8 2.2l0.8-1.2l0.7-1.5l0.8-1.2l0.8-0.8l0.8-0.8l0.7-1.3l0.8-1.2l0.8-0.6l0.7 0.1l0.8 0.4l0.8 0.4l0.7-0.1l0.8-1.5l0.8-1.9l0.7-1.5l0.8-0.3l0.8 1.2l0.7 1.4l0.8 0.7l0.8-1.2l0.7-2.6l0.8-2.7l0.8-1.4l0.7 0.8l0.8 2.2l0.8 1.8l0.8 0.1l0.7-1.7l0.8-2l0.8-1.4l0.7-0.1l0.8-0.4l0.8-0.3l0.7-0.2l0.8 0.5l0.8 1.2l0.7 0.9l0.8 1.1l0 2.6z"/>
<path transform="translate(154.8 396.2)" d="M0 0l0-8.1l0.8 0.2l0.7-1.5l0.8-1.4l0.8-0.8l0.7-1.2l0.8-1.3l0.8-1.3l0.7-0.5l0.8 0.5l0.8 0.7l0.7 0.2l0.8-0.6l0.8-0.5l0.8-0.5l0.7-0.7l0.8-1.6l0.8-2.7l0.7-2.7l0.8-1.7l0.8-1.3l0.7-1.2l0.8-1.1l0.8-0.9l0.7-0.4l0.8-0.2l0.8-0.4l0.7-1l0.8-2l0.8-2l0.7-1.5l0.8-0.8l0.8-0.7l0.7-0.8l0.8-0.6l0.8 1l0.8 2.5l0.7 2.1l0.8 0l0.8-1.4l0.7-1.7l0.8-1l0.8 0l0.7-2.1l0.8 2.5l0.8-0.1l0.7-0.4l0.8-0.6l0.8-0.9l0.7-1.1l0.8-0.8l0.8-0.5l0.7-0.7l0.8-2.3l0.8-1.6l0.7-3.4l0.8-3l0.8-1.6l0.7-0.8l0.8-0.2l0.8-0.2l0.8 0.3l0.7 1.4l0.8 1.3l0.8 0.3l0.7-1.2l0.8-2l0.8-1.6l0.7-0.4l0.8 0.3l0.8 0.7l0.7 0.3l0.8-0.6l0.8-1.7l0.7-2l0.8-1.3l0.8-0.1l0.7 0.9l0.8 1l0.8 0.1l0.7-0.5l0.8-0.5l0.8-0.5l0.8-0.5l0.7-1l0.8-1.3l0.8-0.7l0.7 0.1l0.8 0.5l0.8 0.6l0.7 0.2l0.8 0l0.8-0.2l0.7-0.2l0.8 0.9l0 3.2z"/>
<path transform="translate(155.7 396.5)" d="M0 0l0-7l0.8-1.1l0.7-1.6l0.8-1.4l0.8-0.9l0.7-0.8l0.8-1l0.8-1l0.7-0.4l0.8 0.9l0.8 1.2l0.7 0.6l0.8-0.6l0.8-5l0.8 3.8l0.7-0.7l0.8-1.5l0.8-2.6l0.7-2.6l0.8-1.7l0.8-1.6l0.7-2.1l0.8-1.8l0.8-0.9l0.7 0.4l0.8 0.9l0.8 0.3l0.7-1.3l0.8-3.2l0.8-3.5l0.7-2.3l0.8-0.8l0.8-0.4l0.7-0.4l0.8-0.6l0.8 1.3l0.8 2.9l0.7 2.4l0.8 0l0.8-2.1l0.7-2.4l0.8-1.6l0.8-0.1l0.7 0.1l0.8 0.1l0.8-0.1l0.7-0.4l0.8-0.6l0.8-0.9l0.7-1l0.8-0.2l0.8 0.5l0.7 0.4l0.8-0.9l0.8-2.9l0.7-3.9l0.8-3.3l0.8-1.5l0.7-0.5l0.8 0l0.8-0.1l0.8 0.5l0.7 1.9l0.8 1.8l0.8-3.3l0.7 2.3l0.8-2.4l0.8-2l0.7-0.4l0.8 0.7l0.8 1.3l0.7-1.6l0.8-0.4l0.8-0.6l0.7-3.1l0.8-2.2l0.8 0.1l0.7 1.8l0.8 1.9l0.8 0.4l0.7-1l0.8-1.4l0.8-1.3l0.8-0.7l0.7-0.9l0.8-1l0.8-0.7l0.7 0.1l0.8 0.7l0.8 0.8l0.7 0.3l0.8-0.3l0.8-0.6l0.7-0.6l0.8 0.8l0 3.7z"/>
<path transform="translate(156.7 396.7)" d="M0 0l0-9.4l0.8-1l0.7-1.2l0.8-1.1l0.8-0.7l0.7-0.2l0.8 0.2l0.8 0l0.7-0.4l0.8 0.5l0.8 0.7l0.7 0.2l0.8-0.6l0.8-1.5l0.8-0.4l0.7-0.2l0.8-1.4l0.8-2.2l0.7-2.2l0.8-1.4l0.8-1.2l0.7-1.5l0.8-1.3l0.8-0.7l0.7 0.5l0.8 0.8l0.8-1.7l0.7 0.7l0.8-2.8l0.8-3.3l0.7-2.3l0.8-1.2l0.8-1l0.7-0.9l0.8-0.9l0.8 0l0.8 0.7l0.7 0.6l0.8-0.1l0.8 0.1l0.7 0.4l0.8 0.1l0.8-0.3l0.7-0.5l0.8-0.6l0.8-0.6l0.7-0.7l0.8-1l0.8-1.3l0.7-1l0.8 0.3l0.8 1.1l0.7-4.1l0.8 4.6l0.8-1.5l0.7-1.7l0.8-1.5l0.8-1.1l0.7-1.4l0.8-1.4l0.8-0.9l0.8-0.4l0.7-0.1l0.8-0.1l0.8-0.3l0.7-0.1l0.8 0l0.8 0.1l0.7-0.2l0.8 0.1l0.8-0.7l0.7 1.2l0.8-0.8l0.8-2.3l0.7-2.8l0.8-2.1l0.8-0.7l0.7 0.1l0.8 0.3l0.8-0.4l0.7-0.4l0.8 0l0.8 0l0.8-0.4l0.7-1.6l0.8-2l0.8-1.4l0.7-0.3l0.8 0.1l0.8 0l0.7-0.1l0.8 0l0.8 0.4l0.7 0.3l0.8 1.1l0 3.5z"/>
<path transform="translate(157.7 397)" d="M0 0l0-11.2l0.8-0.9l0.7-0.9l0.8-0.9l0.8-0.6l0.7 0.4l0.8 1l0.8 0.6l0.7-0.2l0.8 0.1l0.8 0.4l0.7-4l0.8 2.5l0.8-2.2l0.8-4.5l0.7 1.7l0.8-2.7l0.8 3l0.7-1.9l0.8-1.2l0.8-3.8l0.7 1.7l0.8-1l0.8-4l0.7 3.9l0.8 0.8l0.8-0.2l0.7-0.7l0.8-2.6l0.8-3.1l0.7-2.3l0.8-1.3l0.8-1.4l0.7-1.3l0.8-1l0.8-1l0.8-0.9l0.7-0.8l0.8-0.2l0.8 1.8l0.7 2.2l0.8 1.9l0.8-0.4l0.7-1l0.8-1.1l0.8-0.9l0.7-0.9l0.8-1.5l0.8-1.6l0.7-1l0.8 0.5l0.8 1.5l0.7 1.2l0.8-0.1l0.8-0.6l0.7-0.5l0.8-0.6l0.8-0.9l0.7-2l0.8-2l0.8-1.4l0.8-0.8l0.7-1.2l0.8-1.2l0.8-0.7l0.7 0.6l0.8 1.3l0.8-1.5l0.7 0.6l0.8-2.3l0.8 3.8l0.7-0.2l0.8-0.9l0.8-2l0.7-4.8l0.8 0.2l0.8-1l0.7-0.9l0.8-0.9l0.8-0.9l0.7 0l0.8 0.9l0.8 0.9l0.8-0.2l0.7-2l0.8-2.7l0.8-2l0.7-0.4l0.8-0.6l0.8-0.6l0.7-0.4l0.8 0.3l0.8 1.3l0.7 0.9l0.8 1.4l0 3.2z"/>
<path transform="translate(158.6 397.3)" d="M0 0l0-9.1l0.8-1.2l0.7-1.6l0.8-1.5l0.8-0.8l0.7 0.5l0.8 1l0.8 0.7l0.7-0.2l0.8 0.1l0.8-2.8l0.7 3l0.8-0.7l0.8-3.5l0.8-1l0.7 2.4l0.8-1.2l0.8-1.7l0.7-1.6l0.8-1l0.8-0.9l0.7-1l0.8-1l0.8-0.7l0.7-0.4l0.8-0.5l0.8-0.7l0.7-1.2l0.8-2.1l0.8-2.4l0.7-1.9l0.8-1l0.8-0.4l0.7-0.2l0.8-0.7l0.8-1l0.8-1.1l0.7-1l0.8-0.4l0.8 1.2l0.7 1.9l0.8 1.2l0.8-0.5l0.7-1l0.8-1.1l0.8-0.8l0.7-1l0.8-1.7l0.8-1.5l0.7-1l0.8 0.1l0.8 0.6l0.7-2.8l0.8 3l0.8-0.7l0.7-3.6l0.8 2l0.8-0.9l0.7-1.4l0.8-1.4l0.8-1l0.8-0.5l0.7-0.5l0.8-0.4l0.8-0.4l0.7-0.1l0.8 0.2l0.8 0.1l0.7-0.2l0.8-0.4l0.8-0.3l0.7-0.4l0.8-0.8l0.8-1.4l0.7-1.7l0.8-1.4l0.8-0.8l0.7-0.5l0.8-0.3l0.8-0.6l0.7-0.3l0.8 0.3l0.8-0.8l0.8 0.7l0.7-2l0.8-2.7l0.8-2l0.7-0.4l0.8 0.2l0.8 0.2l0.7 0l0.8 0l0.8 0.4l0.7 0.3l0.8 1.2l0 3.6z"/>
<path transform="translate(159.6 397.5)" d="M0 0l0-6l0.8-1.7l0.7-2.6l0.8-2.4l0.8-1.1l0.7 0.5l0.8-1.4l0.8-0.9l0.7 4l0.8-0.3l0.8 0.6l0.7-0.1l0.8-1.8l0.8 0.5l0.8-0.7l0.7-0.7l0.8-0.9l0.8-7.8l0.7 5.2l0.8-5.6l0.8 4l0.7-0.8l0.8-0.8l0.8-0.8l0.7-1.8l0.8-2.2l0.8-2.1l0.7-1.3l0.8-1.3l0.8-1.4l0.7-1.4l0.8-0.5l0.8 1l0.7 1.2l0.8-0.1l0.8-1.2l0.8-1.4l0.7-1.3l0.8-0.6l0.8 0.5l0.7 0.8l0.8 0.4l0.8-0.6l0.7-0.9l0.8-1.1l0.8-0.8l0.7-2.4l0.8-0.3l0.8-1.8l0.7-1.2l0.8-0.7l0.8-0.7l0.7-0.6l0.8-0.8l0.8-1.2l0.7-1.5l0.8-1.4l0.8-0.8l0.7-0.5l0.8-0.2l0.8-0.4l0.8 0.1l0.7 1l0.8 0.9l0.8 0.2l0.7-1.3l0.8-1.9l0.8-1.6l0.7-0.5l0.8-0.6l0.8-0.7l0.7-0.6l0.8-0.5l0.8-0.2l0.7-0.1l0.8-0.4l0.8-0.2l0.7 0.4l0.8 0.6l0.8-0.1l0.7-0.6l0.8-3.2l0.8 1.9l0.8-0.7l0.7-2l0.8-2.6l0.8-2.1l0.7-0.3l0.8 1.1l0.8 1.5l0.7 0.3l0.8-0.3l0.8-0.8l0.7-0.8l0.8 1.1l0 4.3z"/>
<path transform="translate(160.5 397.8)" d="M0 0l0-9.7l0.8 2.4l0.7-2l0.8-1.9l0.8-1l0.7 0.2l0.8 0.7l0.8 0.3l0.7-0.3l0.8-0.2l0.8 0l0.7-2.4l0.8 1.5l0.8-0.6l0.8-0.5l0.7-0.6l0.8-0.8l0.8-1l0.7-1l0.8-0.7l0.8-0.8l0.7-1l0.8-0.9l0.8-0.8l0.7-1.7l0.8-2.1l0.8-1.9l0.7-1.2l0.8-1.1l0.8-1l0.7-1.2l0.8-0.8l0.8 0.3l0.7 0.4l0.8-0.4l0.8-0.7l0.8-0.7l0.7-0.6l0.8-0.6l0.8-0.1l0.7 0.1l0.8-0.1l0.8-0.8l0.7-1.3l0.8-2.8l0.8 0.3l0.7-1l0.8-0.8l0.8-1l0.7-1l0.8-0.9l0.8-1.2l0.7-1.1l0.8-0.9l0.8-1.3l0.7-1.4l0.8-1.3l0.8-1l0.7-0.8l0.8-0.7l0.8-0.5l0.8 0.1l0.7 1.2l0.8 1.1l0.8 0.2l0.7-1.2l0.8-1.9l0.8-1.5l0.7-0.5l0.8-0.6l0.8-0.7l0.7-0.6l0.8-0.3l0.8 0.3l0.7 0.5l0.8 0.2l0.8-0.2l0.7 0.4l0.8 0.4l0.8-0.1l0.7-0.6l0.8-0.5l0.8-0.5l0.8-0.7l0.7-1.7l0.8-2.4l0.8-1.9l0.7-0.5l0.8 0.8l0.8 1.2l0.7-1.1l0.8 0.9l0.8-1.2l0.7-1.1l0.8 1.1l0 4.5z"/>
<path transform="translate(161.5 398.1)" d="M0 0l0-7.6l0.8-0.4l0.7 0.1l0.8 0l0.8-0.4l0.7-1.4l0.8-0.1l0.8-0.7l0.7-0.7l0.8-0.7l0.8-0.7l0.7-0.7l0.8-0.6l0.8-1.7l0.8 1.3l0.7-0.4l0.8-0.5l0.8-1.4l0.7 0.5l0.8-0.5l0.8-2.5l0.7-0.4l0.8-1.5l0.8-0.8l0.7-1.1l0.8-1.3l0.8-1.3l0.7-0.9l0.8-0.5l0.8-0.4l0.7-0.7l0.8-1.5l0.8-2.1l0.7-2.1l0.8-1.4l0.8 0.7l0.8 1.7l0.7 1.4l0.8-0.2l0.8-1.3l0.7-1.6l0.8-1.2l0.8-1.2l0.7-2.2l0.8-2.5l0.8-1.7l0.7 0l0.8 1.4l0.8 1.3l0.7 0l0.8-1.3l0.8-1.7l0.7-1.6l0.8-1l0.8-0.4l0.7-0.4l0.8-0.4l0.8-1.2l0.7-2.2l0.8-2.4l0.8-1.4l0.8-0.2l0.7 0.5l0.8 0.4l0.8-0.1l0.7-0.3l0.8-0.4l0.8-0.3l0.7-0.2l0.8-0.5l0.8-0.6l0.7-0.6l0.8-0.2l0.8 1l0.7 1.3l0.8 0.6l0.8-0.6l0.7-0.8l0.8-0.8l0.8-0.6l0.7-0.3l0.8 0l0.8-0.2l0.8-0.5l0.7-1.2l0.8-1.5l0.8-1.2l0.7-0.6l0.8-1.2l0.8 1.4l0.7-2.1l0.8-0.2l0.8-0.1l0.7-1.3l0.8 0.8l0 4.2z"/>
<path transform="translate(162.5 398.4)" d="M0 0l0-8.3l0.8-0.2l0.7 0.7l0.8 0.6l0.8-0.2l0.7-1l0.8-1.1l0.8-1.7l0.7 0l0.8-0.7l0.8-0.9l0.7-0.8l0.8-0.6l0.8-0.2l0.8-0.1l0.7-0.4l0.8-0.5l0.8-0.3l0.7-0.3l0.8-0.6l0.8-1.4l0.7-2.1l0.8-1.7l0.8-1l0.7-0.8l0.8-1l0.8-1l0.7-0.8l0.8-2.1l0.8 1.9l0.7-0.4l0.8-1.5l0.8-2.6l0.7-2.5l0.8-1.4l0.8 0.9l0.8 2.2l0.7 1.7l0.8-0.3l0.8-1.5l0.7-1.9l0.8-1.6l0.8-1.3l0.7-2.6l0.8-2.9l0.8-2l0.7 0.3l0.8 2l0.8 2l0.7 0.3l0.8-1.3l0.8-1.9l0.7-1.8l0.8-0.9l0.8-0.3l0.7 0.1l0.8-0.2l0.8-1.1l0.7-2.4l0.8-2.4l0.8-1.5l0.8-0.4l0.7 0l0.8 0l0.8-0.2l0.7-0.1l0.8 0.3l0.8 0.1l0.7-0.1l0.8-0.6l0.8-0.7l0.7-0.6l0.8-0.2l0.8 1.2l0.7 1.4l0.8 0.6l0.8-0.6l0.7-1.2l0.8-1.1l0.8-0.7l0.7-0.2l0.8-0.1l0.8-0.1l0.8-0.5l0.7-0.8l0.8-1.1l0.8-0.9l0.7-0.6l0.8-0.2l0.8-0.8l0.7 0.2l0.8-0.9l0.8-2.5l0.7 0l0.8 0.5l0 3.4z"/>
<path transform="translate(163.4 398.6)" d="M0 0l0-6.2l0.8-0.8l0.7-0.8l0.8-0.7l0.8-0.6l0.7-0.9l0.8-1.1l0.8-0.9l0.7-0.5l0.8-0.3l0.8-0.3l0.7-0.5l0.8-0.6l0.8-0.3l0.8-1.7l0.7 0.9l0.8-0.6l0.8-0.3l0.7-0.3l0.8-0.6l0.8-1.3l0.7-1.5l0.8-1.4l0.8-0.9l0.7-1l0.8-1l0.8-0.9l0.7-0.7l0.8-0.7l0.8-0.7l0.7-0.8l0.8-0.8l0.8-0.9l0.7-0.9l0.8-0.8l0.8 0l0.8 0.3l0.7 0.2l0.8-0.6l0.8-0.7l0.7-0.8l0.8-0.7l0.8-1.3l0.7-2.9l0.8-3.3l0.8-2.2l0.7 0.1l0.8 1.5l0.8 1.4l0.7 0.2l0.8-1.7l0.8-2.6l0.7-2.3l0.8-1.1l0.8-0.5l0.7-0.4l0.8-0.5l0.8-0.6l0.7 0.6l0.8 0.9l0.8 0.3l0.8-1l0.7-1.9l0.8-1.9l0.8-0.9l0.7 0.7l0.8 1.4l0.8 1.2l0.7-0.1l0.8-1.4l0.8-1.9l0.7-1.5l0.8-0.2l0.8 1.2l0.7 1.5l0.8 0.7l0.8-0.8l0.7-1.5l0.8-1.5l0.8-0.8l0.7-0.4l0.8-0.4l0.8-0.5l0.8-0.7l0.7-0.1l0.8 0l0.8-2.2l0.7 1.6l0.8-0.7l0.8-0.6l0.7-2.3l0.8 1.1l0.8-1.6l0.7 0.5l0.8 0.2l0 2z"/>
<path transform="translate(164.4 398.9)" d="M0 0l0-4.2l0.8-1.3l0.7-1.9l0.8-1.7l0.8-0.9l0.7-0.8l0.8-1l0.8-0.9l0.7-0.3l0.8-0.1l0.8 0l0.7-0.3l0.8-0.5l0.8-0.4l0.8-0.4l0.7-0.6l0.8-0.6l0.8-0.4l0.7-0.3l0.8-0.6l0.8-1l0.7-1.1l0.8-1.1l0.8-0.8l0.7-0.9l0.8-1l0.8-0.9l0.7-0.8l0.8-1.2l0.8-1.2l0.7-1l0.8-0.4l0.8 0.1l0.7 0.1l0.8-0.4l0.8-0.7l0.8-0.8l0.7-0.8l0.8-0.7l0.8-0.3l0.7 0l0.8-0.2l0.8-1.2l0.7-3l0.8-3.3l0.8-2.3l0.7-0.2l0.8 1.1l0.8 1l0.7 0l0.8-1.9l0.8-2.9l0.7-2.5l0.8-1.2l0.8-0.7l0.7-0.7l0.8-0.8l0.8-0.2l0.7 2.4l0.8 2.9l0.8 1.4l0.8-1.5l0.7-3l0.8-2.9l0.8-1.4l0.7 1.1l0.8 2.1l0.8 1.7l0.7 0l0.8-2l0.8-2.5l0.7-2l0.8-0.3l0.8 1.2l0.7 1.1l0.8 1l0.8-0.9l0.7-1.7l0.8-1.6l0.8-0.8l0.7-0.5l0.8-0.7l0.8-0.7l0.8-0.6l0.7 0.2l0.8 0.5l0.8 0.2l0.7-0.5l0.8-0.8l0.8-0.9l0.7-0.7l0.8-0.5l0.8-0.2l0.7-0.2l0.8 0l0 1.3z"/></g>
<path d="M38.5 363.4L38.5 303.9M38.5 363.5h-2.2M38.5 348.5h-2.2M38.5 333.5h-2.2M38.5 318.5h-2.2M38.5 303.5h-2.2M164.4 398.9l-2 1.7M138 391.5l-2 1.7M111.6 384l-2 1.7M85.2 376.6l-2 1.7M58.8 369.2l-2 1.7M164.4 398.9l2.5 0.7M182.4 383.7l2.5 0.7M200.5 368.4l2.5 0.7M218.6 353.2l2.5 0.7M236.6 338l2.5 0.7M38.2 363.4L164.4 398.9L236.6 338" fill="none" stroke="#3a3a3a" stroke-width="0.6"/>
</g>
<g filter="url(#bt)">
<g class="tk"><text x="33.6" y="365.4" text-anchor="end">0</text><text x="33.6" y="350.5" text-anchor="end">2</text><text x="33.6" y="335.6" text-anchor="end">4</text><text x="33.6" y="320.8" text-anchor="end">6</text><text x="33.6" y="305.9" text-anchor="end">8</text><text x="158.4" y="409.4" text-anchor="middle">0</text><text x="132" y="402" text-anchor="middle">5</text><text x="105.6" y="394.5" text-anchor="middle">10</text><text x="79.2" y="387.1" text-anchor="middle">15</text><text x="52.8" y="379.7" text-anchor="middle">20</text><text x="169.9" y="406.8">0</text><text x="187.9" y="391.6">500</text><text x="206" y="376.3">1000</text><text x="224.1" y="361.1">1500</text><text x="242.1" y="345.9">2000</text></g>
<text class="ti" transform="translate(18.6 332.9) rotate(-90)" y="2.5" text-anchor="middle" textLength="47.4" lengthAdjust="spacing">Amplitude</text>
<text class="ti" transform="translate(91.2 403) rotate(15.7)" y="2.5" text-anchor="middle" textLength="73" lengthAdjust="spacing">Frequency(kHz)</text>
<text class="ti" transform="translate(226.5 381.6) rotate(-41.6)" y="2.5" text-anchor="middle" textLength="40.5" lengthAdjust="spacing">Sampling</text>
<text class="ti" transform="translate(235.5 391.5) rotate(-41.6)" y="2.5" text-anchor="middle" textLength="47.5" lengthAdjust="spacing">number(n)</text>
<text class="cap" x="137.6" y="440.9" text-anchor="middle">(<tspan font-weight="bold">c</tspan>)</text>
</g>
<!-- plot d -->
<g filter="url(#bl)">
<path d="M326.1 365L326.1 303.8M344.2 349.1L344.2 287.9M362.2 333.3L362.2 272.1M380.3 317.4L380.3 256.2M398.4 301.6L398.4 240.4M326.1 365L398.4 301.6L524 338M326.1 349.7L398.4 286.3L524 322.7M326.1 334.4L398.4 271L524 307.4M326.1 319.1L398.4 255.7L524 292.1M326.1 303.8L398.4 240.4L524 276.8M418.9 307.5L418.9 246.3M445.2 315.2L445.2 254M471.4 322.8L471.4 261.6M497.7 330.4L497.7 269.2M524 338L524 276.8" fill="none" stroke="#dedede" stroke-width="0.6"/>
<path d="M385.4 313.6v-1.2" stroke="#30d0f0" stroke-width="1"/><path d="M384.4 314.4v-1" stroke="#30a0f0" stroke-width="1"/>
<polygon points="451.7,401.4 326.1,365 398.4,301.6 524,338" fill="#030398"/>
<path d="M455.8 376.7L455 376.4M462.8 353.6L462 353.4M441.6 368.1L441 367.9M454.9 372.4L453.3 371.9M485.6 357L482.5 356.1M478.1 377.5L477.3 377.3M481.6 350.5L477.6 349.4M505.6 341.5L505 341.4M435.9 394.9L435 394.7M450.2 385.3L448.6 384.8M436.7 390.4L433.8 389.6M431.1 367.8L430.2 367.5M445.7 392.2L444 391.8M448.8 388.9L446.9 388.3M399.8 384.9L396.9 384.1M475.6 332.3L475 332.1M436.9 382.5L436.1 382.3M489.4 368.3L488.7 368.1M420.7 388.1L419.6 387.8M450.3 368.6L446.8 367.5M463.5 335.4L460.5 334.5M506.1 350.3L503.2 349.5M443.7 377.4L443.2 377.2M457.7 371L457 370.8M462.6 388.9L458.9 387.8M456.1 358.1L455.4 357.9M473.5 374.4L471.7 373.9M445.1 384.5L443.3 383.9M465.6 384.3L464.3 383.9M446.8 358.8L444.2 358.1M476 377L474.4 376.5M463.7 372.2L463.1 372M486.1 353.5L485.5 353.3M460.4 392.2L459.5 391.9M405.6 377.8L403.3 377.2M415.2 365.5L413.6 365.1M472.3 371.7L471.5 371.5M484.7 338.2L482.1 337.4M430.4 388.1L429.3 387.8M403.3 367L401.6 366.5M439.6 387.1L438.4 386.8M505.7 350.7L504.9 350.5M449.7 373.5L447.4 372.8M487.2 337.4L484.8 336.7M466.5 340.6L465.3 340.2M443.8 364.5L443.2 364.3M503.9 340.1L502.6 339.8M471.5 357.7L467.9 356.7M423.2 392L420 391.1M448.1 381.8L447.5 381.6M495.9 339.5L493.5 338.8M437.7 342.9L433.9 341.8M413.5 383.3L412.9 383.1M454.4 347.4L451 346.4M495.8 347.7L495.1 347.5M486.2 338L484.9 337.6M476.1 363.8L475 363.5M465 388.9L462 388M499.5 350.7L497.4 350.1M477.2 357.5L476.3 357.3M444.4 358.6L443.6 358.4M507.1 346.5L505.5 346M446.5 359.6L445.3 359.2M510.7 341.6L508.4 341M472.7 366.9L470.9 366.4M478.3 370.5L477.7 370.3M440.9 389.7L437.7 388.8M445.8 372.1L445 371.9M426.4 338.1L425.8 337.9M464.1 385.3L460.3 384.2M489.2 361.4L486.8 360.7M475.3 352.3L471.5 351.2M465.1 363.2L461.4 362.2M498 330.8L495.9 330.2M436.4 366.1L433.2 365.2M480 356.9L479.1 356.6M449 384.6L448.2 384.4M471.5 379.1L467.8 378M466 332.4L463.5 331.6M427.9 389.6L425.7 388.9M468.8 334.4L467.2 333.9M433.1 395.3L431.1 394.7M428.9 339.2L427.9 338.8M458.1 393.4L457.5 393.2M426.1 389.3L425.5 389.1M477.7 351.3L473.8 350.1M514.9 338.9L514.4 338.7M455.3 364.9L454.3 364.7M457.5 358.5L455.2 357.8M479.7 364.8L477.9 364.2M502.3 349.7L499 348.7M467.4 364.7L465.6 364.2M467.6 350.5L466.1 350.1M458.3 373.9L457.7 373.7M504 353.3L503 353M481.2 359.3L480.5 359.1M443.6 367.9L442.9 367.7M443 360.7L442.4 360.5M462 392.1L460 391.6M475.1 355.7L471.2 354.6M517.5 338.4L515.7 337.8M473.6 351.1L472.9 350.9M477.8 372.5L477.1 372.3M464.7 344.5L463 344M482.8 360.6L482 360.3M461.1 381L460 380.7M479.4 342.1L477.4 341.5M492.7 347.1L492.2 346.9M453.2 327.1L452.3 326.8M444.1 370.5L443.1 370.2M429.7 391L429.1 390.8M485 365.6L483.1 365M503.4 352.7L502.8 352.6M506.2 336.6L503.9 335.9M418.8 367.3L418.2 367.1M411.8 384.7L411 384.5M507 341.7L506.4 341.6M415.2 390.5L414.2 390.2M473.7 381.8L470 380.7M514.9 340.5L514.2 340.3M461.2 336.9L460.6 336.8M478.3 372.9L477.7 372.7M457.2 376L455.5 375.5M495.2 357.2L494.6 357M496.2 354.7L493.5 353.9M473.3 324.8L472.5 324.6M459.3 388L458.6 387.7M469.2 385.7L468.6 385.5M499.2 349.1L498.5 348.9M501.2 349.8L500.2 349.5M481.2 370.7L480.1 370.4M431.7 365.1L428 364M456.4 370.7L455.8 370.5M433.9 387.5L433.2 387.3M429.1 385.6L426 384.7M457.7 392.7L454.5 391.8M470.3 376.3L467.3 375.4M472.6 368.3L471.7 368M477.3 354.8L476.5 354.6M431.3 336.9L428.1 335.9M445.5 395.2L441.8 394.1M495.2 352.2L491.9 351.2M477.4 366.8L473.9 365.8M425 390.5L421.7 389.5M446.5 372L445.6 371.7M454.3 385.3L452.4 384.8M484.4 353.1L481.3 352.2M488.4 330.6L487 330.2M452.4 382.9L451.6 382.6M454 366.8L451.7 366.1M476.5 369.6L475.1 369.2M452.5 350.4L451.6 350.1M418.9 368.9L418.3 368.8M480.6 367.4L479.1 367M487 364.4L486.1 364.1M479.9 361.6L478.4 361.2M423.4 379.1L420.9 378.4M399.3 381.3L395.6 380.3M471.8 380L471.1 379.8M497.8 336.1L497 335.8M489.8 344.2L488.4 343.8M484.1 370.2L483.3 370M392.1 372.9L391 372.6M427.1 376.6L424.1 375.7M476.6 366.2L474.7 365.6M473.5 361.9L471 361.2M486.2 354.5L485 354.2M453.4 397.8L449.6 396.7M458.8 348L458 347.8M444 349.8L443.3 349.6M482.9 370.6L480.7 370M444.3 393.3L442.2 392.7M493.5 359.8L491.1 359.1M471 380.3L470.3 380.1M495.5 354.1L494.5 353.8M517 343.8L514.2 343M483.7 360.6L481.9 360M483.9 365.5L482.8 365.1M446.2 356.1L443.7 355.3M444.2 379.1L443.7 378.9M447.9 376L447.3 375.8M471.5 364.9L470.9 364.7M489.9 365.7L489.2 365.5M426.6 373.6L426 373.5M459.6 381.1L458.2 380.7M434.5 354.9L431.7 354.1M421.1 375.7L420.3 375.5M499.4 344.3L495.6 343.2M451.5 366.9L450.9 366.7M449.4 359.1L448.5 358.8M443.4 361.4L442.5 361.1M461.3 390.1L460.4 389.9M400.1 368.7L399.2 368.4M465.2 384.3L462.2 383.4M489.3 350.1L488.1 349.7M489.8 344.3L489.3 344.1M438.8 376L437.6 375.7M491.9 353.1L490.9 352.9" stroke="#0816b8" stroke-width="0.7" fill="none"/>
<path d="M457.2 384.7L454.4 383.9M476.2 367L472.9 366M442.8 372.6L439.8 371.8M478.4 343.3L477.8 343.1M446.4 361.1L445.7 360.9M439.6 396.9L436.1 395.9M441.2 379.4L438.7 378.7M483.8 361.9L482.7 361.6M469.2 384.9L468.5 384.7M488.4 333.9L486.7 333.4M506.5 346L505.7 345.8M448.6 398.3L447 397.9M426.4 382.8L425.7 382.6M430.7 387.6L430 387.4M394.8 367.6L394 367.3M440.9 393.8L439.4 393.4M517.9 339.7L517.3 339.5M419.4 382L418.7 381.8M482 349.1L481.4 348.9M466.2 375.6L465.6 375.4M454.6 337.6L451 336.6M499 336.6L497.9 336.3M437.2 362.4L434.3 361.5M438.2 391.6L436.9 391.2M473.2 341.3L470.3 340.4" stroke="#1238e8" stroke-width="0.7" fill="none"/>
<path d="M496.8 351.3L495.7 351M416.6 384.4L415 383.9M475.3 372.3L473.4 371.8M441.8 394.6L440.2 394.1M431.1 389.4L428.4 388.6M426.6 359.7L425 359.3M413.4 375.4L412.4 375.1M460.6 358.4L457.7 357.6M437.4 343.6L436.8 343.4M462.9 372.9L461.3 372.5M433.1 380.4L430.6 379.7M471.4 372.2L470.8 372M447 358.9L446.2 358.6M456.5 397L455.8 396.8M454.9 355.2L454.3 355M461.1 373.9L459 373.3M477.7 364.8L475.4 364.1M466.9 340.4L464.7 339.8M464.3 363L463.7 362.8M458.4 375.8L456.8 375.4" stroke="#40f0f0" stroke-width="0.7" fill="none"/>
<path d="M433.8 361.6L430.2 360.6M453 393.9L452.3 393.6M422.3 360.7L419.3 359.8M453.3 395.9L450.7 395.2M440.1 395.1L438.3 394.6M419.6 373.1L418.4 372.7M449.4 353.1L447.3 352.4M498.6 358.2L497.4 357.9M507.8 341.9L504.2 340.9M495.2 358.1L494.1 357.8M469.1 359.3L465.3 358.2M487.6 328.3L484.9 327.5M481.5 327.7L479.9 327.3M443.9 393L441.4 392.2M516.4 339.7L514.7 339.2M453.6 399.2L452.8 399M463.3 325.7L461.1 325.1M449.6 400.7L449 400.6M458.1 388.7L457.4 388.5M469 371.6L467.2 371.1M475.1 347.5L474.5 347.3M434.7 396.4L431 395.3M486.7 342.4L484.6 341.8M465.2 363.3L462.1 362.4M466.2 340.3L465.1 340M480.6 328.2L479.9 328M449.2 378.7L448.5 378.5M449.1 373.5L447.2 373M479.8 347.2L478.7 346.9M522.6 338.3L522 338.1M490.8 332.2L489.3 331.7M497.1 353.7L494.6 352.9M478 359.5L477.2 359.3M476.8 354.7L474.8 354.1M463.4 372.8L462.8 372.6M495.7 339.4L495.2 339.2M437.9 387.1L436.7 386.7M487.2 360.3L485.4 359.8M447.4 397.3L446.8 397.1M429.3 357.5L428.3 357.2M504.7 353.2L501 352.1M446.3 393.5L443.6 392.7M469.4 374.1L467.4 373.5M468.6 378.4L467.4 378.1M429.2 378.5L425.5 377.5M473 381.2L472.3 381.1M433.9 344.3L432.2 343.8M505.3 336.2L504.6 336M460.4 372.4L458.9 372M466.3 373.6L464.5 373M499.3 341L498.7 340.8M480.6 357.2L476.8 356.1M427.7 385.5L424.9 384.7M440.5 374.8L439.8 374.6M473.7 352.9L472.8 352.6M450 359.9L449.4 359.7M414.2 378.9L413.6 378.7M493.1 331.5L492.5 331.3M420.8 366.6L420.2 366.4M499.6 349.5L498.5 349.2M447.8 344.2L446.7 343.9M434.1 384.2L433.3 383.9M454.5 363.8L453.4 363.5" stroke="#0a1fd0" stroke-width="0.7" fill="none"/>
<path d="M479 373L478 372.7M425.5 357.7L424.6 357.4M496.4 343.7L493.2 342.8M411.4 384.4L408.2 383.5M475.6 326.3L474.3 325.9M482.1 359.8L481 359.5M461.4 338.4L460.9 338.3M505.1 336.1L501.2 334.9M513.3 339.3L512.3 339M482 355.9L480.1 355.4M432.8 386.3L432.2 386.1M421.3 377.6L420.7 377.4M442.6 343.7L438.6 342.6M452.5 370.9L450.9 370.4M470 358.5L467.7 357.8M451.9 391.4L451.3 391.2M432.1 358.1L430.8 357.8M481.5 336.4L480 336M516.3 336.8L515.7 336.6M450.5 396.2L449.9 396M458.8 362.7L455.9 361.9M490 335.2L488 334.6M498.9 346.7L497.4 346.3M451.2 364.4L447.8 363.4M445.5 391.9L442.5 391" stroke="#1a5cff" stroke-width="0.7" fill="none"/>
<path d="M448.4 365L447.2 364.7M451.8 393.4L448.4 392.4M458.1 372.4L454.3 371.3M463.7 352.6L462.7 352.3M426 388.1L424.2 387.6M485.9 347.1L484.8 346.8M437 388.1L435.2 387.6M452.8 388.4L451.7 388M496.8 358.7L492.9 357.6M503.4 355.6L502.3 355.3M410.7 363.4L408.3 362.7M417.8 361.7L416 361.1M437.4 374.1L433.6 372.9M466.9 332.1L466.1 331.9M465 336.8L464 336.5M479.2 367.2L478.3 367M446.4 386.3L444.9 385.9M473.8 346.8L472.6 346.5M431.9 383.9L431.3 383.7M465.5 373.2L464.8 373M487.9 339L485.8 338.4M455.5 379.4L452.2 378.4M491.5 355L490.8 354.8M456.3 386.7L452.8 385.6M492.9 358.9L491.7 358.6M460.1 358.6L459.1 358.4M472 382.3L470.9 382M463.6 378.4L463 378.2M505 353.2L504.3 353M507.9 350.6L506.3 350.1M443.4 382.9L442.8 382.8M470.6 358.8L467.1 357.9M505.3 340L504.7 339.8M466.3 386.9L464.4 386.3M457.6 325.1L455.7 324.6" stroke="#0e2ce0" stroke-width="0.7" fill="none"/>
<path d="M490 353.6L489.4 353.4M471.6 371.7L470.5 371.4M486.2 369L485.6 368.8M455 321.5L453 320.9M450.9 363L449.8 362.7M474.8 349.5L473.4 349.1M425 390L424 389.7M464.9 355.4L464.1 355.1M482.2 361.9L481.6 361.8M478.9 375.7L476.9 375.1M458 327L457.4 326.8M452.6 372.6L450.1 371.9M476 365.9L475.3 365.7M482.4 373.3L480.4 372.8M453.8 399.3L453 399.1M457.6 386.9L457 386.7M423.2 378.1L420.7 377.4M510 337.3L509.1 337M450.7 375.3L447.9 374.5M458.2 374.9L457.5 374.7M463.2 357.5L462.3 357.2M504.2 349.7L502.3 349.2M478.8 367.8L476.1 367.1M418.7 387.8L418 387.6M487.4 331.4L484.7 330.7M449.8 395.4L447 394.6" stroke="#2a8cff" stroke-width="0.7" fill="none"/>
<path d="M447.5 398.2L444.1 397.2M503.4 342.5L502.6 342.3M486.1 328.8L482.3 327.7M479.4 372.9L478.1 372.6M491.6 365.5L491 365.3M445.1 372.5L444.5 372.3M487.1 345.7L485.9 345.4M490 335.4L489.2 335.2M485.2 357.2L483.9 356.9M483.2 331.7L480.7 331M450.5 339.8L447.5 338.9M452.1 371.9L449.2 371.1M439.8 370.3L438.6 370M502 345.1L498.1 344M476.9 372.2L476.3 372.1M460.1 358.5L457.7 357.8M451.1 361.9L450.4 361.7M430.5 361.7L429.1 361.3M472.7 369.1L471.2 368.6" stroke="#35c8ff" stroke-width="0.7" fill="none"/>
<path d="M450.9 401.2L455.2 397.4" stroke="#38e8f8" stroke-width="1.4" fill="none"/>
<path d="M455.2 397.4L460.3 392.9" stroke="#28b8ff" stroke-width="1.4" fill="none"/>
<path d="M460.3 392.9L476.2 379" stroke="#1470ff" stroke-width="1.4" fill="none"/>
<path d="M476.2 379L479.1 376.4" stroke="#30c8ff" stroke-width="1.4" fill="none"/>
<path d="M479.1 376.4L501.5 356.8" stroke="#1470ff" stroke-width="1.4" fill="none"/>
<path d="M501.5 356.8L505.8 353" stroke="#28a8ff" stroke-width="1.4" fill="none"/>
<path d="M505.8 353L515.9 344.1" stroke="#30c8ff" stroke-width="1.4" fill="none"/>
<path d="M515.9 344.1L519.5 340.9" stroke="#40f0e0" stroke-width="1.4" fill="none"/>
<path d="M519.5 340.9L521.2 339.5" stroke="#a0ff60" stroke-width="1.4" fill="none"/>
<path d="M521.2 339.5L522.3 338.5" stroke="#ffe000" stroke-width="1.4" fill="none"/>
<path d="M522.3 338.5L523.2 337.8" stroke="#ff3000" stroke-width="1.4" fill="none"/>
<path d="M326.5 365L326.5 303.8M326.5 365.5h-2.2M326.5 349.5h-2.2M326.5 334.5h-2.2M326.5 319.5h-2.2M326.5 303.5h-2.2M451.7 401.4l-2 1.7M425.4 393.8l-2 1.7M399.1 386.2l-2 1.7M372.9 378.6l-2 1.7M346.6 370.9l-2 1.7M451.7 401.4l2.5 0.7M469.8 385.5l2.5 0.7M487.9 369.7l2.5 0.7M505.9 353.8l2.5 0.7M524 338l2.5 0.7M326.1 365L451.7 401.4L524 338" fill="none" stroke="#3a3a3a" stroke-width="0.6"/>
</g>
<g filter="url(#bt)">
<g class="tk"><text x="321.5" y="367" text-anchor="end">0</text><text x="321.5" y="351.7" text-anchor="end">2</text><text x="321.5" y="336.4" text-anchor="end">4</text><text x="321.5" y="321.1" text-anchor="end">6</text><text x="321.5" y="305.8" text-anchor="end">8</text><text x="444.8" y="412.4" text-anchor="middle">0</text><text x="418.5" y="404.8" text-anchor="middle">5</text><text x="392.2" y="397.2" text-anchor="middle">10</text><text x="366" y="389.6" text-anchor="middle">15</text><text x="339.7" y="381.9" text-anchor="middle">20</text><text x="456.1" y="409.6">0</text><text x="474.2" y="393.7">500</text><text x="492.2" y="377.9">1000</text><text x="510.3" y="362">1500</text><text x="528.4" y="346.2">2000</text></g>
<text class="ti" transform="translate(307 331.1) rotate(-90)" y="2.5" text-anchor="middle" textLength="47.9" lengthAdjust="spacing">Amplitude</text>
<text class="ti" transform="translate(373.4 403.2) rotate(16.2)" y="2.5" text-anchor="middle" textLength="74.7" lengthAdjust="spacing">Frequency(kHz)</text>
<text class="ti" transform="translate(509.1 385.8) rotate(-42.7)" y="2.5" text-anchor="middle" textLength="40.9" lengthAdjust="spacing">Sampling</text>
<text class="ti" transform="translate(517.5 394.8) rotate(-42.7)" y="2.5" text-anchor="middle" textLength="48" lengthAdjust="spacing">number(n)</text>
<text class="cap" x="427" y="440.7" text-anchor="middle">(<tspan font-weight="bold">d</tspan>)</text>
</g>
</svg>
</body></html>
